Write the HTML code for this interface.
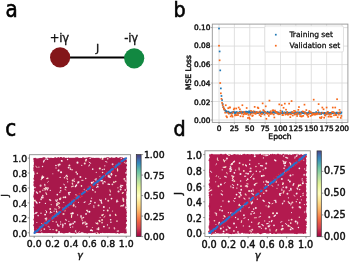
<!DOCTYPE html>
<html><head><meta charset="utf-8"><title>Figure</title>
<style>html,body{margin:0;padding:0;background:#fff;width:350px;height:262px;overflow:hidden}svg{display:block}</style>
</head><body>
<svg width="350" height="262" viewBox="0 0 350 262"><text transform="translate(5.6,17.2) scale(0.88,1)" style="font-family:DejaVu Sans,sans-serif;font-size:22.7px;stroke:#000;stroke-width:0.6px;paint-order:stroke" fill="#000">a</text>
<text transform="translate(173.6,16.7) scale(0.92,1)" style="font-family:DejaVu Sans,sans-serif;font-size:20.8px;stroke:#000;stroke-width:0.6px;paint-order:stroke" fill="#000">b</text>
<text transform="translate(5.2,135.6) scale(0.88,1)" style="font-family:DejaVu Sans,sans-serif;font-size:22.7px;stroke:#000;stroke-width:0.6px;paint-order:stroke" fill="#000">c</text>
<text transform="translate(173.6,135.5) scale(0.92,1)" style="font-family:DejaVu Sans,sans-serif;font-size:20.8px;stroke:#000;stroke-width:0.6px;paint-order:stroke" fill="#000">d</text>
<line x1="69" y1="57.4" x2="125" y2="57.4" stroke="#000" stroke-width="2"/>
<circle cx="60.1" cy="57.4" r="10.1" fill="#831619"/>
<circle cx="134.2" cy="58.3" r="10.1" fill="#128841"/>
<text x="49.8" y="41.6" style="font-family:'DejaVu Sans',sans-serif;stroke:#111;stroke-width:0.45px;paint-order:stroke;font-size:11.6px;stroke-width:0.3px" fill="#111">+<tspan style="font-family:Liberation Sans,sans-serif;font-size:12.4px">i</tspan>γ</text>
<text x="124.2" y="41.9" style="font-family:'DejaVu Sans',sans-serif;stroke:#111;stroke-width:0.45px;paint-order:stroke;font-size:11.6px;stroke-width:0.3px" fill="#111">-<tspan style="font-family:Liberation Sans,sans-serif;font-size:12.4px">i</tspan>γ</text>
<text x="96.0" y="51.7" style="font-family:'DejaVu Sans',sans-serif;stroke:#111;stroke-width:0.45px;paint-order:stroke;font-size:11px;stroke-width:0.3px" fill="#111">J</text>
<line x1="219.00" y1="24.1" x2="219.00" y2="122.4" stroke="#d8d8d8" stroke-width="0.8"/>
<line x1="234.38" y1="24.1" x2="234.38" y2="122.4" stroke="#d8d8d8" stroke-width="0.8"/>
<line x1="249.75" y1="24.1" x2="249.75" y2="122.4" stroke="#d8d8d8" stroke-width="0.8"/>
<line x1="265.12" y1="24.1" x2="265.12" y2="122.4" stroke="#d8d8d8" stroke-width="0.8"/>
<line x1="280.50" y1="24.1" x2="280.50" y2="122.4" stroke="#d8d8d8" stroke-width="0.8"/>
<line x1="295.88" y1="24.1" x2="295.88" y2="122.4" stroke="#d8d8d8" stroke-width="0.8"/>
<line x1="311.25" y1="24.1" x2="311.25" y2="122.4" stroke="#d8d8d8" stroke-width="0.8"/>
<line x1="326.62" y1="24.1" x2="326.62" y2="122.4" stroke="#d8d8d8" stroke-width="0.8"/>
<line x1="342.00" y1="24.1" x2="342.00" y2="122.4" stroke="#d8d8d8" stroke-width="0.8"/>
<line x1="212.3" y1="120.00" x2="347.9" y2="120.00" stroke="#d8d8d8" stroke-width="0.8"/>
<line x1="212.3" y1="101.52" x2="347.9" y2="101.52" stroke="#d8d8d8" stroke-width="0.8"/>
<line x1="212.3" y1="83.04" x2="347.9" y2="83.04" stroke="#d8d8d8" stroke-width="0.8"/>
<line x1="212.3" y1="64.56" x2="347.9" y2="64.56" stroke="#d8d8d8" stroke-width="0.8"/>
<line x1="212.3" y1="46.08" x2="347.9" y2="46.08" stroke="#d8d8d8" stroke-width="0.8"/>
<line x1="212.3" y1="27.60" x2="347.9" y2="27.60" stroke="#d8d8d8" stroke-width="0.8"/>
<rect x="218.15" y="27.67" width="1.7" height="1.7" fill="#1f77b4"/>
<rect x="218.77" y="50.59" width="1.7" height="1.7" fill="#1f77b4"/>
<rect x="219.38" y="69.53" width="1.7" height="1.7" fill="#1f77b4"/>
<rect x="220.00" y="87.55" width="1.7" height="1.7" fill="#1f77b4"/>
<rect x="220.61" y="95.13" width="1.7" height="1.7" fill="#1f77b4"/>
<rect x="221.22" y="99.19" width="1.7" height="1.7" fill="#1f77b4"/>
<rect x="221.84" y="103.16" width="1.7" height="1.7" fill="#1f77b4"/>
<rect x="222.46" y="106.21" width="1.7" height="1.7" fill="#1f77b4"/>
<rect x="223.07" y="107.69" width="1.7" height="1.7" fill="#1f77b4"/>
<rect x="223.69" y="108.80" width="1.7" height="1.7" fill="#1f77b4"/>
<rect x="224.30" y="109.54" width="1.7" height="1.7" fill="#1f77b4"/>
<rect x="224.91" y="110.09" width="1.7" height="1.7" fill="#1f77b4"/>
<rect x="225.53" y="110.56" width="1.7" height="1.7" fill="#1f77b4"/>
<rect x="226.15" y="111.58" width="1.7" height="1.7" fill="#1f77b4"/>
<rect x="226.76" y="111.15" width="1.7" height="1.7" fill="#1f77b4"/>
<rect x="227.38" y="110.81" width="1.7" height="1.7" fill="#1f77b4"/>
<rect x="227.99" y="111.99" width="1.7" height="1.7" fill="#1f77b4"/>
<rect x="228.61" y="111.53" width="1.7" height="1.7" fill="#1f77b4"/>
<rect x="229.22" y="112.36" width="1.7" height="1.7" fill="#1f77b4"/>
<rect x="229.84" y="112.05" width="1.7" height="1.7" fill="#1f77b4"/>
<rect x="230.45" y="112.38" width="1.7" height="1.7" fill="#1f77b4"/>
<rect x="231.06" y="111.50" width="1.7" height="1.7" fill="#1f77b4"/>
<rect x="231.68" y="112.09" width="1.7" height="1.7" fill="#1f77b4"/>
<rect x="232.30" y="111.25" width="1.7" height="1.7" fill="#1f77b4"/>
<rect x="232.91" y="111.32" width="1.7" height="1.7" fill="#1f77b4"/>
<rect x="233.53" y="111.52" width="1.7" height="1.7" fill="#1f77b4"/>
<rect x="234.14" y="112.82" width="1.7" height="1.7" fill="#1f77b4"/>
<rect x="234.75" y="111.74" width="1.7" height="1.7" fill="#1f77b4"/>
<rect x="235.37" y="111.47" width="1.7" height="1.7" fill="#1f77b4"/>
<rect x="235.99" y="111.39" width="1.7" height="1.7" fill="#1f77b4"/>
<rect x="236.60" y="112.31" width="1.7" height="1.7" fill="#1f77b4"/>
<rect x="237.22" y="111.73" width="1.7" height="1.7" fill="#1f77b4"/>
<rect x="237.83" y="112.01" width="1.7" height="1.7" fill="#1f77b4"/>
<rect x="238.44" y="111.93" width="1.7" height="1.7" fill="#1f77b4"/>
<rect x="239.06" y="110.89" width="1.7" height="1.7" fill="#1f77b4"/>
<rect x="239.68" y="111.94" width="1.7" height="1.7" fill="#1f77b4"/>
<rect x="240.29" y="111.51" width="1.7" height="1.7" fill="#1f77b4"/>
<rect x="240.91" y="111.01" width="1.7" height="1.7" fill="#1f77b4"/>
<rect x="241.52" y="111.83" width="1.7" height="1.7" fill="#1f77b4"/>
<rect x="242.14" y="111.57" width="1.7" height="1.7" fill="#1f77b4"/>
<rect x="242.75" y="111.46" width="1.7" height="1.7" fill="#1f77b4"/>
<rect x="243.37" y="111.49" width="1.7" height="1.7" fill="#1f77b4"/>
<rect x="243.98" y="112.21" width="1.7" height="1.7" fill="#1f77b4"/>
<rect x="244.59" y="111.49" width="1.7" height="1.7" fill="#1f77b4"/>
<rect x="245.21" y="110.79" width="1.7" height="1.7" fill="#1f77b4"/>
<rect x="245.83" y="112.40" width="1.7" height="1.7" fill="#1f77b4"/>
<rect x="246.44" y="111.07" width="1.7" height="1.7" fill="#1f77b4"/>
<rect x="247.06" y="111.49" width="1.7" height="1.7" fill="#1f77b4"/>
<rect x="247.67" y="111.92" width="1.7" height="1.7" fill="#1f77b4"/>
<rect x="248.28" y="110.46" width="1.7" height="1.7" fill="#1f77b4"/>
<rect x="248.90" y="111.15" width="1.7" height="1.7" fill="#1f77b4"/>
<rect x="249.52" y="112.24" width="1.7" height="1.7" fill="#1f77b4"/>
<rect x="250.13" y="111.54" width="1.7" height="1.7" fill="#1f77b4"/>
<rect x="250.75" y="111.27" width="1.7" height="1.7" fill="#1f77b4"/>
<rect x="251.36" y="111.70" width="1.7" height="1.7" fill="#1f77b4"/>
<rect x="251.97" y="111.22" width="1.7" height="1.7" fill="#1f77b4"/>
<rect x="252.59" y="111.64" width="1.7" height="1.7" fill="#1f77b4"/>
<rect x="253.21" y="111.24" width="1.7" height="1.7" fill="#1f77b4"/>
<rect x="253.82" y="110.82" width="1.7" height="1.7" fill="#1f77b4"/>
<rect x="254.44" y="112.00" width="1.7" height="1.7" fill="#1f77b4"/>
<rect x="255.05" y="111.52" width="1.7" height="1.7" fill="#1f77b4"/>
<rect x="255.66" y="111.89" width="1.7" height="1.7" fill="#1f77b4"/>
<rect x="256.28" y="111.57" width="1.7" height="1.7" fill="#1f77b4"/>
<rect x="256.89" y="112.30" width="1.7" height="1.7" fill="#1f77b4"/>
<rect x="257.51" y="111.97" width="1.7" height="1.7" fill="#1f77b4"/>
<rect x="258.12" y="111.77" width="1.7" height="1.7" fill="#1f77b4"/>
<rect x="258.74" y="111.16" width="1.7" height="1.7" fill="#1f77b4"/>
<rect x="259.35" y="111.03" width="1.7" height="1.7" fill="#1f77b4"/>
<rect x="259.97" y="112.41" width="1.7" height="1.7" fill="#1f77b4"/>
<rect x="260.58" y="112.12" width="1.7" height="1.7" fill="#1f77b4"/>
<rect x="261.20" y="111.33" width="1.7" height="1.7" fill="#1f77b4"/>
<rect x="261.81" y="112.79" width="1.7" height="1.7" fill="#1f77b4"/>
<rect x="262.43" y="111.95" width="1.7" height="1.7" fill="#1f77b4"/>
<rect x="263.04" y="111.75" width="1.7" height="1.7" fill="#1f77b4"/>
<rect x="263.66" y="111.01" width="1.7" height="1.7" fill="#1f77b4"/>
<rect x="264.27" y="111.33" width="1.7" height="1.7" fill="#1f77b4"/>
<rect x="264.89" y="111.90" width="1.7" height="1.7" fill="#1f77b4"/>
<rect x="265.50" y="111.93" width="1.7" height="1.7" fill="#1f77b4"/>
<rect x="266.12" y="111.87" width="1.7" height="1.7" fill="#1f77b4"/>
<rect x="266.73" y="110.89" width="1.7" height="1.7" fill="#1f77b4"/>
<rect x="267.35" y="111.98" width="1.7" height="1.7" fill="#1f77b4"/>
<rect x="267.96" y="111.91" width="1.7" height="1.7" fill="#1f77b4"/>
<rect x="268.58" y="111.56" width="1.7" height="1.7" fill="#1f77b4"/>
<rect x="269.19" y="111.82" width="1.7" height="1.7" fill="#1f77b4"/>
<rect x="269.81" y="111.87" width="1.7" height="1.7" fill="#1f77b4"/>
<rect x="270.42" y="112.38" width="1.7" height="1.7" fill="#1f77b4"/>
<rect x="271.04" y="111.78" width="1.7" height="1.7" fill="#1f77b4"/>
<rect x="271.65" y="112.02" width="1.7" height="1.7" fill="#1f77b4"/>
<rect x="272.27" y="111.14" width="1.7" height="1.7" fill="#1f77b4"/>
<rect x="272.88" y="111.43" width="1.7" height="1.7" fill="#1f77b4"/>
<rect x="273.50" y="111.81" width="1.7" height="1.7" fill="#1f77b4"/>
<rect x="274.11" y="111.43" width="1.7" height="1.7" fill="#1f77b4"/>
<rect x="274.73" y="111.99" width="1.7" height="1.7" fill="#1f77b4"/>
<rect x="275.34" y="111.23" width="1.7" height="1.7" fill="#1f77b4"/>
<rect x="275.96" y="111.82" width="1.7" height="1.7" fill="#1f77b4"/>
<rect x="276.57" y="111.50" width="1.7" height="1.7" fill="#1f77b4"/>
<rect x="277.19" y="112.54" width="1.7" height="1.7" fill="#1f77b4"/>
<rect x="277.80" y="111.64" width="1.7" height="1.7" fill="#1f77b4"/>
<rect x="278.42" y="112.78" width="1.7" height="1.7" fill="#1f77b4"/>
<rect x="279.03" y="112.97" width="1.7" height="1.7" fill="#1f77b4"/>
<rect x="279.65" y="112.02" width="1.7" height="1.7" fill="#1f77b4"/>
<rect x="280.26" y="112.35" width="1.7" height="1.7" fill="#1f77b4"/>
<rect x="280.88" y="111.77" width="1.7" height="1.7" fill="#1f77b4"/>
<rect x="281.50" y="110.62" width="1.7" height="1.7" fill="#1f77b4"/>
<rect x="282.11" y="112.33" width="1.7" height="1.7" fill="#1f77b4"/>
<rect x="282.72" y="112.22" width="1.7" height="1.7" fill="#1f77b4"/>
<rect x="283.34" y="111.77" width="1.7" height="1.7" fill="#1f77b4"/>
<rect x="283.95" y="111.62" width="1.7" height="1.7" fill="#1f77b4"/>
<rect x="284.57" y="111.99" width="1.7" height="1.7" fill="#1f77b4"/>
<rect x="285.18" y="112.01" width="1.7" height="1.7" fill="#1f77b4"/>
<rect x="285.80" y="111.52" width="1.7" height="1.7" fill="#1f77b4"/>
<rect x="286.41" y="111.62" width="1.7" height="1.7" fill="#1f77b4"/>
<rect x="287.03" y="112.49" width="1.7" height="1.7" fill="#1f77b4"/>
<rect x="287.64" y="111.97" width="1.7" height="1.7" fill="#1f77b4"/>
<rect x="288.26" y="111.91" width="1.7" height="1.7" fill="#1f77b4"/>
<rect x="288.88" y="112.52" width="1.7" height="1.7" fill="#1f77b4"/>
<rect x="289.49" y="111.80" width="1.7" height="1.7" fill="#1f77b4"/>
<rect x="290.10" y="112.42" width="1.7" height="1.7" fill="#1f77b4"/>
<rect x="290.72" y="111.41" width="1.7" height="1.7" fill="#1f77b4"/>
<rect x="291.33" y="111.85" width="1.7" height="1.7" fill="#1f77b4"/>
<rect x="291.95" y="111.91" width="1.7" height="1.7" fill="#1f77b4"/>
<rect x="292.56" y="112.29" width="1.7" height="1.7" fill="#1f77b4"/>
<rect x="293.18" y="112.04" width="1.7" height="1.7" fill="#1f77b4"/>
<rect x="293.79" y="113.09" width="1.7" height="1.7" fill="#1f77b4"/>
<rect x="294.41" y="112.61" width="1.7" height="1.7" fill="#1f77b4"/>
<rect x="295.02" y="111.79" width="1.7" height="1.7" fill="#1f77b4"/>
<rect x="295.64" y="113.17" width="1.7" height="1.7" fill="#1f77b4"/>
<rect x="296.25" y="111.53" width="1.7" height="1.7" fill="#1f77b4"/>
<rect x="296.87" y="112.97" width="1.7" height="1.7" fill="#1f77b4"/>
<rect x="297.48" y="111.59" width="1.7" height="1.7" fill="#1f77b4"/>
<rect x="298.10" y="112.49" width="1.7" height="1.7" fill="#1f77b4"/>
<rect x="298.71" y="111.59" width="1.7" height="1.7" fill="#1f77b4"/>
<rect x="299.33" y="111.96" width="1.7" height="1.7" fill="#1f77b4"/>
<rect x="299.94" y="112.89" width="1.7" height="1.7" fill="#1f77b4"/>
<rect x="300.56" y="111.35" width="1.7" height="1.7" fill="#1f77b4"/>
<rect x="301.17" y="111.25" width="1.7" height="1.7" fill="#1f77b4"/>
<rect x="301.79" y="112.09" width="1.7" height="1.7" fill="#1f77b4"/>
<rect x="302.40" y="112.21" width="1.7" height="1.7" fill="#1f77b4"/>
<rect x="303.02" y="112.15" width="1.7" height="1.7" fill="#1f77b4"/>
<rect x="303.63" y="112.61" width="1.7" height="1.7" fill="#1f77b4"/>
<rect x="304.25" y="111.46" width="1.7" height="1.7" fill="#1f77b4"/>
<rect x="304.87" y="112.38" width="1.7" height="1.7" fill="#1f77b4"/>
<rect x="305.48" y="112.11" width="1.7" height="1.7" fill="#1f77b4"/>
<rect x="306.09" y="112.53" width="1.7" height="1.7" fill="#1f77b4"/>
<rect x="306.71" y="112.44" width="1.7" height="1.7" fill="#1f77b4"/>
<rect x="307.32" y="112.81" width="1.7" height="1.7" fill="#1f77b4"/>
<rect x="307.94" y="111.41" width="1.7" height="1.7" fill="#1f77b4"/>
<rect x="308.55" y="112.20" width="1.7" height="1.7" fill="#1f77b4"/>
<rect x="309.17" y="111.58" width="1.7" height="1.7" fill="#1f77b4"/>
<rect x="309.78" y="112.11" width="1.7" height="1.7" fill="#1f77b4"/>
<rect x="310.40" y="112.51" width="1.7" height="1.7" fill="#1f77b4"/>
<rect x="311.01" y="112.31" width="1.7" height="1.7" fill="#1f77b4"/>
<rect x="311.63" y="112.45" width="1.7" height="1.7" fill="#1f77b4"/>
<rect x="312.25" y="112.14" width="1.7" height="1.7" fill="#1f77b4"/>
<rect x="312.86" y="112.36" width="1.7" height="1.7" fill="#1f77b4"/>
<rect x="313.47" y="112.32" width="1.7" height="1.7" fill="#1f77b4"/>
<rect x="314.09" y="112.93" width="1.7" height="1.7" fill="#1f77b4"/>
<rect x="314.70" y="112.61" width="1.7" height="1.7" fill="#1f77b4"/>
<rect x="315.32" y="111.25" width="1.7" height="1.7" fill="#1f77b4"/>
<rect x="315.93" y="112.55" width="1.7" height="1.7" fill="#1f77b4"/>
<rect x="316.55" y="112.77" width="1.7" height="1.7" fill="#1f77b4"/>
<rect x="317.16" y="112.00" width="1.7" height="1.7" fill="#1f77b4"/>
<rect x="317.78" y="111.41" width="1.7" height="1.7" fill="#1f77b4"/>
<rect x="318.39" y="113.01" width="1.7" height="1.7" fill="#1f77b4"/>
<rect x="319.01" y="112.32" width="1.7" height="1.7" fill="#1f77b4"/>
<rect x="319.62" y="112.56" width="1.7" height="1.7" fill="#1f77b4"/>
<rect x="320.24" y="113.19" width="1.7" height="1.7" fill="#1f77b4"/>
<rect x="320.85" y="111.81" width="1.7" height="1.7" fill="#1f77b4"/>
<rect x="321.47" y="112.24" width="1.7" height="1.7" fill="#1f77b4"/>
<rect x="322.08" y="112.19" width="1.7" height="1.7" fill="#1f77b4"/>
<rect x="322.70" y="112.66" width="1.7" height="1.7" fill="#1f77b4"/>
<rect x="323.31" y="111.99" width="1.7" height="1.7" fill="#1f77b4"/>
<rect x="323.93" y="112.55" width="1.7" height="1.7" fill="#1f77b4"/>
<rect x="324.54" y="112.33" width="1.7" height="1.7" fill="#1f77b4"/>
<rect x="325.16" y="112.88" width="1.7" height="1.7" fill="#1f77b4"/>
<rect x="325.77" y="112.94" width="1.7" height="1.7" fill="#1f77b4"/>
<rect x="326.39" y="111.53" width="1.7" height="1.7" fill="#1f77b4"/>
<rect x="327.00" y="112.56" width="1.7" height="1.7" fill="#1f77b4"/>
<rect x="327.62" y="112.12" width="1.7" height="1.7" fill="#1f77b4"/>
<rect x="328.23" y="112.31" width="1.7" height="1.7" fill="#1f77b4"/>
<rect x="328.85" y="112.54" width="1.7" height="1.7" fill="#1f77b4"/>
<rect x="329.46" y="112.58" width="1.7" height="1.7" fill="#1f77b4"/>
<rect x="330.08" y="111.96" width="1.7" height="1.7" fill="#1f77b4"/>
<rect x="330.69" y="112.48" width="1.7" height="1.7" fill="#1f77b4"/>
<rect x="331.31" y="112.40" width="1.7" height="1.7" fill="#1f77b4"/>
<rect x="331.92" y="112.31" width="1.7" height="1.7" fill="#1f77b4"/>
<rect x="332.54" y="111.67" width="1.7" height="1.7" fill="#1f77b4"/>
<rect x="333.15" y="111.96" width="1.7" height="1.7" fill="#1f77b4"/>
<rect x="333.77" y="112.13" width="1.7" height="1.7" fill="#1f77b4"/>
<rect x="334.38" y="112.66" width="1.7" height="1.7" fill="#1f77b4"/>
<rect x="335.00" y="113.12" width="1.7" height="1.7" fill="#1f77b4"/>
<rect x="335.62" y="111.83" width="1.7" height="1.7" fill="#1f77b4"/>
<rect x="336.23" y="111.82" width="1.7" height="1.7" fill="#1f77b4"/>
<rect x="336.84" y="112.44" width="1.7" height="1.7" fill="#1f77b4"/>
<rect x="337.46" y="112.07" width="1.7" height="1.7" fill="#1f77b4"/>
<rect x="338.07" y="111.94" width="1.7" height="1.7" fill="#1f77b4"/>
<rect x="338.69" y="111.92" width="1.7" height="1.7" fill="#1f77b4"/>
<rect x="339.30" y="111.88" width="1.7" height="1.7" fill="#1f77b4"/>
<rect x="339.92" y="112.65" width="1.7" height="1.7" fill="#1f77b4"/>
<rect x="340.53" y="111.56" width="1.7" height="1.7" fill="#1f77b4"/>
<rect x="218.15" y="44.86" width="1.7" height="1.7" fill="#f7681a"/>
<rect x="218.77" y="59.46" width="1.7" height="1.7" fill="#f7681a"/>
<rect x="219.38" y="82.19" width="1.7" height="1.7" fill="#f7681a"/>
<rect x="220.00" y="92.45" width="1.7" height="1.7" fill="#f7681a"/>
<rect x="220.61" y="97.99" width="1.7" height="1.7" fill="#f7681a"/>
<rect x="221.22" y="102.06" width="1.7" height="1.7" fill="#f7681a"/>
<rect x="221.84" y="104.37" width="1.7" height="1.7" fill="#f7681a"/>
<rect x="222.46" y="106.40" width="1.7" height="1.7" fill="#f7681a"/>
<rect x="223.07" y="107.88" width="1.7" height="1.7" fill="#f7681a"/>
<rect x="223.69" y="108.80" width="1.7" height="1.7" fill="#f7681a"/>
<rect x="224.30" y="111.80" width="1.7" height="1.7" fill="#f7681a"/>
<rect x="224.91" y="104.37" width="1.7" height="1.7" fill="#f7681a"/>
<rect x="225.53" y="115.40" width="1.7" height="1.7" fill="#f7681a"/>
<rect x="226.15" y="116.44" width="1.7" height="1.7" fill="#f7681a"/>
<rect x="226.76" y="111.70" width="1.7" height="1.7" fill="#f7681a"/>
<rect x="227.38" y="107.36" width="1.7" height="1.7" fill="#f7681a"/>
<rect x="227.99" y="112.84" width="1.7" height="1.7" fill="#f7681a"/>
<rect x="228.61" y="106.68" width="1.7" height="1.7" fill="#f7681a"/>
<rect x="229.22" y="106.58" width="1.7" height="1.7" fill="#f7681a"/>
<rect x="229.84" y="115.51" width="1.7" height="1.7" fill="#f7681a"/>
<rect x="230.45" y="112.80" width="1.7" height="1.7" fill="#f7681a"/>
<rect x="231.06" y="114.45" width="1.7" height="1.7" fill="#f7681a"/>
<rect x="231.68" y="115.83" width="1.7" height="1.7" fill="#f7681a"/>
<rect x="232.30" y="111.48" width="1.7" height="1.7" fill="#f7681a"/>
<rect x="232.91" y="108.58" width="1.7" height="1.7" fill="#f7681a"/>
<rect x="233.53" y="107.60" width="1.7" height="1.7" fill="#f7681a"/>
<rect x="234.14" y="114.55" width="1.7" height="1.7" fill="#f7681a"/>
<rect x="234.75" y="113.88" width="1.7" height="1.7" fill="#f7681a"/>
<rect x="235.37" y="107.66" width="1.7" height="1.7" fill="#f7681a"/>
<rect x="235.99" y="114.36" width="1.7" height="1.7" fill="#f7681a"/>
<rect x="236.60" y="112.17" width="1.7" height="1.7" fill="#f7681a"/>
<rect x="237.22" y="114.16" width="1.7" height="1.7" fill="#f7681a"/>
<rect x="237.83" y="106.68" width="1.7" height="1.7" fill="#f7681a"/>
<rect x="238.44" y="111.89" width="1.7" height="1.7" fill="#f7681a"/>
<rect x="239.06" y="108.47" width="1.7" height="1.7" fill="#f7681a"/>
<rect x="239.68" y="115.43" width="1.7" height="1.7" fill="#f7681a"/>
<rect x="240.29" y="110.80" width="1.7" height="1.7" fill="#f7681a"/>
<rect x="240.91" y="112.79" width="1.7" height="1.7" fill="#f7681a"/>
<rect x="241.52" y="104.37" width="1.7" height="1.7" fill="#f7681a"/>
<rect x="242.14" y="115.57" width="1.7" height="1.7" fill="#f7681a"/>
<rect x="242.75" y="113.56" width="1.7" height="1.7" fill="#f7681a"/>
<rect x="243.37" y="111.12" width="1.7" height="1.7" fill="#f7681a"/>
<rect x="243.98" y="112.81" width="1.7" height="1.7" fill="#f7681a"/>
<rect x="244.59" y="112.48" width="1.7" height="1.7" fill="#f7681a"/>
<rect x="245.21" y="113.24" width="1.7" height="1.7" fill="#f7681a"/>
<rect x="245.83" y="107.14" width="1.7" height="1.7" fill="#f7681a"/>
<rect x="246.44" y="112.70" width="1.7" height="1.7" fill="#f7681a"/>
<rect x="247.06" y="117.14" width="1.7" height="1.7" fill="#f7681a"/>
<rect x="247.67" y="114.08" width="1.7" height="1.7" fill="#f7681a"/>
<rect x="248.28" y="116.68" width="1.7" height="1.7" fill="#f7681a"/>
<rect x="248.90" y="117.95" width="1.7" height="1.7" fill="#f7681a"/>
<rect x="249.52" y="113.77" width="1.7" height="1.7" fill="#f7681a"/>
<rect x="250.13" y="109.98" width="1.7" height="1.7" fill="#f7681a"/>
<rect x="250.75" y="112.60" width="1.7" height="1.7" fill="#f7681a"/>
<rect x="251.36" y="115.09" width="1.7" height="1.7" fill="#f7681a"/>
<rect x="251.97" y="114.62" width="1.7" height="1.7" fill="#f7681a"/>
<rect x="252.59" y="110.42" width="1.7" height="1.7" fill="#f7681a"/>
<rect x="253.21" y="112.40" width="1.7" height="1.7" fill="#f7681a"/>
<rect x="253.82" y="106.03" width="1.7" height="1.7" fill="#f7681a"/>
<rect x="254.44" y="112.84" width="1.7" height="1.7" fill="#f7681a"/>
<rect x="255.05" y="112.66" width="1.7" height="1.7" fill="#f7681a"/>
<rect x="255.66" y="111.11" width="1.7" height="1.7" fill="#f7681a"/>
<rect x="256.28" y="111.63" width="1.7" height="1.7" fill="#f7681a"/>
<rect x="256.89" y="106.68" width="1.7" height="1.7" fill="#f7681a"/>
<rect x="257.51" y="107.32" width="1.7" height="1.7" fill="#f7681a"/>
<rect x="258.12" y="111.73" width="1.7" height="1.7" fill="#f7681a"/>
<rect x="258.74" y="114.16" width="1.7" height="1.7" fill="#f7681a"/>
<rect x="259.35" y="110.55" width="1.7" height="1.7" fill="#f7681a"/>
<rect x="259.97" y="115.37" width="1.7" height="1.7" fill="#f7681a"/>
<rect x="260.58" y="113.07" width="1.7" height="1.7" fill="#f7681a"/>
<rect x="261.20" y="112.81" width="1.7" height="1.7" fill="#f7681a"/>
<rect x="261.81" y="102.52" width="1.7" height="1.7" fill="#f7681a"/>
<rect x="262.43" y="109.30" width="1.7" height="1.7" fill="#f7681a"/>
<rect x="263.04" y="109.84" width="1.7" height="1.7" fill="#f7681a"/>
<rect x="263.66" y="113.76" width="1.7" height="1.7" fill="#f7681a"/>
<rect x="264.27" y="111.25" width="1.7" height="1.7" fill="#f7681a"/>
<rect x="264.89" y="105.47" width="1.7" height="1.7" fill="#f7681a"/>
<rect x="265.50" y="117.95" width="1.7" height="1.7" fill="#f7681a"/>
<rect x="266.12" y="112.33" width="1.7" height="1.7" fill="#f7681a"/>
<rect x="266.73" y="112.97" width="1.7" height="1.7" fill="#f7681a"/>
<rect x="267.35" y="112.68" width="1.7" height="1.7" fill="#f7681a"/>
<rect x="267.96" y="115.04" width="1.7" height="1.7" fill="#f7681a"/>
<rect x="268.58" y="99.75" width="1.7" height="1.7" fill="#f7681a"/>
<rect x="269.19" y="113.23" width="1.7" height="1.7" fill="#f7681a"/>
<rect x="269.81" y="110.46" width="1.7" height="1.7" fill="#f7681a"/>
<rect x="270.42" y="112.20" width="1.7" height="1.7" fill="#f7681a"/>
<rect x="271.04" y="112.89" width="1.7" height="1.7" fill="#f7681a"/>
<rect x="271.65" y="109.78" width="1.7" height="1.7" fill="#f7681a"/>
<rect x="272.27" y="109.39" width="1.7" height="1.7" fill="#f7681a"/>
<rect x="272.88" y="113.69" width="1.7" height="1.7" fill="#f7681a"/>
<rect x="273.50" y="116.60" width="1.7" height="1.7" fill="#f7681a"/>
<rect x="274.11" y="109.72" width="1.7" height="1.7" fill="#f7681a"/>
<rect x="274.73" y="110.95" width="1.7" height="1.7" fill="#f7681a"/>
<rect x="275.34" y="111.06" width="1.7" height="1.7" fill="#f7681a"/>
<rect x="275.96" y="111.57" width="1.7" height="1.7" fill="#f7681a"/>
<rect x="276.57" y="112.71" width="1.7" height="1.7" fill="#f7681a"/>
<rect x="277.19" y="112.50" width="1.7" height="1.7" fill="#f7681a"/>
<rect x="277.80" y="113.45" width="1.7" height="1.7" fill="#f7681a"/>
<rect x="278.42" y="103.53" width="1.7" height="1.7" fill="#f7681a"/>
<rect x="279.03" y="112.84" width="1.7" height="1.7" fill="#f7681a"/>
<rect x="279.65" y="109.89" width="1.7" height="1.7" fill="#f7681a"/>
<rect x="280.26" y="111.84" width="1.7" height="1.7" fill="#f7681a"/>
<rect x="280.88" y="104.37" width="1.7" height="1.7" fill="#f7681a"/>
<rect x="281.50" y="114.15" width="1.7" height="1.7" fill="#f7681a"/>
<rect x="282.11" y="114.27" width="1.7" height="1.7" fill="#f7681a"/>
<rect x="282.72" y="106.94" width="1.7" height="1.7" fill="#f7681a"/>
<rect x="283.34" y="111.96" width="1.7" height="1.7" fill="#f7681a"/>
<rect x="283.95" y="102.80" width="1.7" height="1.7" fill="#f7681a"/>
<rect x="284.57" y="113.71" width="1.7" height="1.7" fill="#f7681a"/>
<rect x="285.18" y="108.86" width="1.7" height="1.7" fill="#f7681a"/>
<rect x="285.80" y="113.15" width="1.7" height="1.7" fill="#f7681a"/>
<rect x="286.41" y="111.24" width="1.7" height="1.7" fill="#f7681a"/>
<rect x="287.03" y="113.82" width="1.7" height="1.7" fill="#f7681a"/>
<rect x="287.64" y="113.49" width="1.7" height="1.7" fill="#f7681a"/>
<rect x="288.26" y="102.80" width="1.7" height="1.7" fill="#f7681a"/>
<rect x="288.88" y="112.82" width="1.7" height="1.7" fill="#f7681a"/>
<rect x="289.49" y="116.29" width="1.7" height="1.7" fill="#f7681a"/>
<rect x="290.10" y="113.53" width="1.7" height="1.7" fill="#f7681a"/>
<rect x="290.72" y="100.21" width="1.7" height="1.7" fill="#f7681a"/>
<rect x="291.33" y="111.27" width="1.7" height="1.7" fill="#f7681a"/>
<rect x="291.95" y="114.64" width="1.7" height="1.7" fill="#f7681a"/>
<rect x="292.56" y="111.90" width="1.7" height="1.7" fill="#f7681a"/>
<rect x="293.18" y="109.98" width="1.7" height="1.7" fill="#f7681a"/>
<rect x="293.79" y="113.72" width="1.7" height="1.7" fill="#f7681a"/>
<rect x="294.41" y="110.41" width="1.7" height="1.7" fill="#f7681a"/>
<rect x="295.02" y="112.71" width="1.7" height="1.7" fill="#f7681a"/>
<rect x="295.64" y="113.11" width="1.7" height="1.7" fill="#f7681a"/>
<rect x="296.25" y="115.13" width="1.7" height="1.7" fill="#f7681a"/>
<rect x="296.87" y="112.18" width="1.7" height="1.7" fill="#f7681a"/>
<rect x="297.48" y="109.02" width="1.7" height="1.7" fill="#f7681a"/>
<rect x="298.10" y="106.21" width="1.7" height="1.7" fill="#f7681a"/>
<rect x="298.71" y="113.54" width="1.7" height="1.7" fill="#f7681a"/>
<rect x="299.33" y="115.26" width="1.7" height="1.7" fill="#f7681a"/>
<rect x="299.94" y="112.49" width="1.7" height="1.7" fill="#f7681a"/>
<rect x="300.56" y="115.68" width="1.7" height="1.7" fill="#f7681a"/>
<rect x="301.17" y="115.40" width="1.7" height="1.7" fill="#f7681a"/>
<rect x="301.79" y="110.56" width="1.7" height="1.7" fill="#f7681a"/>
<rect x="302.40" y="115.00" width="1.7" height="1.7" fill="#f7681a"/>
<rect x="303.02" y="110.97" width="1.7" height="1.7" fill="#f7681a"/>
<rect x="303.63" y="103.81" width="1.7" height="1.7" fill="#f7681a"/>
<rect x="304.25" y="112.65" width="1.7" height="1.7" fill="#f7681a"/>
<rect x="304.87" y="112.06" width="1.7" height="1.7" fill="#f7681a"/>
<rect x="305.48" y="109.22" width="1.7" height="1.7" fill="#f7681a"/>
<rect x="306.09" y="113.60" width="1.7" height="1.7" fill="#f7681a"/>
<rect x="306.71" y="114.41" width="1.7" height="1.7" fill="#f7681a"/>
<rect x="307.32" y="115.96" width="1.7" height="1.7" fill="#f7681a"/>
<rect x="307.94" y="113.13" width="1.7" height="1.7" fill="#f7681a"/>
<rect x="308.55" y="110.21" width="1.7" height="1.7" fill="#f7681a"/>
<rect x="309.17" y="111.27" width="1.7" height="1.7" fill="#f7681a"/>
<rect x="309.78" y="115.15" width="1.7" height="1.7" fill="#f7681a"/>
<rect x="310.40" y="111.54" width="1.7" height="1.7" fill="#f7681a"/>
<rect x="311.01" y="114.27" width="1.7" height="1.7" fill="#f7681a"/>
<rect x="311.63" y="112.65" width="1.7" height="1.7" fill="#f7681a"/>
<rect x="312.25" y="113.67" width="1.7" height="1.7" fill="#f7681a"/>
<rect x="312.86" y="98.82" width="1.7" height="1.7" fill="#f7681a"/>
<rect x="313.47" y="112.66" width="1.7" height="1.7" fill="#f7681a"/>
<rect x="314.09" y="113.88" width="1.7" height="1.7" fill="#f7681a"/>
<rect x="314.70" y="113.36" width="1.7" height="1.7" fill="#f7681a"/>
<rect x="315.32" y="112.86" width="1.7" height="1.7" fill="#f7681a"/>
<rect x="315.93" y="113.46" width="1.7" height="1.7" fill="#f7681a"/>
<rect x="316.55" y="112.27" width="1.7" height="1.7" fill="#f7681a"/>
<rect x="317.16" y="109.49" width="1.7" height="1.7" fill="#f7681a"/>
<rect x="317.78" y="103.26" width="1.7" height="1.7" fill="#f7681a"/>
<rect x="318.39" y="113.20" width="1.7" height="1.7" fill="#f7681a"/>
<rect x="319.01" y="116.74" width="1.7" height="1.7" fill="#f7681a"/>
<rect x="319.62" y="112.53" width="1.7" height="1.7" fill="#f7681a"/>
<rect x="320.24" y="117.28" width="1.7" height="1.7" fill="#f7681a"/>
<rect x="320.85" y="116.19" width="1.7" height="1.7" fill="#f7681a"/>
<rect x="321.47" y="106.68" width="1.7" height="1.7" fill="#f7681a"/>
<rect x="322.08" y="111.91" width="1.7" height="1.7" fill="#f7681a"/>
<rect x="322.70" y="108.43" width="1.7" height="1.7" fill="#f7681a"/>
<rect x="323.31" y="116.83" width="1.7" height="1.7" fill="#f7681a"/>
<rect x="323.93" y="114.11" width="1.7" height="1.7" fill="#f7681a"/>
<rect x="324.54" y="114.74" width="1.7" height="1.7" fill="#f7681a"/>
<rect x="325.16" y="112.07" width="1.7" height="1.7" fill="#f7681a"/>
<rect x="325.77" y="106.68" width="1.7" height="1.7" fill="#f7681a"/>
<rect x="326.39" y="112.94" width="1.7" height="1.7" fill="#f7681a"/>
<rect x="327.00" y="110.96" width="1.7" height="1.7" fill="#f7681a"/>
<rect x="327.62" y="115.77" width="1.7" height="1.7" fill="#f7681a"/>
<rect x="328.23" y="113.51" width="1.7" height="1.7" fill="#f7681a"/>
<rect x="328.85" y="113.76" width="1.7" height="1.7" fill="#f7681a"/>
<rect x="329.46" y="115.75" width="1.7" height="1.7" fill="#f7681a"/>
<rect x="330.08" y="113.18" width="1.7" height="1.7" fill="#f7681a"/>
<rect x="330.69" y="115.76" width="1.7" height="1.7" fill="#f7681a"/>
<rect x="331.31" y="111.16" width="1.7" height="1.7" fill="#f7681a"/>
<rect x="331.92" y="106.68" width="1.7" height="1.7" fill="#f7681a"/>
<rect x="332.54" y="111.23" width="1.7" height="1.7" fill="#f7681a"/>
<rect x="333.15" y="114.41" width="1.7" height="1.7" fill="#f7681a"/>
<rect x="333.77" y="112.40" width="1.7" height="1.7" fill="#f7681a"/>
<rect x="334.38" y="106.68" width="1.7" height="1.7" fill="#f7681a"/>
<rect x="335.00" y="114.25" width="1.7" height="1.7" fill="#f7681a"/>
<rect x="335.62" y="114.15" width="1.7" height="1.7" fill="#f7681a"/>
<rect x="336.23" y="98.36" width="1.7" height="1.7" fill="#f7681a"/>
<rect x="336.84" y="116.41" width="1.7" height="1.7" fill="#f7681a"/>
<rect x="337.46" y="111.87" width="1.7" height="1.7" fill="#f7681a"/>
<rect x="338.07" y="113.87" width="1.7" height="1.7" fill="#f7681a"/>
<rect x="338.69" y="109.04" width="1.7" height="1.7" fill="#f7681a"/>
<rect x="339.30" y="111.46" width="1.7" height="1.7" fill="#f7681a"/>
<rect x="339.92" y="117.03" width="1.7" height="1.7" fill="#f7681a"/>
<rect x="340.53" y="115.10" width="1.7" height="1.7" fill="#f7681a"/>
<rect x="212.3" y="24.1" width="135.60" height="98.30" fill="none" stroke="#959595" stroke-width="0.9"/>
<line x1="210.8" y1="120.00" x2="212.3" y2="120.00" stroke="#888" stroke-width="0.7"/>
<text x="210.5" y="123.30" text-anchor="end" style="font-family:'DejaVu Sans',sans-serif;stroke:#111;stroke-width:0.45px;paint-order:stroke;font-size:7.4px" fill="#111">0.00</text>
<line x1="210.8" y1="101.52" x2="212.3" y2="101.52" stroke="#888" stroke-width="0.7"/>
<text x="210.5" y="104.57" text-anchor="end" style="font-family:'DejaVu Sans',sans-serif;stroke:#111;stroke-width:0.45px;paint-order:stroke;font-size:7.4px" fill="#111">0.02</text>
<line x1="210.8" y1="83.04" x2="212.3" y2="83.04" stroke="#888" stroke-width="0.7"/>
<text x="210.5" y="85.84" text-anchor="end" style="font-family:'DejaVu Sans',sans-serif;stroke:#111;stroke-width:0.45px;paint-order:stroke;font-size:7.4px" fill="#111">0.04</text>
<line x1="210.8" y1="64.56" x2="212.3" y2="64.56" stroke="#888" stroke-width="0.7"/>
<text x="210.5" y="67.11" text-anchor="end" style="font-family:'DejaVu Sans',sans-serif;stroke:#111;stroke-width:0.45px;paint-order:stroke;font-size:7.4px" fill="#111">0.06</text>
<line x1="210.8" y1="46.08" x2="212.3" y2="46.08" stroke="#888" stroke-width="0.7"/>
<text x="210.5" y="48.38" text-anchor="end" style="font-family:'DejaVu Sans',sans-serif;stroke:#111;stroke-width:0.45px;paint-order:stroke;font-size:7.4px" fill="#111">0.08</text>
<line x1="210.8" y1="27.60" x2="212.3" y2="27.60" stroke="#888" stroke-width="0.7"/>
<text x="210.5" y="29.65" text-anchor="end" style="font-family:'DejaVu Sans',sans-serif;stroke:#111;stroke-width:0.45px;paint-order:stroke;font-size:7.4px" fill="#111">0.10</text>
<line x1="219.00" y1="122.4" x2="219.00" y2="123.9" stroke="#888" stroke-width="0.7"/>
<text x="219.00" y="130.9" text-anchor="middle" style="font-family:'DejaVu Sans',sans-serif;stroke:#111;stroke-width:0.45px;paint-order:stroke;font-size:7.4px" fill="#111">0</text>
<line x1="234.38" y1="122.4" x2="234.38" y2="123.9" stroke="#888" stroke-width="0.7"/>
<text x="234.38" y="130.9" text-anchor="middle" style="font-family:'DejaVu Sans',sans-serif;stroke:#111;stroke-width:0.45px;paint-order:stroke;font-size:7.4px" fill="#111">25</text>
<line x1="249.75" y1="122.4" x2="249.75" y2="123.9" stroke="#888" stroke-width="0.7"/>
<text x="249.75" y="130.9" text-anchor="middle" style="font-family:'DejaVu Sans',sans-serif;stroke:#111;stroke-width:0.45px;paint-order:stroke;font-size:7.4px" fill="#111">50</text>
<line x1="265.12" y1="122.4" x2="265.12" y2="123.9" stroke="#888" stroke-width="0.7"/>
<text x="265.12" y="130.9" text-anchor="middle" style="font-family:'DejaVu Sans',sans-serif;stroke:#111;stroke-width:0.45px;paint-order:stroke;font-size:7.4px" fill="#111">75</text>
<line x1="280.50" y1="122.4" x2="280.50" y2="123.9" stroke="#888" stroke-width="0.7"/>
<text x="280.50" y="130.9" text-anchor="middle" style="font-family:'DejaVu Sans',sans-serif;stroke:#111;stroke-width:0.45px;paint-order:stroke;font-size:7.4px" fill="#111">100</text>
<line x1="295.88" y1="122.4" x2="295.88" y2="123.9" stroke="#888" stroke-width="0.7"/>
<text x="295.88" y="130.9" text-anchor="middle" style="font-family:'DejaVu Sans',sans-serif;stroke:#111;stroke-width:0.45px;paint-order:stroke;font-size:7.4px" fill="#111">125</text>
<line x1="311.25" y1="122.4" x2="311.25" y2="123.9" stroke="#888" stroke-width="0.7"/>
<text x="311.25" y="130.9" text-anchor="middle" style="font-family:'DejaVu Sans',sans-serif;stroke:#111;stroke-width:0.45px;paint-order:stroke;font-size:7.4px" fill="#111">150</text>
<line x1="326.62" y1="122.4" x2="326.62" y2="123.9" stroke="#888" stroke-width="0.7"/>
<text x="326.62" y="130.9" text-anchor="middle" style="font-family:'DejaVu Sans',sans-serif;stroke:#111;stroke-width:0.45px;paint-order:stroke;font-size:7.4px" fill="#111">175</text>
<line x1="342.00" y1="122.4" x2="342.00" y2="123.9" stroke="#888" stroke-width="0.7"/>
<text x="342.00" y="130.9" text-anchor="middle" style="font-family:'DejaVu Sans',sans-serif;stroke:#111;stroke-width:0.45px;paint-order:stroke;font-size:7.4px" fill="#111">200</text>
<text x="280.0" y="139.4" text-anchor="middle" style="font-family:'DejaVu Sans',sans-serif;stroke:#111;stroke-width:0.45px;paint-order:stroke;font-size:7.6px;stroke-width:0.4px" fill="#111">Epoch</text>
<text transform="translate(190.8,72.5) rotate(-90)" text-anchor="middle" style="font-family:'DejaVu Sans',sans-serif;stroke:#111;stroke-width:0.45px;paint-order:stroke;font-size:7.5px;stroke-width:0.45px" fill="#111">MSE Loss</text>
<rect x="264.7" y="26" width="78.8" height="26" rx="1.5" fill="#fff" fill-opacity="0.9" stroke="#d6d6d6" stroke-width="0.7"/>
<rect x="274.95" y="33.85" width="1.7" height="1.7" fill="#1f77b4"/>
<rect x="274.95" y="44.85" width="1.7" height="1.7" fill="#f7681a"/>
<text x="289.4" y="37.2" style="font-family:'DejaVu Sans',sans-serif;stroke:#111;stroke-width:0.45px;paint-order:stroke;font-size:7.5px;stroke-width:0.3px" fill="#111">Training set</text>
<text x="289.4" y="48.2" style="font-family:'DejaVu Sans',sans-serif;stroke:#111;stroke-width:0.45px;paint-order:stroke;font-size:7.5px;stroke-width:0.3px" fill="#111">Validation set</text>
<rect x="33.90" y="157.80" width="92.60" height="75.30" fill="#a8184b"/>
<circle cx="127.06" cy="223.20" r="0.71" fill="#fff"/>
<circle cx="47.81" cy="157.54" r="0.73" fill="#fff"/>
<circle cx="127.04" cy="223.11" r="0.85" fill="#fff"/>
<circle cx="127.00" cy="194.60" r="0.81" fill="#fff"/>
<circle cx="46.89" cy="157.30" r="0.90" fill="#fff"/>
<circle cx="127.11" cy="171.79" r="1.09" fill="#fff"/>
<circle cx="53.01" cy="157.14" r="0.84" fill="#fff"/>
<circle cx="33.01" cy="188.61" r="1.02" fill="#fff"/>
<circle cx="127.18" cy="168.01" r="0.81" fill="#fff"/>
<circle cx="41.85" cy="233.39" r="0.87" fill="#fff"/>
<circle cx="127.42" cy="221.77" r="1.06" fill="#fff"/>
<circle cx="32.83" cy="216.58" r="0.78" fill="#fff"/>
<circle cx="33.62" cy="206.97" r="0.98" fill="#fff"/>
<circle cx="65.42" cy="156.72" r="0.76" fill="#fff"/>
<circle cx="125.87" cy="233.58" r="0.72" fill="#fff"/>
<circle cx="37.33" cy="157.46" r="0.94" fill="#fff"/>
<circle cx="127.52" cy="209.74" r="0.77" fill="#fff"/>
<circle cx="36.46" cy="157.46" r="0.89" fill="#fff"/>
<circle cx="32.98" cy="223.30" r="0.72" fill="#fff"/>
<circle cx="33.61" cy="188.10" r="0.71" fill="#fff"/>
<circle cx="32.88" cy="172.66" r="0.71" fill="#fff"/>
<circle cx="61.15" cy="233.55" r="0.90" fill="#fff"/>
<circle cx="127.32" cy="169.09" r="0.80" fill="#fff"/>
<circle cx="124.20" cy="233.35" r="0.84" fill="#fff"/>
<circle cx="126.93" cy="200.23" r="0.72" fill="#fff"/>
<circle cx="40.40" cy="157.06" r="0.80" fill="#fff"/>
<circle cx="111.96" cy="157.19" r="0.96" fill="#fff"/>
<circle cx="33.50" cy="181.09" r="1.07" fill="#fff"/>
<circle cx="32.93" cy="221.61" r="0.88" fill="#fff"/>
<circle cx="33.61" cy="174.06" r="1.00" fill="#fff"/>
<circle cx="37.46" cy="234.05" r="1.10" fill="#fff"/>
<circle cx="47.45" cy="156.92" r="0.84" fill="#fff"/>
<circle cx="33.37" cy="228.25" r="0.76" fill="#fff"/>
<circle cx="127.53" cy="195.58" r="0.94" fill="#fff"/>
<circle cx="55.51" cy="234.10" r="0.92" fill="#fff"/>
<circle cx="92.80" cy="233.91" r="0.96" fill="#fff"/>
<circle cx="66.59" cy="233.92" r="0.86" fill="#fff"/>
<circle cx="118.16" cy="234.10" r="0.73" fill="#fff"/>
<circle cx="33.62" cy="190.86" r="0.98" fill="#fff"/>
<circle cx="126.87" cy="227.81" r="0.97" fill="#fff"/>
<circle cx="127.56" cy="222.05" r="1.02" fill="#fff"/>
<circle cx="100.31" cy="157.42" r="1.00" fill="#fff"/>
<circle cx="58.79" cy="233.98" r="0.76" fill="#fff"/>
<circle cx="127.15" cy="203.64" r="0.81" fill="#fff"/>
<circle cx="33.02" cy="187.55" r="0.95" fill="#fff"/>
<circle cx="33.46" cy="206.11" r="0.82" fill="#fff"/>
<circle cx="33.30" cy="173.13" r="0.97" fill="#fff"/>
<circle cx="81.89" cy="156.93" r="1.09" fill="#fff"/>
<circle cx="33.29" cy="225.62" r="0.71" fill="#fff"/>
<circle cx="48.45" cy="157.42" r="1.01" fill="#fff"/>
<circle cx="33.48" cy="185.22" r="0.82" fill="#fff"/>
<circle cx="127.29" cy="184.63" r="1.00" fill="#fff"/>
<circle cx="69.60" cy="233.41" r="0.98" fill="#fff"/>
<circle cx="102.71" cy="233.70" r="1.01" fill="#fff"/>
<circle cx="127.54" cy="199.34" r="0.92" fill="#fff"/>
<circle cx="33.43" cy="171.95" r="1.02" fill="#fff"/>
<circle cx="79.84" cy="156.80" r="1.05" fill="#fff"/>
<circle cx="127.52" cy="205.07" r="0.95" fill="#fff"/>
<circle cx="76.05" cy="157.47" r="0.76" fill="#fff"/>
<circle cx="90.96" cy="157.07" r="0.91" fill="#fff"/>
<circle cx="80.15" cy="233.74" r="1.04" fill="#fff"/>
<circle cx="49.95" cy="234.19" r="0.73" fill="#fff"/>
<circle cx="76.50" cy="234.16" r="1.10" fill="#fff"/>
<circle cx="127.49" cy="192.76" r="0.87" fill="#fff"/>
<circle cx="127.11" cy="217.31" r="0.82" fill="#fff"/>
<circle cx="33.58" cy="213.72" r="1.01" fill="#fff"/>
<circle cx="33.46" cy="200.22" r="1.09" fill="#fff"/>
<circle cx="41.52" cy="156.84" r="0.84" fill="#fff"/>
<circle cx="127.55" cy="194.87" r="0.79" fill="#fff"/>
<circle cx="69.71" cy="233.53" r="0.94" fill="#fff"/>
<circle cx="33.21" cy="230.62" r="1.05" fill="#fff"/>
<circle cx="118.38" cy="233.87" r="1.05" fill="#fff"/>
<circle cx="119.68" cy="157.37" r="0.85" fill="#fff"/>
<circle cx="48.33" cy="157.22" r="0.73" fill="#fff"/>
<circle cx="95.23" cy="233.38" r="0.88" fill="#fff"/>
<circle cx="126.79" cy="224.03" r="1.05" fill="#fff"/>
<circle cx="123.22" cy="157.31" r="0.85" fill="#fff"/>
<circle cx="33.06" cy="219.12" r="0.99" fill="#fff"/>
<circle cx="64.10" cy="157.15" r="0.88" fill="#fff"/>
<circle cx="32.95" cy="160.52" r="0.89" fill="#fff"/>
<circle cx="48.89" cy="233.76" r="0.83" fill="#fff"/>
<circle cx="127.07" cy="220.23" r="0.86" fill="#fff"/>
<circle cx="127.25" cy="223.30" r="0.93" fill="#fff"/>
<circle cx="81.93" cy="233.39" r="1.06" fill="#fff"/>
<circle cx="127.17" cy="162.86" r="0.91" fill="#fff"/>
<circle cx="127.24" cy="203.12" r="0.72" fill="#fff"/>
<circle cx="127.57" cy="173.13" r="0.89" fill="#fff"/>
<circle cx="100.24" cy="233.81" r="0.85" fill="#fff"/>
<circle cx="94.78" cy="156.71" r="0.94" fill="#fff"/>
<circle cx="83.00" cy="233.42" r="0.87" fill="#fff"/>
<circle cx="106.52" cy="234.18" r="0.94" fill="#fff"/>
<circle cx="55.01" cy="234.14" r="0.75" fill="#fff"/>
<circle cx="68.68" cy="233.69" r="1.06" fill="#fff"/>
<circle cx="67.84" cy="156.87" r="0.93" fill="#fff"/>
<circle cx="34.40" cy="156.99" r="0.85" fill="#fff"/>
<circle cx="38.87" cy="157.20" r="0.95" fill="#fff"/>
<circle cx="127.28" cy="176.81" r="0.96" fill="#fff"/>
<circle cx="127.41" cy="199.78" r="1.06" fill="#fff"/>
<circle cx="102.82" cy="157.44" r="1.07" fill="#fff"/>
<circle cx="127.59" cy="223.23" r="0.78" fill="#fff"/>
<circle cx="127.21" cy="202.01" r="0.91" fill="#fff"/>
<circle cx="32.86" cy="175.95" r="0.97" fill="#fff"/>
<circle cx="38.68" cy="157.35" r="0.97" fill="#fff"/>
<circle cx="71.49" cy="233.93" r="1.03" fill="#fff"/>
<circle cx="33.02" cy="212.28" r="0.71" fill="#fff"/>
<circle cx="108.78" cy="234.09" r="1.09" fill="#fff"/>
<circle cx="33.33" cy="216.89" r="0.82" fill="#fff"/>
<circle cx="69.10" cy="156.79" r="0.86" fill="#fff"/>
<circle cx="36.52" cy="233.38" r="0.81" fill="#fff"/>
<circle cx="59.12" cy="233.59" r="1.05" fill="#fff"/>
<circle cx="61.42" cy="158.24" r="1.0" fill="#a8184b"/>
<circle cx="107.08" cy="158.29" r="1.0" fill="#a8184b"/>
<circle cx="34.32" cy="219.43" r="1.0" fill="#a8184b"/>
<circle cx="99.23" cy="232.75" r="1.0" fill="#a8184b"/>
<circle cx="125.77" cy="174.55" r="1.0" fill="#a8184b"/>
<circle cx="116.12" cy="158.25" r="1.0" fill="#a8184b"/>
<circle cx="87.23" cy="232.49" r="1.0" fill="#a8184b"/>
<circle cx="34.41" cy="207.16" r="1.0" fill="#a8184b"/>
<circle cx="34.23" cy="196.74" r="1.0" fill="#a8184b"/>
<circle cx="34.51" cy="169.51" r="1.0" fill="#a8184b"/>
<circle cx="68.47" cy="158.40" r="1.0" fill="#a8184b"/>
<circle cx="125.75" cy="173.02" r="1.0" fill="#a8184b"/>
<circle cx="75.70" cy="232.70" r="1.0" fill="#a8184b"/>
<circle cx="34.62" cy="167.24" r="1.0" fill="#a8184b"/>
<circle cx="90.98" cy="158.52" r="1.0" fill="#a8184b"/>
<circle cx="34.42" cy="170.53" r="1.0" fill="#a8184b"/>
<circle cx="125.96" cy="160.96" r="1.0" fill="#a8184b"/>
<circle cx="63.96" cy="232.62" r="1.0" fill="#a8184b"/>
<circle cx="90.14" cy="158.44" r="1.0" fill="#a8184b"/>
<circle cx="34.51" cy="195.16" r="1.0" fill="#a8184b"/>
<circle cx="116.15" cy="232.54" r="1.0" fill="#a8184b"/>
<circle cx="57.99" cy="158.47" r="1.0" fill="#a8184b"/>
<circle cx="121.96" cy="158.17" r="1.0" fill="#a8184b"/>
<circle cx="88.92" cy="158.11" r="1.0" fill="#a8184b"/>
<circle cx="126.09" cy="220.54" r="1.0" fill="#a8184b"/>
<circle cx="126.05" cy="190.37" r="1.0" fill="#a8184b"/>
<circle cx="34.38" cy="178.83" r="1.0" fill="#a8184b"/>
<circle cx="55.23" cy="158.59" r="1.0" fill="#a8184b"/>
<circle cx="96.44" cy="232.75" r="1.0" fill="#a8184b"/>
<circle cx="58.49" cy="158.19" r="1.0" fill="#a8184b"/>
<circle cx="34.22" cy="159.12" r="1.0" fill="#a8184b"/>
<circle cx="125.78" cy="220.92" r="1.0" fill="#a8184b"/>
<circle cx="55.20" cy="158.54" r="1.0" fill="#a8184b"/>
<circle cx="48.06" cy="158.59" r="1.0" fill="#a8184b"/>
<circle cx="120.06" cy="158.29" r="1.0" fill="#a8184b"/>
<circle cx="76.02" cy="158.23" r="1.0" fill="#a8184b"/>
<circle cx="108.36" cy="158.33" r="1.0" fill="#a8184b"/>
<circle cx="43.17" cy="158.46" r="1.0" fill="#a8184b"/>
<circle cx="125.86" cy="216.16" r="1.0" fill="#a8184b"/>
<circle cx="87.10" cy="158.43" r="1.0" fill="#a8184b"/>
<circle cx="64.27" cy="158.59" r="1.0" fill="#a8184b"/>
<circle cx="125.73" cy="232.41" r="1.0" fill="#a8184b"/>
<circle cx="34.34" cy="168.14" r="1.0" fill="#a8184b"/>
<circle cx="34.59" cy="161.26" r="1.0" fill="#a8184b"/>
<circle cx="118.84" cy="232.56" r="1.0" fill="#a8184b"/>
<circle cx="96.86" cy="232.70" r="1.0" fill="#a8184b"/>
<circle cx="57.03" cy="232.32" r="1.0" fill="#a8184b"/>
<circle cx="60.68" cy="158.11" r="1.0" fill="#a8184b"/>
<circle cx="126.09" cy="165.19" r="1.0" fill="#a8184b"/>
<circle cx="34.53" cy="165.40" r="1.0" fill="#a8184b"/>
<circle cx="124.41" cy="232.38" r="1.0" fill="#a8184b"/>
<circle cx="82.97" cy="158.30" r="1.0" fill="#a8184b"/>
<circle cx="125.72" cy="181.05" r="1.0" fill="#a8184b"/>
<circle cx="34.24" cy="185.06" r="1.0" fill="#a8184b"/>
<circle cx="34.44" cy="182.74" r="1.0" fill="#a8184b"/>
<circle cx="125.77" cy="172.28" r="1.0" fill="#a8184b"/>
<circle cx="116.59" cy="158.16" r="1.0" fill="#a8184b"/>
<circle cx="63.72" cy="158.29" r="1.0" fill="#a8184b"/>
<circle cx="126.01" cy="169.56" r="1.0" fill="#a8184b"/>
<circle cx="34.66" cy="160.29" r="1.0" fill="#a8184b"/>
<circle cx="34.22" cy="225.18" r="1.0" fill="#a8184b"/>
<circle cx="34.55" cy="181.52" r="1.0" fill="#a8184b"/>
<circle cx="44.11" cy="158.36" r="1.0" fill="#a8184b"/>
<circle cx="77.28" cy="158.29" r="1.0" fill="#a8184b"/>
<circle cx="125.84" cy="212.42" r="1.0" fill="#a8184b"/>
<circle cx="125.87" cy="224.80" r="1.0" fill="#a8184b"/>
<circle cx="120.29" cy="158.46" r="1.0" fill="#a8184b"/>
<circle cx="119.44" cy="232.47" r="1.0" fill="#a8184b"/>
<circle cx="111.76" cy="158.16" r="1.0" fill="#a8184b"/>
<circle cx="56.03" cy="232.39" r="1.0" fill="#a8184b"/>
<circle cx="102.49" cy="158.89" r="0.93" fill="#fff4d6" opacity="0.98"/>
<line x1="85.06" y1="222.00" x2="85.05" y2="223.04" stroke="#fbe8d6" stroke-width="1.36" stroke-linecap="round" opacity="0.88"/>
<circle cx="35.92" cy="213.06" r="0.92" fill="#ffffff" opacity="0.99"/>
<line x1="120.78" y1="185.27" x2="122.66" y2="185.63" stroke="#fbe6ea" stroke-width="1.28" stroke-linecap="round" opacity="0.92"/>
<circle cx="52.82" cy="173.80" r="0.55" fill="#f6d5dc" opacity="0.91"/>
<circle cx="41.00" cy="213.30" r="0.70" fill="#ffffff" opacity="0.87"/>
<line x1="49.59" y1="199.69" x2="50.63" y2="200.40" stroke="#ffffff" stroke-width="1.43" stroke-linecap="round" opacity="0.82"/>
<circle cx="49.17" cy="227.12" r="0.65" fill="#fbe6ea" opacity="0.84"/>
<line x1="93.79" y1="205.62" x2="93.91" y2="207.66" stroke="#ffffff" stroke-width="0.84" stroke-linecap="round" opacity="0.85"/>
<circle cx="100.11" cy="217.62" r="0.57" fill="#ffffff" opacity="0.81"/>
<circle cx="67.65" cy="181.82" r="0.68" fill="#ffffff" opacity="0.94"/>
<circle cx="81.74" cy="165.45" r="0.61" fill="#ffffff" opacity="0.84"/>
<circle cx="86.21" cy="159.59" r="0.84" fill="#ffffff" opacity="0.95"/>
<line x1="46.43" y1="187.81" x2="48.45" y2="187.86" stroke="#fbe8d6" stroke-width="0.98" stroke-linecap="round" opacity="0.87"/>
<circle cx="100.17" cy="176.61" r="0.76" fill="#fff4d6" opacity="0.84"/>
<circle cx="111.41" cy="174.62" r="1.02" fill="#ffffff" opacity="0.85"/>
<line x1="45.86" y1="192.74" x2="46.70" y2="194.39" stroke="#fbe8d6" stroke-width="1.15" stroke-linecap="round" opacity="0.91"/>
<circle cx="78.46" cy="202.35" r="0.61" fill="#ffffff" opacity="0.86"/>
<line x1="123.62" y1="204.92" x2="122.83" y2="206.04" stroke="#ffffff" stroke-width="1.38" stroke-linecap="round" opacity="0.84"/>
<line x1="122.09" y1="205.53" x2="120.81" y2="206.10" stroke="#fff4d6" stroke-width="1.28" stroke-linecap="round" opacity="0.94"/>
<circle cx="44.33" cy="229.05" r="0.87" fill="#fff4d6" opacity="0.85"/>
<line x1="58.81" y1="169.49" x2="59.04" y2="170.89" stroke="#ffffff" stroke-width="0.79" stroke-linecap="round" opacity="0.85"/>
<circle cx="70.52" cy="169.19" r="0.85" fill="#fbe6ea" opacity="0.88"/>
<circle cx="80.36" cy="177.07" r="1.01" fill="#fbe6ea" opacity="0.92"/>
<circle cx="58.45" cy="164.67" r="0.95" fill="#fbe8d6" opacity="0.84"/>
<line x1="115.49" y1="214.42" x2="115.91" y2="215.43" stroke="#fff4d6" stroke-width="1.34" stroke-linecap="round" opacity="0.91"/>
<line x1="96.12" y1="178.50" x2="95.89" y2="180.45" stroke="#ffffff" stroke-width="0.98" stroke-linecap="round" opacity="0.95"/>
<circle cx="86.64" cy="223.67" r="1.00" fill="#ffffff" opacity="0.95"/>
<line x1="64.82" y1="189.30" x2="65.94" y2="189.96" stroke="#fff4d6" stroke-width="0.85" stroke-linecap="round" opacity="0.82"/>
<line x1="92.65" y1="189.46" x2="93.02" y2="190.49" stroke="#ffffff" stroke-width="1.18" stroke-linecap="round" opacity="0.96"/>
<circle cx="72.73" cy="226.91" r="0.60" fill="#fbe6ea" opacity="0.88"/>
<circle cx="60.14" cy="177.39" r="0.67" fill="#ffffff" opacity="0.86"/>
<circle cx="41.10" cy="199.27" r="0.96" fill="#f6d5dc" opacity="0.81"/>
<circle cx="38.90" cy="167.07" r="0.69" fill="#fbe6ea" opacity="0.91"/>
<circle cx="117.93" cy="187.87" r="0.67" fill="#fbe8d6" opacity="0.93"/>
<circle cx="81.45" cy="185.92" r="0.83" fill="#fbe8d6" opacity="0.87"/>
<circle cx="41.87" cy="197.02" r="0.66" fill="#fff4d6" opacity="0.91"/>
<line x1="45.70" y1="210.62" x2="46.86" y2="211.63" stroke="#ffffff" stroke-width="0.81" stroke-linecap="round" opacity="0.92"/>
<line x1="75.76" y1="230.34" x2="75.34" y2="231.70" stroke="#fbe6ea" stroke-width="0.93" stroke-linecap="round" opacity="0.92"/>
<circle cx="63.51" cy="197.36" r="0.84" fill="#fbe8d6" opacity="0.92"/>
<circle cx="58.91" cy="225.96" r="0.71" fill="#ffffff" opacity="0.92"/>
<circle cx="62.84" cy="225.45" r="0.85" fill="#ffffff" opacity="0.82"/>
<line x1="97.53" y1="186.25" x2="96.72" y2="187.54" stroke="#ffffff" stroke-width="1.02" stroke-linecap="round" opacity="0.99"/>
<line x1="90.64" y1="203.39" x2="88.86" y2="204.20" stroke="#ffffff" stroke-width="0.86" stroke-linecap="round" opacity="0.91"/>
<line x1="68.59" y1="192.66" x2="69.15" y2="194.52" stroke="#ffffff" stroke-width="1.46" stroke-linecap="round" opacity="0.81"/>
<circle cx="101.36" cy="201.17" r="0.56" fill="#fbe6ea" opacity="0.93"/>
<circle cx="44.95" cy="185.66" r="0.70" fill="#fbe8d6" opacity="0.85"/>
<line x1="56.99" y1="203.42" x2="56.85" y2="205.52" stroke="#ffffff" stroke-width="1.43" stroke-linecap="round" opacity="0.90"/>
<circle cx="113.89" cy="182.21" r="0.93" fill="#fff4d6" opacity="0.94"/>
<line x1="47.94" y1="178.12" x2="46.78" y2="178.59" stroke="#fbe8d6" stroke-width="1.21" stroke-linecap="round" opacity="0.99"/>
<circle cx="121.26" cy="158.41" r="0.71" fill="#f6d5dc" opacity="1.00"/>
<circle cx="95.90" cy="222.75" r="0.55" fill="#ffffff" opacity="0.85"/>
<circle cx="108.25" cy="200.79" r="1.00" fill="#fbe8d6" opacity="0.86"/>
<circle cx="59.00" cy="208.25" r="0.57" fill="#fff4d6" opacity="0.83"/>
<line x1="36.40" y1="192.03" x2="37.53" y2="193.30" stroke="#ffffff" stroke-width="1.29" stroke-linecap="round" opacity="0.83"/>
<circle cx="108.58" cy="176.54" r="0.92" fill="#ffffff" opacity="0.94"/>
<line x1="65.72" y1="219.36" x2="66.20" y2="220.38" stroke="#ffffff" stroke-width="1.06" stroke-linecap="round" opacity="0.93"/>
<line x1="66.82" y1="178.03" x2="67.34" y2="179.42" stroke="#fff4d6" stroke-width="1.01" stroke-linecap="round" opacity="0.94"/>
<line x1="81.03" y1="215.74" x2="81.09" y2="217.15" stroke="#fbe6ea" stroke-width="1.39" stroke-linecap="round" opacity="0.96"/>
<circle cx="86.90" cy="226.58" r="0.91" fill="#f6d5dc" opacity="0.88"/>
<line x1="35.95" y1="201.59" x2="37.02" y2="203.14" stroke="#ffffff" stroke-width="1.35" stroke-linecap="round" opacity="0.95"/>
<circle cx="72.81" cy="213.15" r="1.02" fill="#ffffff" opacity="0.97"/>
<circle cx="84.76" cy="163.39" r="1.00" fill="#fbe8d6" opacity="0.98"/>
<circle cx="84.27" cy="189.30" r="0.65" fill="#ffffff" opacity="0.91"/>
<line x1="78.87" y1="182.06" x2="77.87" y2="182.95" stroke="#ffffff" stroke-width="1.33" stroke-linecap="round" opacity="0.94"/>
<line x1="41.69" y1="223.74" x2="43.23" y2="224.89" stroke="#ffffff" stroke-width="1.00" stroke-linecap="round" opacity="0.90"/>
<circle cx="68.59" cy="167.52" r="0.89" fill="#ffffff" opacity="0.87"/>
<circle cx="93.67" cy="182.11" r="0.60" fill="#ffffff" opacity="0.95"/>
<circle cx="102.30" cy="169.66" r="0.56" fill="#ffffff" opacity="0.95"/>
<line x1="117.04" y1="200.26" x2="116.62" y2="201.84" stroke="#ffffff" stroke-width="1.35" stroke-linecap="round" opacity="0.80"/>
<circle cx="110.09" cy="215.36" r="1.04" fill="#fbe6ea" opacity="0.86"/>
<circle cx="90.09" cy="158.47" r="0.64" fill="#ffffff" opacity="0.94"/>
<circle cx="71.07" cy="213.62" r="0.84" fill="#fff4d6" opacity="0.88"/>
<circle cx="92.71" cy="169.18" r="0.83" fill="#ffffff" opacity="0.88"/>
<circle cx="50.07" cy="229.40" r="0.68" fill="#ffffff" opacity="0.83"/>
<circle cx="112.50" cy="211.10" r="0.62" fill="#fbe8d6" opacity="0.84"/>
<circle cx="73.65" cy="205.85" r="1.02" fill="#fbe8d6" opacity="0.90"/>
<line x1="58.54" y1="206.62" x2="59.63" y2="207.35" stroke="#fff4d6" stroke-width="1.17" stroke-linecap="round" opacity="0.85"/>
<circle cx="111.42" cy="173.43" r="0.72" fill="#fbe8d6" opacity="0.94"/>
<circle cx="85.74" cy="178.52" r="0.67" fill="#ffffff" opacity="0.96"/>
<line x1="71.64" y1="215.18" x2="71.51" y2="217.30" stroke="#fff4d6" stroke-width="1.21" stroke-linecap="round" opacity="0.93"/>
<circle cx="36.86" cy="222.54" r="0.58" fill="#ffffff" opacity="0.89"/>
<line x1="114.26" y1="227.84" x2="114.58" y2="228.78" stroke="#f6d5dc" stroke-width="1.43" stroke-linecap="round" opacity="0.80"/>
<circle cx="60.62" cy="187.76" r="0.86" fill="#ffffff" opacity="0.92"/>
<circle cx="90.73" cy="230.22" r="0.84" fill="#ffffff" opacity="0.84"/>
<circle cx="56.07" cy="167.96" r="0.69" fill="#f6d5dc" opacity="0.83"/>
<circle cx="104.22" cy="169.14" r="0.76" fill="#ffffff" opacity="0.90"/>
<line x1="89.03" y1="162.19" x2="90.80" y2="163.39" stroke="#f6d5dc" stroke-width="0.96" stroke-linecap="round" opacity="0.95"/>
<circle cx="57.30" cy="194.62" r="0.88" fill="#ffffff" opacity="0.90"/>
<line x1="124.21" y1="162.49" x2="125.93" y2="163.34" stroke="#fbe8d6" stroke-width="0.90" stroke-linecap="round" opacity="0.83"/>
<circle cx="110.91" cy="222.29" r="0.71" fill="#ffffff" opacity="0.94"/>
<line x1="76.58" y1="185.06" x2="75.38" y2="186.58" stroke="#ffffff" stroke-width="1.41" stroke-linecap="round" opacity="0.98"/>
<circle cx="117.67" cy="201.57" r="0.79" fill="#f6d5dc" opacity="0.87"/>
<line x1="108.05" y1="184.11" x2="109.50" y2="184.37" stroke="#ffffff" stroke-width="1.25" stroke-linecap="round" opacity="0.93"/>
<circle cx="112.37" cy="184.34" r="0.86" fill="#f6d5dc" opacity="0.96"/>
<circle cx="99.82" cy="168.43" r="1.04" fill="#fff4d6" opacity="0.95"/>
<line x1="41.43" y1="230.08" x2="41.00" y2="231.03" stroke="#ffffff" stroke-width="0.94" stroke-linecap="round" opacity="0.86"/>
<circle cx="107.72" cy="210.51" r="0.92" fill="#fbe8d6" opacity="0.98"/>
<line x1="73.26" y1="186.12" x2="71.63" y2="186.77" stroke="#fbe8d6" stroke-width="1.27" stroke-linecap="round" opacity="0.85"/>
<circle cx="40.04" cy="191.64" r="0.84" fill="#fff4d6" opacity="0.86"/>
<circle cx="56.26" cy="222.06" r="0.72" fill="#f6d5dc" opacity="0.98"/>
<circle cx="45.42" cy="203.39" r="0.60" fill="#ffffff" opacity="0.94"/>
<circle cx="42.80" cy="195.46" r="0.69" fill="#ffffff" opacity="0.95"/>
<circle cx="59.86" cy="192.27" r="0.71" fill="#ffffff" opacity="0.81"/>
<line x1="48.49" y1="181.43" x2="47.50" y2="182.34" stroke="#f6d5dc" stroke-width="0.87" stroke-linecap="round" opacity="0.92"/>
<circle cx="97.64" cy="184.40" r="0.84" fill="#f6d5dc" opacity="0.84"/>
<line x1="66.84" y1="175.24" x2="65.71" y2="176.28" stroke="#ffffff" stroke-width="1.08" stroke-linecap="round" opacity="0.94"/>
<line x1="102.33" y1="180.69" x2="100.71" y2="180.72" stroke="#ffffff" stroke-width="1.43" stroke-linecap="round" opacity="0.88"/>
<circle cx="72.70" cy="180.46" r="1.03" fill="#fff4d6" opacity="0.95"/>
<circle cx="61.05" cy="172.34" r="1.01" fill="#ffffff" opacity="0.96"/>
<circle cx="42.68" cy="177.43" r="0.79" fill="#ffffff" opacity="0.82"/>
<circle cx="56.51" cy="230.36" r="1.02" fill="#fff4d6" opacity="0.97"/>
<circle cx="103.06" cy="182.64" r="0.61" fill="#fbe8d6" opacity="0.86"/>
<line x1="87.75" y1="210.28" x2="86.52" y2="210.55" stroke="#ffffff" stroke-width="0.86" stroke-linecap="round" opacity="0.87"/>
<line x1="70.45" y1="192.32" x2="68.83" y2="192.59" stroke="#fbe6ea" stroke-width="1.12" stroke-linecap="round" opacity="0.91"/>
<circle cx="47.64" cy="159.41" r="0.63" fill="#ffffff" opacity="0.95"/>
<circle cx="57.89" cy="204.44" r="0.74" fill="#fff4d6" opacity="0.85"/>
<circle cx="74.29" cy="181.43" r="0.65" fill="#ffffff" opacity="0.81"/>
<circle cx="40.58" cy="185.63" r="1.04" fill="#fbe6ea" opacity="0.84"/>
<circle cx="46.19" cy="219.99" r="0.88" fill="#fbe6ea" opacity="0.83"/>
<line x1="96.30" y1="223.43" x2="97.99" y2="223.86" stroke="#fff4d6" stroke-width="1.07" stroke-linecap="round" opacity="0.99"/>
<line x1="57.86" y1="202.72" x2="59.36" y2="203.44" stroke="#fff4d6" stroke-width="1.41" stroke-linecap="round" opacity="0.87"/>
<circle cx="77.58" cy="214.90" r="0.66" fill="#ffffff" opacity="0.84"/>
<line x1="71.71" y1="224.08" x2="69.58" y2="224.22" stroke="#ffffff" stroke-width="1.22" stroke-linecap="round" opacity="0.89"/>
<circle cx="58.36" cy="170.58" r="0.89" fill="#ffffff" opacity="0.93"/>
<circle cx="74.73" cy="221.85" r="0.95" fill="#ffffff" opacity="0.89"/>
<line x1="104.05" y1="181.60" x2="105.28" y2="182.05" stroke="#ffffff" stroke-width="1.04" stroke-linecap="round" opacity="0.93"/>
<circle cx="59.96" cy="199.47" r="0.66" fill="#fbe8d6" opacity="0.99"/>
<circle cx="69.38" cy="165.42" r="0.94" fill="#fbe8d6" opacity="0.98"/>
<circle cx="62.32" cy="160.99" r="0.56" fill="#fff4d6" opacity="0.98"/>
<circle cx="65.27" cy="197.35" r="0.98" fill="#ffffff" opacity="0.96"/>
<line x1="55.61" y1="199.94" x2="55.99" y2="201.06" stroke="#ffffff" stroke-width="0.82" stroke-linecap="round" opacity="0.95"/>
<circle cx="112.59" cy="164.19" r="0.99" fill="#fbe6ea" opacity="0.84"/>
<line x1="57.26" y1="199.52" x2="56.73" y2="201.40" stroke="#ffffff" stroke-width="1.20" stroke-linecap="round" opacity="0.87"/>
<line x1="125.82" y1="208.72" x2="127.14" y2="210.04" stroke="#fbe6ea" stroke-width="0.82" stroke-linecap="round" opacity="0.84"/>
<circle cx="44.75" cy="184.52" r="0.70" fill="#ffffff" opacity="0.85"/>
<circle cx="45.02" cy="190.62" r="0.55" fill="#f6d5dc" opacity="0.82"/>
<circle cx="63.51" cy="213.98" r="1.04" fill="#fbe8d6" opacity="0.86"/>
<circle cx="90.95" cy="230.54" r="0.59" fill="#ffffff" opacity="0.91"/>
<circle cx="36.90" cy="212.41" r="0.63" fill="#ffffff" opacity="0.99"/>
<circle cx="120.61" cy="189.49" r="0.90" fill="#ffffff" opacity="0.86"/>
<line x1="60.81" y1="198.12" x2="59.42" y2="198.82" stroke="#fff4d6" stroke-width="1.35" stroke-linecap="round" opacity="0.84"/>
<circle cx="50.19" cy="209.06" r="1.00" fill="#fbe8d6" opacity="0.89"/>
<circle cx="77.47" cy="162.63" r="1.01" fill="#ffffff" opacity="0.91"/>
<circle cx="60.62" cy="224.17" r="0.58" fill="#ffffff" opacity="0.89"/>
<circle cx="104.82" cy="165.82" r="0.65" fill="#fbe6ea" opacity="0.97"/>
<circle cx="91.50" cy="198.29" r="0.70" fill="#f6d5dc" opacity="0.80"/>
<circle cx="95.07" cy="179.28" r="0.61" fill="#fff4d6" opacity="0.84"/>
<circle cx="102.94" cy="183.41" r="0.88" fill="#f6d5dc" opacity="0.83"/>
<circle cx="64.51" cy="177.81" r="0.81" fill="#fbe6ea" opacity="0.94"/>
<line x1="117.48" y1="168.84" x2="117.62" y2="170.85" stroke="#fff4d6" stroke-width="1.24" stroke-linecap="round" opacity="0.87"/>
<circle cx="107.47" cy="224.90" r="0.65" fill="#ffffff" opacity="0.94"/>
<circle cx="98.20" cy="186.79" r="0.65" fill="#ffffff" opacity="0.90"/>
<circle cx="37.22" cy="173.20" r="0.77" fill="#fff4d6" opacity="0.88"/>
<circle cx="65.71" cy="187.36" r="0.97" fill="#ffffff" opacity="0.96"/>
<circle cx="109.96" cy="194.72" r="0.84" fill="#ffffff" opacity="0.83"/>
<circle cx="60.71" cy="190.83" r="0.75" fill="#ffffff" opacity="0.92"/>
<circle cx="86.06" cy="213.97" r="0.88" fill="#ffffff" opacity="0.93"/>
<circle cx="68.89" cy="221.44" r="0.58" fill="#f6d5dc" opacity="0.98"/>
<circle cx="60.23" cy="199.13" r="0.60" fill="#fbe6ea" opacity="0.98"/>
<line x1="109.94" y1="189.94" x2="110.43" y2="191.99" stroke="#fff4d6" stroke-width="1.00" stroke-linecap="round" opacity="0.89"/>
<circle cx="95.23" cy="192.04" r="0.82" fill="#fbe8d6" opacity="0.93"/>
<line x1="75.83" y1="194.64" x2="77.10" y2="196.14" stroke="#f6d5dc" stroke-width="1.08" stroke-linecap="round" opacity="0.93"/>
<line x1="46.70" y1="218.20" x2="45.26" y2="218.61" stroke="#ffffff" stroke-width="1.34" stroke-linecap="round" opacity="0.82"/>
<line x1="109.41" y1="175.69" x2="110.04" y2="177.71" stroke="#fbe6ea" stroke-width="0.92" stroke-linecap="round" opacity="0.98"/>
<line x1="44.29" y1="160.22" x2="43.50" y2="162.04" stroke="#ffffff" stroke-width="1.22" stroke-linecap="round" opacity="0.93"/>
<circle cx="70.45" cy="227.34" r="0.59" fill="#ffffff" opacity="0.88"/>
<circle cx="39.60" cy="202.49" r="0.75" fill="#ffffff" opacity="0.88"/>
<circle cx="83.44" cy="217.56" r="0.81" fill="#ffffff" opacity="0.87"/>
<line x1="99.14" y1="220.62" x2="99.93" y2="221.36" stroke="#fff4d6" stroke-width="1.45" stroke-linecap="round" opacity="0.92"/>
<line x1="56.64" y1="211.21" x2="57.24" y2="212.61" stroke="#ffffff" stroke-width="1.46" stroke-linecap="round" opacity="0.92"/>
<circle cx="41.85" cy="197.81" r="0.80" fill="#ffffff" opacity="0.98"/>
<circle cx="50.30" cy="190.43" r="0.63" fill="#ffffff" opacity="0.80"/>
<circle cx="42.53" cy="166.57" r="0.73" fill="#ffffff" opacity="0.82"/>
<circle cx="94.94" cy="202.58" r="0.90" fill="#fbe6ea" opacity="0.88"/>
<circle cx="102.08" cy="219.94" r="0.91" fill="#fff4d6" opacity="0.98"/>
<circle cx="107.74" cy="158.85" r="0.78" fill="#fbe8d6" opacity="0.91"/>
<circle cx="92.38" cy="227.50" r="0.58" fill="#fff4d6" opacity="0.85"/>
<line x1="54.59" y1="208.97" x2="56.46" y2="209.25" stroke="#ffffff" stroke-width="0.86" stroke-linecap="round" opacity="0.86"/>
<circle cx="63.70" cy="202.35" r="0.72" fill="#fff4d6" opacity="0.81"/>
<line x1="46.57" y1="211.47" x2="46.31" y2="212.83" stroke="#ffffff" stroke-width="1.01" stroke-linecap="round" opacity="0.90"/>
<circle cx="76.19" cy="232.14" r="0.56" fill="#f6d5dc" opacity="0.90"/>
<circle cx="126.07" cy="172.80" r="0.87" fill="#ffffff" opacity="0.93"/>
<line x1="125.45" y1="207.13" x2="127.43" y2="207.74" stroke="#fbe6ea" stroke-width="1.08" stroke-linecap="round" opacity="0.96"/>
<line x1="35.67" y1="166.02" x2="37.10" y2="167.66" stroke="#fbe8d6" stroke-width="0.89" stroke-linecap="round" opacity="0.95"/>
<circle cx="115.80" cy="175.70" r="0.77" fill="#fbe8d6" opacity="1.00"/>
<circle cx="124.36" cy="178.91" r="0.95" fill="#fbe8d6" opacity="0.97"/>
<line x1="91.43" y1="229.99" x2="92.41" y2="230.75" stroke="#ffffff" stroke-width="1.38" stroke-linecap="round" opacity="0.88"/>
<line x1="109.24" y1="227.37" x2="109.18" y2="228.58" stroke="#fbe8d6" stroke-width="0.78" stroke-linecap="round" opacity="0.94"/>
<circle cx="116.97" cy="221.15" r="0.78" fill="#fbe8d6" opacity="0.92"/>
<circle cx="54.09" cy="211.14" r="0.61" fill="#ffffff" opacity="0.80"/>
<circle cx="115.73" cy="181.62" r="0.79" fill="#fbe8d6" opacity="0.99"/>
<line x1="35.39" y1="200.29" x2="33.93" y2="201.01" stroke="#fff4d6" stroke-width="1.15" stroke-linecap="round" opacity="0.98"/>
<line x1="101.56" y1="201.89" x2="101.81" y2="203.59" stroke="#fbe6ea" stroke-width="0.98" stroke-linecap="round" opacity="0.87"/>
<circle cx="110.65" cy="219.77" r="0.82" fill="#ffffff" opacity="0.96"/>
<circle cx="91.53" cy="182.43" r="0.77" fill="#ffffff" opacity="0.96"/>
<line x1="86.29" y1="224.06" x2="85.10" y2="224.82" stroke="#fbe8d6" stroke-width="0.96" stroke-linecap="round" opacity="0.84"/>
<circle cx="73.73" cy="204.21" r="0.64" fill="#ffffff" opacity="0.91"/>
<line x1="120.37" y1="186.60" x2="121.26" y2="187.31" stroke="#ffffff" stroke-width="1.37" stroke-linecap="round" opacity="0.90"/>
<circle cx="102.06" cy="222.51" r="0.87" fill="#fbe8d6" opacity="0.86"/>
<circle cx="103.82" cy="210.51" r="0.69" fill="#ffffff" opacity="0.99"/>
<circle cx="60.62" cy="221.91" r="0.58" fill="#ffffff" opacity="0.87"/>
<circle cx="76.23" cy="172.13" r="0.84" fill="#fbe8d6" opacity="0.87"/>
<line x1="42.36" y1="176.06" x2="41.87" y2="177.96" stroke="#fbe8d6" stroke-width="1.39" stroke-linecap="round" opacity="0.96"/>
<circle cx="72.07" cy="169.75" r="0.81" fill="#fbe8d6" opacity="0.91"/>
<circle cx="72.11" cy="213.51" r="0.91" fill="#ffffff" opacity="0.82"/>
<circle cx="77.26" cy="173.95" r="0.83" fill="#ffffff" opacity="0.94"/>
<line x1="122.84" y1="198.20" x2="123.73" y2="199.08" stroke="#ffffff" stroke-width="1.17" stroke-linecap="round" opacity="0.80"/>
<line x1="81.96" y1="217.91" x2="81.97" y2="218.97" stroke="#fff4d6" stroke-width="1.35" stroke-linecap="round" opacity="0.81"/>
<circle cx="47.38" cy="189.85" r="0.75" fill="#fbe6ea" opacity="0.98"/>
<circle cx="103.85" cy="206.96" r="0.98" fill="#ffffff" opacity="0.92"/>
<line x1="57.42" y1="224.24" x2="58.04" y2="225.96" stroke="#ffffff" stroke-width="1.24" stroke-linecap="round" opacity="0.83"/>
<circle cx="67.35" cy="176.55" r="0.69" fill="#fff4d6" opacity="0.91"/>
<circle cx="47.99" cy="188.61" r="0.63" fill="#ffffff" opacity="0.99"/>
<circle cx="53.10" cy="229.62" r="0.71" fill="#fbe6ea" opacity="0.91"/>
<line x1="99.67" y1="199.85" x2="100.81" y2="200.79" stroke="#ffffff" stroke-width="1.21" stroke-linecap="round" opacity="0.91"/>
<circle cx="97.65" cy="222.75" r="0.56" fill="#ffffff" opacity="0.84"/>
<circle cx="108.54" cy="175.49" r="0.89" fill="#f6d5dc" opacity="0.85"/>
<line x1="89.49" y1="164.81" x2="88.94" y2="166.00" stroke="#ffffff" stroke-width="0.94" stroke-linecap="round" opacity="0.99"/>
<circle cx="42.86" cy="190.26" r="0.66" fill="#fbe8d6" opacity="0.96"/>
<circle cx="59.02" cy="231.92" r="0.87" fill="#ffffff" opacity="0.96"/>
<line x1="118.37" y1="231.04" x2="117.26" y2="231.08" stroke="#f6d5dc" stroke-width="1.41" stroke-linecap="round" opacity="0.95"/>
<line x1="103.30" y1="214.54" x2="101.81" y2="215.05" stroke="#fff4d6" stroke-width="1.36" stroke-linecap="round" opacity="0.82"/>
<circle cx="48.28" cy="226.31" r="0.61" fill="#f6d5dc" opacity="0.82"/>
<circle cx="105.65" cy="198.97" r="0.73" fill="#ffffff" opacity="0.90"/>
<line x1="93.20" y1="181.96" x2="91.74" y2="183.24" stroke="#ffffff" stroke-width="1.29" stroke-linecap="round" opacity="0.91"/>
<circle cx="101.31" cy="200.11" r="0.60" fill="#ffffff" opacity="0.95"/>
<line x1="98.61" y1="227.78" x2="98.53" y2="229.46" stroke="#fbe8d6" stroke-width="1.45" stroke-linecap="round" opacity="0.81"/>
<line x1="50.57" y1="211.33" x2="50.17" y2="213.13" stroke="#ffffff" stroke-width="0.99" stroke-linecap="round" opacity="0.89"/>
<circle cx="102.36" cy="215.42" r="0.73" fill="#fbe8d6" opacity="0.93"/>
<line x1="105.02" y1="216.42" x2="103.99" y2="217.22" stroke="#fbe8d6" stroke-width="1.00" stroke-linecap="round" opacity="0.91"/>
<line x1="45.60" y1="187.80" x2="46.31" y2="188.55" stroke="#ffffff" stroke-width="1.30" stroke-linecap="round" opacity="0.84"/>
<line x1="97.02" y1="229.00" x2="98.62" y2="229.19" stroke="#ffffff" stroke-width="1.21" stroke-linecap="round" opacity="0.91"/>
<line x1="79.33" y1="231.64" x2="78.55" y2="232.61" stroke="#fbe6ea" stroke-width="0.78" stroke-linecap="round" opacity="0.95"/>
<circle cx="58.64" cy="165.70" r="0.75" fill="#f6d5dc" opacity="0.90"/>
<line x1="63.71" y1="184.30" x2="64.60" y2="184.89" stroke="#ffffff" stroke-width="0.93" stroke-linecap="round" opacity="0.94"/>
<line x1="43.59" y1="176.91" x2="41.97" y2="178.35" stroke="#ffffff" stroke-width="1.32" stroke-linecap="round" opacity="0.99"/>
<circle cx="62.66" cy="227.03" r="0.78" fill="#ffffff" opacity="0.91"/>
<line x1="86.71" y1="210.26" x2="87.93" y2="211.92" stroke="#fbe8d6" stroke-width="1.01" stroke-linecap="round" opacity="0.89"/>
<circle cx="73.16" cy="223.44" r="0.88" fill="#ffffff" opacity="0.87"/>
<line x1="70.33" y1="224.23" x2="69.97" y2="225.69" stroke="#ffffff" stroke-width="1.17" stroke-linecap="round" opacity="1.00"/>
<line x1="74.20" y1="178.82" x2="73.88" y2="180.32" stroke="#f6d5dc" stroke-width="0.94" stroke-linecap="round" opacity="0.88"/>
<circle cx="38.12" cy="215.59" r="0.82" fill="#ffffff" opacity="0.82"/>
<circle cx="109.43" cy="207.94" r="0.58" fill="#ffffff" opacity="0.83"/>
<circle cx="83.16" cy="222.63" r="0.97" fill="#f6d5dc" opacity="0.94"/>
<line x1="47.12" y1="158.81" x2="45.39" y2="159.13" stroke="#ffffff" stroke-width="0.95" stroke-linecap="round" opacity="0.87"/>
<line x1="85.10" y1="201.86" x2="84.18" y2="202.43" stroke="#ffffff" stroke-width="1.10" stroke-linecap="round" opacity="0.89"/>
<circle cx="82.35" cy="220.60" r="0.66" fill="#f6d5dc" opacity="0.83"/>
<circle cx="67.57" cy="159.42" r="0.71" fill="#ffffff" opacity="0.94"/>
<circle cx="82.65" cy="223.67" r="0.64" fill="#ffffff" opacity="0.94"/>
<circle cx="125.27" cy="189.98" r="0.89" fill="#f6d5dc" opacity="0.91"/>
<circle cx="52.95" cy="221.36" r="0.70" fill="#fff4d6" opacity="0.88"/>
<circle cx="110.09" cy="177.20" r="0.74" fill="#ffffff" opacity="1.00"/>
<circle cx="51.24" cy="204.58" r="0.70" fill="#fbe8d6" opacity="0.84"/>
<circle cx="70.14" cy="167.88" r="0.58" fill="#fbe6ea" opacity="0.89"/>
<circle cx="42.81" cy="197.39" r="1.02" fill="#fbe6ea" opacity="0.80"/>
<circle cx="89.37" cy="211.86" r="1.01" fill="#ffffff" opacity="0.99"/>
<line x1="72.33" y1="183.15" x2="72.62" y2="184.14" stroke="#fbe8d6" stroke-width="1.39" stroke-linecap="round" opacity="0.87"/>
<circle cx="111.49" cy="198.62" r="0.87" fill="#ffffff" opacity="0.96"/>
<circle cx="64.89" cy="210.79" r="0.72" fill="#ffffff" opacity="0.91"/>
<circle cx="34.93" cy="187.59" r="0.83" fill="#ffffff" opacity="0.88"/>
<circle cx="81.54" cy="185.96" r="0.59" fill="#fff4d6" opacity="0.96"/>
<circle cx="59.69" cy="164.41" r="0.94" fill="#ffffff" opacity="0.86"/>
<circle cx="51.67" cy="212.36" r="0.71" fill="#ffffff" opacity="0.83"/>
<circle cx="75.66" cy="206.87" r="0.66" fill="#ffffff" opacity="0.89"/>
<circle cx="90.87" cy="201.24" r="0.92" fill="#fbe6ea" opacity="0.97"/>
<circle cx="85.74" cy="160.70" r="0.88" fill="#fff4d6" opacity="0.83"/>
<line x1="83.07" y1="180.32" x2="81.74" y2="180.32" stroke="#fbe8d6" stroke-width="0.96" stroke-linecap="round" opacity="1.00"/>
<circle cx="78.15" cy="181.89" r="0.75" fill="#fbe6ea" opacity="0.93"/>
<circle cx="118.55" cy="191.58" r="1.03" fill="#ffffff" opacity="0.86"/>
<circle cx="103.89" cy="226.59" r="0.96" fill="#ffffff" opacity="0.91"/>
<circle cx="98.55" cy="205.39" r="0.95" fill="#fff4d6" opacity="0.90"/>
<line x1="125.11" y1="180.78" x2="126.63" y2="181.15" stroke="#fbe6ea" stroke-width="1.34" stroke-linecap="round" opacity="0.84"/>
<line x1="123.05" y1="199.48" x2="123.63" y2="201.41" stroke="#fff4d6" stroke-width="1.42" stroke-linecap="round" opacity="0.86"/>
<line x1="123.20" y1="192.58" x2="122.41" y2="193.34" stroke="#fff4d6" stroke-width="1.32" stroke-linecap="round" opacity="0.89"/>
<line x1="105.66" y1="161.53" x2="106.91" y2="162.05" stroke="#ffffff" stroke-width="0.84" stroke-linecap="round" opacity="0.96"/>
<circle cx="126.14" cy="228.84" r="0.77" fill="#f6d5dc" opacity="0.84"/>
<circle cx="55.95" cy="165.46" r="0.82" fill="#ffffff" opacity="0.94"/>
<circle cx="96.27" cy="172.36" r="0.62" fill="#ffffff" opacity="0.82"/>
<line x1="44.10" y1="188.66" x2="45.63" y2="189.25" stroke="#fbe8d6" stroke-width="1.43" stroke-linecap="round" opacity="0.90"/>
<circle cx="102.58" cy="172.57" r="0.78" fill="#fff4d6" opacity="0.98"/>
<line x1="97.04" y1="232.61" x2="98.03" y2="233.98" stroke="#fff4d6" stroke-width="1.11" stroke-linecap="round" opacity="0.82"/>
<circle cx="41.24" cy="179.60" r="0.66" fill="#fbe8d6" opacity="0.99"/>
<circle cx="65.10" cy="223.62" r="0.79" fill="#ffffff" opacity="0.95"/>
<circle cx="62.69" cy="224.37" r="0.95" fill="#f6d5dc" opacity="0.83"/>
<circle cx="101.30" cy="202.68" r="0.64" fill="#ffffff" opacity="0.89"/>
<circle cx="45.14" cy="214.60" r="0.91" fill="#ffffff" opacity="0.99"/>
<circle cx="61.58" cy="160.80" r="0.84" fill="#ffffff" opacity="0.99"/>
<circle cx="48.47" cy="223.00" r="0.75" fill="#d42a45"/>
<circle cx="73.10" cy="199.25" r="0.75" fill="#d42a45"/>
<circle cx="57.96" cy="211.44" r="0.75" fill="#d42a45"/>
<circle cx="88.60" cy="186.48" r="0.75" fill="#d42a45"/>
<circle cx="55.60" cy="213.73" r="0.75" fill="#d42a45"/>
<circle cx="47.93" cy="219.58" r="0.75" fill="#d42a45"/>
<circle cx="54.49" cy="214.69" r="0.75" fill="#d42a45"/>
<circle cx="76.76" cy="195.89" r="0.75" fill="#d42a45"/>
<circle cx="88.70" cy="186.40" r="0.75" fill="#d42a45"/>
<circle cx="54.63" cy="214.12" r="0.75" fill="#d42a45"/>
<circle cx="88.01" cy="187.06" r="0.75" fill="#d42a45"/>
<circle cx="65.18" cy="209.70" r="0.75" fill="#d42a45"/>
<circle cx="113.49" cy="166.51" r="0.75" fill="#d42a45"/>
<circle cx="80.18" cy="197.59" r="0.75" fill="#d42a45"/>
<circle cx="109.08" cy="174.12" r="0.75" fill="#d42a45"/>
<circle cx="46.01" cy="221.00" r="0.75" fill="#d42a45"/>
<circle cx="121.00" cy="164.02" r="0.75" fill="#d42a45"/>
<circle cx="87.83" cy="191.54" r="0.75" fill="#d42a45"/>
<circle cx="53.83" cy="218.54" r="0.75" fill="#d42a45"/>
<circle cx="99.86" cy="181.41" r="0.75" fill="#d42a45"/>
<circle cx="50.12" cy="218.28" r="0.75" fill="#d42a45"/>
<circle cx="51.28" cy="216.92" r="0.75" fill="#d42a45"/>
<circle cx="43.87" cy="223.06" r="0.75" fill="#d42a45"/>
<circle cx="71.82" cy="200.26" r="0.75" fill="#d42a45"/>
<circle cx="111.40" cy="171.89" r="0.75" fill="#d42a45"/>
<circle cx="82.61" cy="191.69" r="0.75" fill="#d42a45"/>
<circle cx="93.75" cy="186.62" r="0.75" fill="#d42a45"/>
<circle cx="68.37" cy="207.20" r="0.75" fill="#d42a45"/>
<circle cx="113.01" cy="170.48" r="0.75" fill="#d42a45"/>
<circle cx="109.22" cy="174.05" r="0.75" fill="#d42a45"/>
<circle cx="42.60" cy="224.09" r="0.75" fill="#d42a45"/>
<circle cx="116.83" cy="167.26" r="0.75" fill="#d42a45"/>
<circle cx="62.50" cy="207.63" r="0.75" fill="#d42a45"/>
<circle cx="113.22" cy="170.72" r="0.75" fill="#d42a45"/>
<circle cx="41.68" cy="228.31" r="0.75" fill="#d42a45"/>
<circle cx="91.03" cy="184.57" r="0.75" fill="#d42a45"/>
<circle cx="88.75" cy="186.66" r="0.75" fill="#d42a45"/>
<circle cx="84.58" cy="190.17" r="0.75" fill="#d42a45"/>
<circle cx="99.81" cy="181.40" r="0.75" fill="#d42a45"/>
<circle cx="52.06" cy="220.03" r="0.75" fill="#d42a45"/>
<circle cx="40.77" cy="229.36" r="0.75" fill="#d42a45"/>
<circle cx="102.76" cy="179.25" r="0.75" fill="#d42a45"/>
<circle cx="39.05" cy="230.43" r="0.75" fill="#d42a45"/>
<circle cx="118.97" cy="165.94" r="0.75" fill="#d42a45"/>
<circle cx="39.86" cy="226.42" r="0.75" fill="#d42a45"/>
<circle cx="76.36" cy="196.31" r="0.75" fill="#d42a45"/>
<circle cx="70.91" cy="205.42" r="0.75" fill="#d42a45"/>
<circle cx="58.70" cy="215.01" r="0.75" fill="#d42a45"/>
<circle cx="115.34" cy="168.51" r="0.75" fill="#d42a45"/>
<circle cx="97.37" cy="183.29" r="0.75" fill="#d42a45"/>
<circle cx="57.81" cy="212.06" r="0.75" fill="#d42a45"/>
<circle cx="57.43" cy="216.18" r="0.75" fill="#d42a45"/>
<circle cx="64.19" cy="210.66" r="0.75" fill="#d42a45"/>
<circle cx="98.59" cy="182.72" r="0.75" fill="#d42a45"/>
<circle cx="92.55" cy="187.49" r="0.75" fill="#d42a45"/>
<circle cx="79.28" cy="193.80" r="0.75" fill="#d42a45"/>
<circle cx="66.48" cy="208.46" r="0.75" fill="#d42a45"/>
<circle cx="90.17" cy="189.04" r="0.75" fill="#d42a45"/>
<circle cx="52.63" cy="215.64" r="0.75" fill="#d42a45"/>
<circle cx="46.63" cy="224.50" r="0.75" fill="#d42a45"/>
<circle cx="43.66" cy="223.31" r="0.75" fill="#d42a45"/>
<circle cx="86.96" cy="191.57" r="0.75" fill="#d42a45"/>
<circle cx="36.52" cy="228.81" r="0.75" fill="#d42a45"/>
<circle cx="80.40" cy="197.14" r="0.75" fill="#d42a45"/>
<circle cx="81.85" cy="196.18" r="0.75" fill="#d42a45"/>
<circle cx="112.61" cy="171.52" r="0.75" fill="#d42a45"/>
<circle cx="79.73" cy="193.41" r="0.75" fill="#d42a45"/>
<circle cx="39.21" cy="226.96" r="0.75" fill="#d42a45"/>
<circle cx="90.36" cy="185.24" r="0.75" fill="#d42a45"/>
<circle cx="93.43" cy="182.99" r="0.75" fill="#d42a45"/>
<circle cx="74.33" cy="202.19" r="0.75" fill="#d42a45"/>
<circle cx="105.36" cy="177.07" r="0.75" fill="#d42a45"/>
<circle cx="81.71" cy="196.53" r="0.75" fill="#d42a45"/>
<circle cx="65.64" cy="205.66" r="0.75" fill="#d42a45"/>
<circle cx="75.75" cy="201.37" r="0.75" fill="#d42a45"/>
<circle cx="96.26" cy="184.29" r="0.75" fill="#d42a45"/>
<circle cx="44.75" cy="221.88" r="0.75" fill="#d42a45"/>
<circle cx="115.43" cy="165.06" r="0.75" fill="#d42a45"/>
<circle cx="75.20" cy="197.58" r="0.75" fill="#d42a45"/>
<circle cx="40.32" cy="229.45" r="0.75" fill="#d42a45"/>
<circle cx="54.80" cy="213.97" r="0.75" fill="#d42a45"/>
<circle cx="106.48" cy="171.98" r="0.75" fill="#d42a45"/>
<circle cx="56.13" cy="213.33" r="0.75" fill="#d42a45"/>
<circle cx="36.70" cy="232.46" r="0.75" fill="#d42a45"/>
<circle cx="98.91" cy="181.83" r="0.75" fill="#d42a45"/>
<circle cx="104.48" cy="173.55" r="0.75" fill="#d42a45"/>
<circle cx="120.91" cy="160.01" r="0.75" fill="#d42a45"/>
<circle cx="95.01" cy="181.16" r="0.75" fill="#d42a45"/>
<circle cx="45.96" cy="225.35" r="0.75" fill="#d42a45"/>
<circle cx="62.99" cy="207.83" r="0.75" fill="#d42a45"/>
<circle cx="46.88" cy="224.36" r="0.75" fill="#d42a45"/>
<circle cx="111.93" cy="171.98" r="0.75" fill="#d42a45"/>
<circle cx="124.84" cy="161.60" r="0.75" fill="#d42a45"/>
<circle cx="96.07" cy="184.86" r="0.75" fill="#d42a45"/>
<circle cx="46.03" cy="224.96" r="0.75" fill="#d42a45"/>
<circle cx="70.48" cy="205.23" r="0.75" fill="#d42a45"/>
<circle cx="87.52" cy="191.52" r="0.75" fill="#d42a45"/>
<circle cx="115.58" cy="165.08" r="0.75" fill="#d42a45"/>
<circle cx="100.66" cy="176.47" r="0.75" fill="#d42a45"/>
<circle cx="69.34" cy="202.22" r="0.75" fill="#d42a45"/>
<circle cx="78.25" cy="198.95" r="0.75" fill="#d42a45"/>
<circle cx="98.83" cy="182.66" r="0.75" fill="#d42a45"/>
<circle cx="78.18" cy="198.77" r="0.75" fill="#d42a45"/>
<circle cx="73.29" cy="203.34" r="0.75" fill="#d42a45"/>
<circle cx="89.42" cy="189.78" r="0.75" fill="#d42a45"/>
<circle cx="82.46" cy="191.43" r="0.75" fill="#d42a45"/>
<circle cx="34.39" cy="233.04" r="0.95" fill="#2b70cc"/>
<circle cx="34.95" cy="232.77" r="0.95" fill="#2b70cc"/>
<circle cx="34.91" cy="231.77" r="0.95" fill="#2b70cc"/>
<circle cx="35.58" cy="231.64" r="0.95" fill="#2b70cc"/>
<circle cx="36.07" cy="231.30" r="0.95" fill="#2b70cc"/>
<circle cx="36.83" cy="231.28" r="0.95" fill="#2b70cc"/>
<circle cx="37.40" cy="231.03" r="0.95" fill="#2b70cc"/>
<circle cx="37.47" cy="230.16" r="0.95" fill="#2b70cc"/>
<circle cx="38.00" cy="229.86" r="0.95" fill="#2b70cc"/>
<circle cx="38.54" cy="229.58" r="0.95" fill="#2b70cc"/>
<circle cx="39.05" cy="229.26" r="0.95" fill="#2b70cc"/>
<circle cx="39.29" cy="228.60" r="0.95" fill="#2b70cc"/>
<circle cx="39.94" cy="228.45" r="0.95" fill="#2b70cc"/>
<circle cx="40.16" cy="227.77" r="0.95" fill="#2b70cc"/>
<circle cx="40.31" cy="227.00" r="0.95" fill="#2b70cc"/>
<circle cx="40.98" cy="226.88" r="0.95" fill="#2b70cc"/>
<circle cx="41.70" cy="226.81" r="0.95" fill="#2b70cc"/>
<circle cx="42.26" cy="226.54" r="0.95" fill="#2b70cc"/>
<circle cx="42.24" cy="225.57" r="0.95" fill="#2b70cc"/>
<circle cx="42.78" cy="225.28" r="0.95" fill="#2b70cc"/>
<circle cx="43.53" cy="225.25" r="0.95" fill="#2b70cc"/>
<circle cx="44.46" cy="224.47" r="0.50" fill="#d42a45"/>
<circle cx="44.92" cy="223.17" r="0.95" fill="#2b70cc"/>
<circle cx="45.98" cy="223.52" r="0.95" fill="#2b70cc"/>
<circle cx="46.30" cy="222.95" r="0.95" fill="#2b70cc"/>
<circle cx="47.02" cy="222.89" r="0.95" fill="#2b70cc"/>
<circle cx="47.30" cy="222.29" r="0.95" fill="#2b70cc"/>
<circle cx="47.69" cy="221.81" r="0.95" fill="#2b70cc"/>
<circle cx="48.21" cy="221.50" r="0.95" fill="#2b70cc"/>
<circle cx="48.81" cy="221.28" r="0.95" fill="#2b70cc"/>
<circle cx="49.15" cy="220.76" r="0.95" fill="#2b70cc"/>
<circle cx="49.60" cy="220.35" r="0.95" fill="#2b70cc"/>
<circle cx="50.80" cy="219.32" r="0.50" fill="#d42a45"/>
<circle cx="52.18" cy="218.84" r="0.95" fill="#2b70cc"/>
<circle cx="52.35" cy="218.10" r="0.95" fill="#2b70cc"/>
<circle cx="52.81" cy="217.71" r="0.95" fill="#2b70cc"/>
<circle cx="53.19" cy="217.22" r="0.95" fill="#2b70cc"/>
<circle cx="53.87" cy="217.11" r="0.95" fill="#2b70cc"/>
<circle cx="54.19" cy="216.55" r="0.95" fill="#2b70cc"/>
<circle cx="54.58" cy="216.07" r="0.95" fill="#2b70cc"/>
<circle cx="55.41" cy="216.14" r="0.95" fill="#2b70cc"/>
<circle cx="55.90" cy="215.80" r="0.95" fill="#2b70cc"/>
<circle cx="56.01" cy="214.99" r="0.95" fill="#2b70cc"/>
<circle cx="56.39" cy="214.50" r="0.95" fill="#2b70cc"/>
<circle cx="57.19" cy="214.54" r="0.95" fill="#2b70cc"/>
<circle cx="57.35" cy="213.78" r="0.95" fill="#2b70cc"/>
<circle cx="58.39" cy="214.11" r="0.95" fill="#2b70cc"/>
<circle cx="58.39" cy="213.16" r="0.95" fill="#2b70cc"/>
<circle cx="59.03" cy="213.00" r="0.95" fill="#2b70cc"/>
<circle cx="59.14" cy="212.18" r="0.95" fill="#2b70cc"/>
<circle cx="59.81" cy="212.05" r="0.95" fill="#2b70cc"/>
<circle cx="60.45" cy="211.89" r="0.95" fill="#2b70cc"/>
<circle cx="61.72" cy="210.45" r="0.50" fill="#d42a45"/>
<circle cx="62.92" cy="209.77" r="0.95" fill="#2b70cc"/>
<circle cx="63.24" cy="209.20" r="0.95" fill="#2b70cc"/>
<circle cx="63.64" cy="208.75" r="0.95" fill="#2b70cc"/>
<circle cx="64.16" cy="208.43" r="0.95" fill="#2b70cc"/>
<circle cx="64.88" cy="208.37" r="0.95" fill="#2b70cc"/>
<circle cx="65.01" cy="207.58" r="0.95" fill="#2b70cc"/>
<circle cx="65.61" cy="207.36" r="0.95" fill="#2b70cc"/>
<circle cx="65.94" cy="206.81" r="0.95" fill="#2b70cc"/>
<circle cx="66.73" cy="206.84" r="0.95" fill="#2b70cc"/>
<circle cx="66.97" cy="206.19" r="0.95" fill="#2b70cc"/>
<circle cx="67.60" cy="206.01" r="0.95" fill="#2b70cc"/>
<circle cx="68.02" cy="205.57" r="0.95" fill="#2b70cc"/>
<circle cx="68.30" cy="204.97" r="0.95" fill="#2b70cc"/>
<circle cx="68.97" cy="204.84" r="0.95" fill="#2b70cc"/>
<circle cx="69.48" cy="204.51" r="0.95" fill="#2b70cc"/>
<circle cx="69.61" cy="203.73" r="0.95" fill="#2b70cc"/>
<circle cx="70.37" cy="203.71" r="0.95" fill="#2b70cc"/>
<circle cx="71.29" cy="203.89" r="0.95" fill="#2b70cc"/>
<circle cx="71.14" cy="202.76" r="0.95" fill="#2b70cc"/>
<circle cx="71.76" cy="202.56" r="0.95" fill="#2b70cc"/>
<circle cx="71.91" cy="201.80" r="0.95" fill="#2b70cc"/>
<circle cx="72.66" cy="201.77" r="0.95" fill="#2b70cc"/>
<circle cx="72.96" cy="201.19" r="0.95" fill="#2b70cc"/>
<circle cx="73.64" cy="201.07" r="0.95" fill="#2b70cc"/>
<circle cx="73.98" cy="200.54" r="0.95" fill="#2b70cc"/>
<circle cx="74.27" cy="199.94" r="0.95" fill="#2b70cc"/>
<circle cx="75.40" cy="199.35" r="0.50" fill="#d42a45"/>
<circle cx="76.38" cy="198.63" r="0.95" fill="#2b70cc"/>
<circle cx="76.68" cy="198.05" r="0.95" fill="#2b70cc"/>
<circle cx="77.36" cy="197.93" r="0.95" fill="#2b70cc"/>
<circle cx="77.75" cy="197.47" r="0.95" fill="#2b70cc"/>
<circle cx="78.17" cy="197.03" r="0.95" fill="#2b70cc"/>
<circle cx="78.80" cy="196.85" r="0.95" fill="#2b70cc"/>
<circle cx="78.96" cy="196.09" r="0.95" fill="#2b70cc"/>
<circle cx="80.62" cy="195.11" r="0.50" fill="#d42a45"/>
<circle cx="81.74" cy="194.31" r="0.95" fill="#2b70cc"/>
<circle cx="82.13" cy="193.85" r="0.95" fill="#2b70cc"/>
<circle cx="82.52" cy="193.37" r="0.95" fill="#2b70cc"/>
<circle cx="83.19" cy="193.25" r="0.95" fill="#2b70cc"/>
<circle cx="83.55" cy="192.73" r="0.95" fill="#2b70cc"/>
<circle cx="84.01" cy="192.35" r="0.95" fill="#2b70cc"/>
<circle cx="84.67" cy="192.21" r="0.95" fill="#2b70cc"/>
<circle cx="84.90" cy="191.54" r="0.95" fill="#2b70cc"/>
<circle cx="86.26" cy="190.53" r="0.60" fill="#f2b2bd"/>
<circle cx="87.43" cy="189.58" r="0.95" fill="#2b70cc"/>
<circle cx="87.94" cy="189.26" r="0.95" fill="#2b70cc"/>
<circle cx="88.39" cy="188.86" r="0.95" fill="#2b70cc"/>
<circle cx="88.97" cy="188.62" r="0.95" fill="#2b70cc"/>
<circle cx="89.55" cy="188.39" r="0.95" fill="#2b70cc"/>
<circle cx="89.63" cy="187.54" r="0.95" fill="#2b70cc"/>
<circle cx="90.23" cy="187.32" r="0.95" fill="#2b70cc"/>
<circle cx="91.88" cy="185.97" r="0.92" fill="#d42a45"/>
<circle cx="93.31" cy="184.85" r="0.95" fill="#2b70cc"/>
<circle cx="93.82" cy="184.51" r="0.95" fill="#2b70cc"/>
<circle cx="94.43" cy="184.32" r="0.95" fill="#2b70cc"/>
<circle cx="94.52" cy="183.47" r="0.95" fill="#2b70cc"/>
<circle cx="95.06" cy="183.19" r="0.95" fill="#2b70cc"/>
<circle cx="95.57" cy="182.87" r="0.95" fill="#2b70cc"/>
<circle cx="96.11" cy="182.58" r="0.95" fill="#2b70cc"/>
<circle cx="96.61" cy="182.25" r="0.95" fill="#2b70cc"/>
<circle cx="96.96" cy="181.72" r="0.95" fill="#2b70cc"/>
<circle cx="97.79" cy="181.79" r="0.95" fill="#2b70cc"/>
<circle cx="97.86" cy="180.93" r="0.95" fill="#2b70cc"/>
<circle cx="98.41" cy="180.65" r="0.95" fill="#2b70cc"/>
<circle cx="99.08" cy="180.52" r="0.95" fill="#2b70cc"/>
<circle cx="99.49" cy="180.09" r="0.95" fill="#2b70cc"/>
<circle cx="99.83" cy="179.55" r="0.95" fill="#2b70cc"/>
<circle cx="100.36" cy="179.25" r="0.95" fill="#2b70cc"/>
<circle cx="100.90" cy="178.96" r="0.95" fill="#2b70cc"/>
<circle cx="101.23" cy="178.42" r="0.95" fill="#2b70cc"/>
<circle cx="101.80" cy="178.17" r="0.95" fill="#2b70cc"/>
<circle cx="102.02" cy="177.48" r="0.95" fill="#2b70cc"/>
<circle cx="102.64" cy="177.30" r="0.95" fill="#2b70cc"/>
<circle cx="102.83" cy="176.58" r="0.95" fill="#2b70cc"/>
<circle cx="103.42" cy="176.35" r="0.95" fill="#2b70cc"/>
<circle cx="103.85" cy="175.93" r="0.95" fill="#2b70cc"/>
<circle cx="105.42" cy="174.97" r="0.50" fill="#f2b2bd"/>
<circle cx="106.34" cy="173.97" r="0.95" fill="#2b70cc"/>
<circle cx="106.92" cy="173.73" r="0.95" fill="#2b70cc"/>
<circle cx="107.38" cy="173.34" r="0.95" fill="#2b70cc"/>
<circle cx="107.75" cy="172.84" r="0.95" fill="#2b70cc"/>
<circle cx="108.49" cy="172.80" r="0.95" fill="#2b70cc"/>
<circle cx="108.55" cy="171.93" r="0.95" fill="#2b70cc"/>
<circle cx="109.38" cy="172.00" r="0.95" fill="#2b70cc"/>
<circle cx="110.18" cy="172.02" r="0.95" fill="#2b70cc"/>
<circle cx="110.08" cy="170.96" r="0.95" fill="#2b70cc"/>
<circle cx="110.69" cy="170.75" r="0.95" fill="#2b70cc"/>
<circle cx="110.90" cy="170.06" r="0.95" fill="#2b70cc"/>
<circle cx="111.61" cy="169.98" r="0.95" fill="#2b70cc"/>
<circle cx="111.80" cy="169.26" r="0.95" fill="#2b70cc"/>
<circle cx="112.64" cy="169.35" r="0.95" fill="#2b70cc"/>
<circle cx="112.93" cy="168.75" r="0.95" fill="#2b70cc"/>
<circle cx="114.07" cy="167.95" r="0.50" fill="#d42a45"/>
<circle cx="115.05" cy="167.09" r="0.95" fill="#2b70cc"/>
<circle cx="115.70" cy="166.94" r="0.95" fill="#2b70cc"/>
<circle cx="115.96" cy="166.31" r="0.95" fill="#2b70cc"/>
<circle cx="116.30" cy="165.78" r="0.95" fill="#2b70cc"/>
<circle cx="116.82" cy="165.47" r="0.95" fill="#2b70cc"/>
<circle cx="117.44" cy="165.28" r="0.95" fill="#2b70cc"/>
<circle cx="117.49" cy="164.40" r="0.95" fill="#2b70cc"/>
<circle cx="118.44" cy="164.61" r="0.95" fill="#2b70cc"/>
<circle cx="118.88" cy="164.20" r="0.95" fill="#2b70cc"/>
<circle cx="118.89" cy="163.26" r="0.95" fill="#2b70cc"/>
<circle cx="119.94" cy="163.60" r="0.95" fill="#2b70cc"/>
<circle cx="120.69" cy="162.58" r="0.50" fill="#d42a45"/>
<circle cx="121.34" cy="161.52" r="0.95" fill="#2b70cc"/>
<circle cx="121.77" cy="161.10" r="0.95" fill="#2b70cc"/>
<circle cx="122.36" cy="160.87" r="0.95" fill="#2b70cc"/>
<circle cx="122.83" cy="160.50" r="0.95" fill="#2b70cc"/>
<circle cx="123.45" cy="160.31" r="0.95" fill="#2b70cc"/>
<circle cx="123.85" cy="159.85" r="0.95" fill="#2b70cc"/>
<circle cx="124.32" cy="159.48" r="0.95" fill="#2b70cc"/>
<circle cx="124.79" cy="159.10" r="0.95" fill="#2b70cc"/>
<circle cx="125.30" cy="158.78" r="0.95" fill="#2b70cc"/>
<circle cx="126.20" cy="158.10" r="0.95" fill="#2b70cc"/>
<rect x="29.4" y="154.7" width="101.20" height="81.50" fill="none" stroke="#8a8a8a" stroke-width="0.9"/>
<line x1="27.7" y1="232.80" x2="29.4" y2="232.80" stroke="#666" stroke-width="0.7"/>
<text x="27.2" y="236.85" text-anchor="end" style="font-family:'DejaVu Sans',sans-serif;stroke:#111;stroke-width:0.45px;paint-order:stroke;font-size:9.3px" fill="#111">0.0</text>
<line x1="34.20" y1="236.2" x2="34.20" y2="237.89999999999998" stroke="#666" stroke-width="0.7"/>
<text x="34.20" y="246.73" text-anchor="middle" style="font-family:'DejaVu Sans',sans-serif;stroke:#111;stroke-width:0.45px;paint-order:stroke;font-size:9.3px" fill="#111">0.0</text>
<line x1="27.7" y1="217.86" x2="29.4" y2="217.86" stroke="#666" stroke-width="0.7"/>
<text x="27.2" y="221.91" text-anchor="end" style="font-family:'DejaVu Sans',sans-serif;stroke:#111;stroke-width:0.45px;paint-order:stroke;font-size:9.3px" fill="#111">0.2</text>
<line x1="52.60" y1="236.2" x2="52.60" y2="237.89999999999998" stroke="#666" stroke-width="0.7"/>
<text x="52.60" y="246.73" text-anchor="middle" style="font-family:'DejaVu Sans',sans-serif;stroke:#111;stroke-width:0.45px;paint-order:stroke;font-size:9.3px" fill="#111">0.2</text>
<line x1="27.7" y1="202.92" x2="29.4" y2="202.92" stroke="#666" stroke-width="0.7"/>
<text x="27.2" y="206.97" text-anchor="end" style="font-family:'DejaVu Sans',sans-serif;stroke:#111;stroke-width:0.45px;paint-order:stroke;font-size:9.3px" fill="#111">0.4</text>
<line x1="71.00" y1="236.2" x2="71.00" y2="237.89999999999998" stroke="#666" stroke-width="0.7"/>
<text x="71.00" y="246.73" text-anchor="middle" style="font-family:'DejaVu Sans',sans-serif;stroke:#111;stroke-width:0.45px;paint-order:stroke;font-size:9.3px" fill="#111">0.4</text>
<line x1="27.7" y1="187.98" x2="29.4" y2="187.98" stroke="#666" stroke-width="0.7"/>
<text x="27.2" y="192.03" text-anchor="end" style="font-family:'DejaVu Sans',sans-serif;stroke:#111;stroke-width:0.45px;paint-order:stroke;font-size:9.3px" fill="#111">0.6</text>
<line x1="89.40" y1="236.2" x2="89.40" y2="237.89999999999998" stroke="#666" stroke-width="0.7"/>
<text x="89.40" y="246.73" text-anchor="middle" style="font-family:'DejaVu Sans',sans-serif;stroke:#111;stroke-width:0.45px;paint-order:stroke;font-size:9.3px" fill="#111">0.6</text>
<line x1="27.7" y1="173.04" x2="29.4" y2="173.04" stroke="#666" stroke-width="0.7"/>
<text x="27.2" y="177.09" text-anchor="end" style="font-family:'DejaVu Sans',sans-serif;stroke:#111;stroke-width:0.45px;paint-order:stroke;font-size:9.3px" fill="#111">0.8</text>
<line x1="107.80" y1="236.2" x2="107.80" y2="237.89999999999998" stroke="#666" stroke-width="0.7"/>
<text x="107.80" y="246.73" text-anchor="middle" style="font-family:'DejaVu Sans',sans-serif;stroke:#111;stroke-width:0.45px;paint-order:stroke;font-size:9.3px" fill="#111">0.8</text>
<line x1="27.7" y1="158.10" x2="29.4" y2="158.10" stroke="#666" stroke-width="0.7"/>
<text x="27.2" y="162.15" text-anchor="end" style="font-family:'DejaVu Sans',sans-serif;stroke:#111;stroke-width:0.45px;paint-order:stroke;font-size:9.3px" fill="#111">1.0</text>
<line x1="126.20" y1="236.2" x2="126.20" y2="237.89999999999998" stroke="#666" stroke-width="0.7"/>
<text x="126.20" y="246.73" text-anchor="middle" style="font-family:'DejaVu Sans',sans-serif;stroke:#111;stroke-width:0.45px;paint-order:stroke;font-size:9.3px" fill="#111">1.0</text>
<text x="80.00" y="257.65" text-anchor="middle" style="font-family:'DejaVu Sans',sans-serif;stroke:#111;stroke-width:0.45px;paint-order:stroke;font-size:9.3px;font-style:italic" fill="#111">γ</text>
<text transform="translate(7.90,195.45) rotate(-90)" text-anchor="middle" style="font-family:'DejaVu Sans',sans-serif;stroke:#111;stroke-width:0.45px;paint-order:stroke;font-size:9.3px" fill="#111">J</text>
<defs><linearGradient id="gc" x1="0" y1="0" x2="0" y2="1"><stop offset="0.000" stop-color="#493d7e"/><stop offset="0.025" stop-color="#474e8e"/><stop offset="0.050" stop-color="#4261a0"/><stop offset="0.075" stop-color="#3c77b3"/><stop offset="0.100" stop-color="#3387bc"/><stop offset="0.125" stop-color="#3d95b8"/><stop offset="0.150" stop-color="#4ba4b1"/><stop offset="0.175" stop-color="#58b2ac"/><stop offset="0.200" stop-color="#66c2a5"/><stop offset="0.225" stop-color="#76c8a5"/><stop offset="0.250" stop-color="#86cfa5"/><stop offset="0.275" stop-color="#99d6a4"/><stop offset="0.300" stop-color="#aadca4"/><stop offset="0.325" stop-color="#bae3a1"/><stop offset="0.350" stop-color="#c8e99e"/><stop offset="0.375" stop-color="#d6ee9b"/><stop offset="0.400" stop-color="#e6f598"/><stop offset="0.425" stop-color="#ecf7a1"/><stop offset="0.450" stop-color="#f3faac"/><stop offset="0.475" stop-color="#f9fcb5"/><stop offset="0.500" stop-color="#ffffbe"/><stop offset="0.525" stop-color="#fff7b2"/><stop offset="0.550" stop-color="#fff0a6"/><stop offset="0.575" stop-color="#fee797"/><stop offset="0.600" stop-color="#fee08b"/><stop offset="0.625" stop-color="#fed481"/><stop offset="0.650" stop-color="#fdc776"/><stop offset="0.675" stop-color="#fdbb6c"/><stop offset="0.700" stop-color="#fdad60"/><stop offset="0.725" stop-color="#fb9d59"/><stop offset="0.750" stop-color="#f98e52"/><stop offset="0.775" stop-color="#f67c4a"/><stop offset="0.800" stop-color="#f46d43"/><stop offset="0.825" stop-color="#eb6046"/><stop offset="0.850" stop-color="#e45549"/><stop offset="0.875" stop-color="#dd4a4c"/><stop offset="0.900" stop-color="#d43d4f"/><stop offset="0.925" stop-color="#c72e4c"/><stop offset="0.950" stop-color="#b81e48"/><stop offset="0.975" stop-color="#ab0f45"/><stop offset="1.000" stop-color="#9e0142"/></linearGradient></defs>
<rect x="136.3" y="154.6" width="4.80" height="82.00" fill="url(#gc)" stroke="#333" stroke-width="0.7"/>
<line x1="141.1" y1="236.60" x2="143.1" y2="236.60" stroke="#666" stroke-width="0.7"/>
<text x="143.90" y="240.25" style="font-family:'DejaVu Sans',sans-serif;stroke:#111;stroke-width:0.45px;paint-order:stroke;font-size:9.3px" fill="#111">0.00</text>
<line x1="141.1" y1="216.10" x2="143.1" y2="216.10" stroke="#666" stroke-width="0.7"/>
<text x="143.90" y="219.75" style="font-family:'DejaVu Sans',sans-serif;stroke:#111;stroke-width:0.45px;paint-order:stroke;font-size:9.3px" fill="#111">0.25</text>
<line x1="141.1" y1="195.60" x2="143.1" y2="195.60" stroke="#666" stroke-width="0.7"/>
<text x="143.90" y="199.25" style="font-family:'DejaVu Sans',sans-serif;stroke:#111;stroke-width:0.45px;paint-order:stroke;font-size:9.3px" fill="#111">0.50</text>
<line x1="141.1" y1="175.10" x2="143.1" y2="175.10" stroke="#666" stroke-width="0.7"/>
<text x="143.90" y="178.75" style="font-family:'DejaVu Sans',sans-serif;stroke:#111;stroke-width:0.45px;paint-order:stroke;font-size:9.3px" fill="#111">0.75</text>
<line x1="141.1" y1="154.60" x2="143.1" y2="154.60" stroke="#666" stroke-width="0.7"/>
<text x="143.90" y="158.25" style="font-family:'DejaVu Sans',sans-serif;stroke:#111;stroke-width:0.45px;paint-order:stroke;font-size:9.3px" fill="#111">1.00</text>
<rect x="209.20" y="154.30" width="97.10" height="79.30" fill="#b31a4f"/>
<circle cx="276.46" cy="153.32" r="0.75" fill="#fff"/>
<circle cx="208.87" cy="181.88" r="0.78" fill="#fff"/>
<circle cx="230.54" cy="234.28" r="0.87" fill="#fff"/>
<circle cx="208.16" cy="205.82" r="0.88" fill="#fff"/>
<circle cx="238.59" cy="234.21" r="0.97" fill="#fff"/>
<circle cx="269.79" cy="153.87" r="0.71" fill="#fff"/>
<circle cx="272.64" cy="153.97" r="1.08" fill="#fff"/>
<circle cx="208.85" cy="232.29" r="0.80" fill="#fff"/>
<circle cx="269.78" cy="153.96" r="1.08" fill="#fff"/>
<circle cx="306.63" cy="183.35" r="0.90" fill="#fff"/>
<circle cx="208.55" cy="214.93" r="1.00" fill="#fff"/>
<circle cx="252.86" cy="234.09" r="0.75" fill="#fff"/>
<circle cx="306.66" cy="156.83" r="0.99" fill="#fff"/>
<circle cx="284.84" cy="153.54" r="0.74" fill="#fff"/>
<circle cx="208.46" cy="197.47" r="1.10" fill="#fff"/>
<circle cx="239.32" cy="153.90" r="0.77" fill="#fff"/>
<circle cx="208.32" cy="186.58" r="0.86" fill="#fff"/>
<circle cx="299.66" cy="153.72" r="0.91" fill="#fff"/>
<circle cx="307.30" cy="170.06" r="0.75" fill="#fff"/>
<circle cx="208.52" cy="176.76" r="0.78" fill="#fff"/>
<circle cx="302.80" cy="153.90" r="0.83" fill="#fff"/>
<circle cx="281.50" cy="153.67" r="0.71" fill="#fff"/>
<circle cx="307.01" cy="177.20" r="0.99" fill="#fff"/>
<circle cx="305.55" cy="153.60" r="0.97" fill="#fff"/>
<circle cx="307.26" cy="195.08" r="1.10" fill="#fff"/>
<circle cx="208.70" cy="221.97" r="0.73" fill="#fff"/>
<circle cx="217.93" cy="234.03" r="0.74" fill="#fff"/>
<circle cx="307.34" cy="211.18" r="1.07" fill="#fff"/>
<circle cx="291.20" cy="153.83" r="0.97" fill="#fff"/>
<circle cx="307.35" cy="230.72" r="0.82" fill="#fff"/>
<circle cx="265.18" cy="153.60" r="0.80" fill="#fff"/>
<circle cx="306.54" cy="183.37" r="0.89" fill="#fff"/>
<circle cx="263.74" cy="234.02" r="0.76" fill="#fff"/>
<circle cx="274.11" cy="153.40" r="0.97" fill="#fff"/>
<circle cx="257.94" cy="234.19" r="1.06" fill="#fff"/>
<circle cx="307.39" cy="197.82" r="1.09" fill="#fff"/>
<circle cx="283.68" cy="153.95" r="0.75" fill="#fff"/>
<circle cx="307.32" cy="164.48" r="0.82" fill="#fff"/>
<circle cx="208.27" cy="220.70" r="0.78" fill="#fff"/>
<circle cx="265.40" cy="153.35" r="0.89" fill="#fff"/>
<circle cx="306.60" cy="178.69" r="1.00" fill="#fff"/>
<circle cx="282.05" cy="234.05" r="1.08" fill="#fff"/>
<circle cx="223.41" cy="234.03" r="0.71" fill="#fff"/>
<circle cx="270.30" cy="234.14" r="1.07" fill="#fff"/>
<circle cx="306.72" cy="225.60" r="0.84" fill="#fff"/>
<circle cx="237.62" cy="153.36" r="0.71" fill="#fff"/>
<circle cx="208.52" cy="191.67" r="0.99" fill="#fff"/>
<circle cx="249.91" cy="234.15" r="1.08" fill="#fff"/>
<circle cx="226.83" cy="234.10" r="0.90" fill="#fff"/>
<circle cx="208.25" cy="206.45" r="0.85" fill="#fff"/>
<circle cx="262.94" cy="234.45" r="1.04" fill="#fff"/>
<circle cx="307.07" cy="171.48" r="0.93" fill="#fff"/>
<circle cx="212.08" cy="234.26" r="0.76" fill="#fff"/>
<circle cx="306.62" cy="170.86" r="0.99" fill="#fff"/>
<circle cx="304.36" cy="234.20" r="0.88" fill="#fff"/>
<circle cx="271.10" cy="153.45" r="0.97" fill="#fff"/>
<circle cx="254.63" cy="153.83" r="0.81" fill="#fff"/>
<circle cx="241.42" cy="154.10" r="0.86" fill="#fff"/>
<circle cx="242.13" cy="233.86" r="1.07" fill="#fff"/>
<circle cx="306.68" cy="225.57" r="0.78" fill="#fff"/>
<circle cx="208.77" cy="182.24" r="0.72" fill="#fff"/>
<circle cx="307.25" cy="186.53" r="1.03" fill="#fff"/>
<circle cx="231.37" cy="153.52" r="0.92" fill="#fff"/>
<circle cx="296.65" cy="234.54" r="1.04" fill="#fff"/>
<circle cx="306.83" cy="200.17" r="0.79" fill="#fff"/>
<circle cx="306.73" cy="193.30" r="1.03" fill="#fff"/>
<circle cx="254.58" cy="153.86" r="0.74" fill="#fff"/>
<circle cx="277.61" cy="153.56" r="0.98" fill="#fff"/>
<circle cx="307.14" cy="226.42" r="0.82" fill="#fff"/>
<circle cx="302.86" cy="153.97" r="0.73" fill="#fff"/>
<circle cx="265.20" cy="233.97" r="0.72" fill="#fff"/>
<circle cx="306.70" cy="175.05" r="1.06" fill="#fff"/>
<circle cx="265.62" cy="234.53" r="0.94" fill="#fff"/>
<circle cx="236.53" cy="153.46" r="0.91" fill="#fff"/>
<circle cx="216.59" cy="234.47" r="0.88" fill="#fff"/>
<circle cx="227.63" cy="153.87" r="1.05" fill="#fff"/>
<circle cx="208.90" cy="178.82" r="0.94" fill="#fff"/>
<circle cx="307.27" cy="174.16" r="0.92" fill="#fff"/>
<circle cx="208.97" cy="157.22" r="0.83" fill="#fff"/>
<circle cx="208.16" cy="221.68" r="0.71" fill="#fff"/>
<circle cx="266.66" cy="153.35" r="1.08" fill="#fff"/>
<circle cx="208.31" cy="211.22" r="0.98" fill="#fff"/>
<circle cx="306.80" cy="231.24" r="0.92" fill="#fff"/>
<circle cx="231.95" cy="153.93" r="0.92" fill="#fff"/>
<circle cx="264.78" cy="233.82" r="0.72" fill="#fff"/>
<circle cx="233.96" cy="153.84" r="0.82" fill="#fff"/>
<circle cx="282.30" cy="153.57" r="1.04" fill="#fff"/>
<circle cx="208.71" cy="178.67" r="0.92" fill="#fff"/>
<circle cx="264.41" cy="233.95" r="0.80" fill="#fff"/>
<circle cx="306.85" cy="163.17" r="0.89" fill="#fff"/>
<circle cx="306.96" cy="191.01" r="1.08" fill="#fff"/>
<circle cx="208.20" cy="173.98" r="0.81" fill="#fff"/>
<circle cx="306.90" cy="204.42" r="0.95" fill="#fff"/>
<circle cx="306.66" cy="158.15" r="0.79" fill="#fff"/>
<circle cx="306.95" cy="213.10" r="0.71" fill="#fff"/>
<circle cx="208.95" cy="190.79" r="0.97" fill="#fff"/>
<circle cx="222.73" cy="234.54" r="1.09" fill="#fff"/>
<circle cx="208.90" cy="190.55" r="1.01" fill="#fff"/>
<circle cx="208.55" cy="157.19" r="0.72" fill="#fff"/>
<circle cx="208.32" cy="180.36" r="0.81" fill="#fff"/>
<circle cx="307.29" cy="186.95" r="0.91" fill="#fff"/>
<circle cx="208.13" cy="232.71" r="0.93" fill="#fff"/>
<circle cx="208.66" cy="178.02" r="1.03" fill="#fff"/>
<circle cx="261.58" cy="154.00" r="0.89" fill="#fff"/>
<circle cx="288.60" cy="153.77" r="0.90" fill="#fff"/>
<circle cx="208.67" cy="171.11" r="1.05" fill="#fff"/>
<circle cx="291.36" cy="153.53" r="1.08" fill="#fff"/>
<circle cx="208.35" cy="184.41" r="1.03" fill="#fff"/>
<circle cx="208.90" cy="215.33" r="0.80" fill="#fff"/>
<circle cx="244.11" cy="234.27" r="0.74" fill="#fff"/>
<circle cx="305.52" cy="193.78" r="1.0" fill="#b31a4f"/>
<circle cx="244.21" cy="154.76" r="1.0" fill="#b31a4f"/>
<circle cx="209.52" cy="160.37" r="1.0" fill="#b31a4f"/>
<circle cx="209.80" cy="184.98" r="1.0" fill="#b31a4f"/>
<circle cx="209.59" cy="184.16" r="1.0" fill="#b31a4f"/>
<circle cx="209.60" cy="195.55" r="1.0" fill="#b31a4f"/>
<circle cx="230.45" cy="233.02" r="1.0" fill="#b31a4f"/>
<circle cx="234.34" cy="154.95" r="1.0" fill="#b31a4f"/>
<circle cx="209.76" cy="205.86" r="1.0" fill="#b31a4f"/>
<circle cx="305.54" cy="215.22" r="1.0" fill="#b31a4f"/>
<circle cx="305.84" cy="165.50" r="1.0" fill="#b31a4f"/>
<circle cx="209.99" cy="226.87" r="1.0" fill="#b31a4f"/>
<circle cx="209.90" cy="207.86" r="1.0" fill="#b31a4f"/>
<circle cx="303.74" cy="233.02" r="1.0" fill="#b31a4f"/>
<circle cx="281.91" cy="233.05" r="1.0" fill="#b31a4f"/>
<circle cx="305.80" cy="172.11" r="1.0" fill="#b31a4f"/>
<circle cx="209.90" cy="197.52" r="1.0" fill="#b31a4f"/>
<circle cx="305.79" cy="213.95" r="1.0" fill="#b31a4f"/>
<circle cx="233.95" cy="233.08" r="1.0" fill="#b31a4f"/>
<circle cx="276.03" cy="232.99" r="1.0" fill="#b31a4f"/>
<circle cx="305.64" cy="202.25" r="1.0" fill="#b31a4f"/>
<circle cx="209.91" cy="207.31" r="1.0" fill="#b31a4f"/>
<circle cx="305.88" cy="177.21" r="1.0" fill="#b31a4f"/>
<circle cx="260.31" cy="154.69" r="1.0" fill="#b31a4f"/>
<circle cx="272.53" cy="154.79" r="1.0" fill="#b31a4f"/>
<circle cx="274.16" cy="155.01" r="1.0" fill="#b31a4f"/>
<circle cx="305.87" cy="197.30" r="1.0" fill="#b31a4f"/>
<circle cx="260.49" cy="233.22" r="1.0" fill="#b31a4f"/>
<circle cx="209.97" cy="204.05" r="1.0" fill="#b31a4f"/>
<circle cx="305.66" cy="226.90" r="1.0" fill="#b31a4f"/>
<circle cx="209.86" cy="215.27" r="1.0" fill="#b31a4f"/>
<circle cx="278.05" cy="154.69" r="1.0" fill="#b31a4f"/>
<circle cx="209.94" cy="170.20" r="1.0" fill="#b31a4f"/>
<circle cx="305.94" cy="216.16" r="1.0" fill="#b31a4f"/>
<circle cx="297.03" cy="154.64" r="1.0" fill="#b31a4f"/>
<circle cx="305.64" cy="192.85" r="1.0" fill="#b31a4f"/>
<circle cx="212.41" cy="232.83" r="1.0" fill="#b31a4f"/>
<circle cx="209.94" cy="188.40" r="1.0" fill="#b31a4f"/>
<circle cx="209.76" cy="219.02" r="1.0" fill="#b31a4f"/>
<circle cx="230.23" cy="233.00" r="1.0" fill="#b31a4f"/>
<circle cx="296.85" cy="233.23" r="1.0" fill="#b31a4f"/>
<circle cx="247.62" cy="155.01" r="1.0" fill="#b31a4f"/>
<circle cx="305.80" cy="206.19" r="1.0" fill="#b31a4f"/>
<circle cx="305.61" cy="205.49" r="1.0" fill="#b31a4f"/>
<circle cx="305.91" cy="182.20" r="1.0" fill="#b31a4f"/>
<circle cx="225.44" cy="154.64" r="1.0" fill="#b31a4f"/>
<circle cx="283.24" cy="154.83" r="1.0" fill="#b31a4f"/>
<circle cx="305.60" cy="179.29" r="1.0" fill="#b31a4f"/>
<circle cx="260.48" cy="232.99" r="1.0" fill="#b31a4f"/>
<circle cx="209.54" cy="190.27" r="1.0" fill="#b31a4f"/>
<circle cx="249.51" cy="233.02" r="1.0" fill="#b31a4f"/>
<circle cx="294.96" cy="155.03" r="1.0" fill="#b31a4f"/>
<circle cx="251.71" cy="154.95" r="1.0" fill="#b31a4f"/>
<circle cx="209.55" cy="192.99" r="1.0" fill="#b31a4f"/>
<circle cx="209.97" cy="208.65" r="1.0" fill="#b31a4f"/>
<circle cx="270.69" cy="155.05" r="1.0" fill="#b31a4f"/>
<circle cx="305.78" cy="224.20" r="1.0" fill="#b31a4f"/>
<circle cx="209.89" cy="171.92" r="1.0" fill="#b31a4f"/>
<circle cx="211.86" cy="154.68" r="1.0" fill="#b31a4f"/>
<circle cx="305.59" cy="202.76" r="1.0" fill="#b31a4f"/>
<circle cx="272.18" cy="233.06" r="1.0" fill="#b31a4f"/>
<circle cx="209.94" cy="227.31" r="1.0" fill="#b31a4f"/>
<circle cx="209.57" cy="206.23" r="1.0" fill="#b31a4f"/>
<circle cx="220.99" cy="154.71" r="1.0" fill="#b31a4f"/>
<circle cx="305.94" cy="222.14" r="1.0" fill="#b31a4f"/>
<circle cx="209.57" cy="226.27" r="1.0" fill="#b31a4f"/>
<circle cx="277.83" cy="154.85" r="1.0" fill="#b31a4f"/>
<circle cx="209.57" cy="227.66" r="1.0" fill="#b31a4f"/>
<circle cx="295.01" cy="233.07" r="1.0" fill="#b31a4f"/>
<circle cx="231.56" cy="233.21" r="1.0" fill="#b31a4f"/>
<line x1="233.74" y1="200.65" x2="234.33" y2="201.61" stroke="#ffffff" stroke-width="0.99" stroke-linecap="round" opacity="0.81"/>
<line x1="291.32" y1="203.25" x2="290.79" y2="205.03" stroke="#f6d5dc" stroke-width="0.99" stroke-linecap="round" opacity="0.93"/>
<circle cx="265.82" cy="228.47" r="1.03" fill="#fbe6ea" opacity="0.89"/>
<line x1="272.96" y1="203.35" x2="271.94" y2="203.79" stroke="#fbe8d6" stroke-width="0.99" stroke-linecap="round" opacity="0.86"/>
<line x1="239.04" y1="167.94" x2="239.19" y2="169.70" stroke="#fbe8d6" stroke-width="1.38" stroke-linecap="round" opacity="0.80"/>
<circle cx="239.38" cy="196.72" r="1.04" fill="#fff4d6" opacity="0.88"/>
<circle cx="263.41" cy="157.90" r="0.60" fill="#ffffff" opacity="0.94"/>
<line x1="293.95" y1="195.18" x2="294.75" y2="196.28" stroke="#f6d5dc" stroke-width="0.90" stroke-linecap="round" opacity="0.99"/>
<circle cx="251.44" cy="190.93" r="1.01" fill="#ffffff" opacity="0.89"/>
<circle cx="234.26" cy="181.11" r="0.98" fill="#fff4d6" opacity="0.90"/>
<circle cx="237.60" cy="184.63" r="0.77" fill="#ffffff" opacity="0.87"/>
<line x1="238.81" y1="192.35" x2="240.18" y2="193.72" stroke="#ffffff" stroke-width="1.01" stroke-linecap="round" opacity="0.84"/>
<circle cx="251.06" cy="213.98" r="0.86" fill="#f6d5dc" opacity="0.91"/>
<circle cx="266.18" cy="181.00" r="0.81" fill="#fff4d6" opacity="0.82"/>
<circle cx="286.11" cy="161.85" r="0.64" fill="#fbe8d6" opacity="0.91"/>
<circle cx="295.67" cy="221.54" r="1.00" fill="#ffffff" opacity="1.00"/>
<circle cx="233.22" cy="187.59" r="0.90" fill="#ffffff" opacity="0.82"/>
<line x1="227.85" y1="226.15" x2="228.91" y2="227.86" stroke="#ffffff" stroke-width="0.84" stroke-linecap="round" opacity="0.82"/>
<line x1="245.76" y1="176.22" x2="244.45" y2="176.25" stroke="#ffffff" stroke-width="0.98" stroke-linecap="round" opacity="0.94"/>
<circle cx="283.67" cy="156.01" r="0.70" fill="#ffffff" opacity="0.87"/>
<line x1="274.72" y1="159.91" x2="275.79" y2="160.82" stroke="#ffffff" stroke-width="1.32" stroke-linecap="round" opacity="0.99"/>
<circle cx="298.40" cy="227.55" r="0.73" fill="#ffffff" opacity="0.94"/>
<line x1="263.12" y1="154.87" x2="264.41" y2="155.25" stroke="#fbe8d6" stroke-width="0.90" stroke-linecap="round" opacity="0.86"/>
<circle cx="274.01" cy="225.34" r="0.87" fill="#ffffff" opacity="0.91"/>
<line x1="290.85" y1="188.55" x2="290.94" y2="189.98" stroke="#ffffff" stroke-width="1.37" stroke-linecap="round" opacity="0.96"/>
<line x1="267.82" y1="155.36" x2="265.72" y2="155.62" stroke="#ffffff" stroke-width="1.17" stroke-linecap="round" opacity="0.80"/>
<circle cx="254.78" cy="156.30" r="0.99" fill="#ffffff" opacity="0.99"/>
<circle cx="250.73" cy="171.31" r="0.88" fill="#ffffff" opacity="0.90"/>
<line x1="298.58" y1="185.28" x2="298.38" y2="186.67" stroke="#fff4d6" stroke-width="1.29" stroke-linecap="round" opacity="0.93"/>
<circle cx="223.26" cy="227.05" r="0.59" fill="#ffffff" opacity="0.81"/>
<line x1="285.52" y1="223.62" x2="286.96" y2="224.66" stroke="#ffffff" stroke-width="0.89" stroke-linecap="round" opacity="0.97"/>
<line x1="271.36" y1="185.45" x2="272.85" y2="186.19" stroke="#ffffff" stroke-width="0.77" stroke-linecap="round" opacity="0.86"/>
<circle cx="276.95" cy="213.24" r="1.02" fill="#ffffff" opacity="0.95"/>
<line x1="268.76" y1="202.42" x2="269.75" y2="203.30" stroke="#ffffff" stroke-width="1.15" stroke-linecap="round" opacity="0.99"/>
<circle cx="211.47" cy="190.09" r="0.82" fill="#f6d5dc" opacity="0.80"/>
<line x1="245.14" y1="217.81" x2="243.86" y2="218.33" stroke="#ffffff" stroke-width="0.96" stroke-linecap="round" opacity="0.81"/>
<line x1="301.84" y1="180.30" x2="303.37" y2="181.69" stroke="#f6d5dc" stroke-width="0.88" stroke-linecap="round" opacity="0.95"/>
<circle cx="288.44" cy="197.81" r="0.64" fill="#ffffff" opacity="0.88"/>
<circle cx="243.36" cy="225.91" r="0.65" fill="#fbe6ea" opacity="0.87"/>
<circle cx="241.21" cy="189.72" r="0.91" fill="#ffffff" opacity="0.90"/>
<circle cx="240.46" cy="174.00" r="1.02" fill="#ffffff" opacity="0.91"/>
<line x1="225.25" y1="182.66" x2="224.26" y2="183.34" stroke="#ffffff" stroke-width="0.93" stroke-linecap="round" opacity="0.84"/>
<line x1="234.48" y1="161.23" x2="233.68" y2="162.00" stroke="#ffffff" stroke-width="1.31" stroke-linecap="round" opacity="0.93"/>
<line x1="216.67" y1="175.33" x2="216.09" y2="176.63" stroke="#fbe8d6" stroke-width="0.81" stroke-linecap="round" opacity="0.81"/>
<circle cx="290.60" cy="229.38" r="0.90" fill="#ffffff" opacity="0.95"/>
<circle cx="284.94" cy="165.65" r="0.81" fill="#ffffff" opacity="0.94"/>
<circle cx="220.09" cy="178.29" r="0.65" fill="#fbe8d6" opacity="0.93"/>
<line x1="257.01" y1="183.20" x2="255.34" y2="183.53" stroke="#fff4d6" stroke-width="0.86" stroke-linecap="round" opacity="0.99"/>
<line x1="246.84" y1="183.82" x2="248.04" y2="184.06" stroke="#fbe8d6" stroke-width="1.05" stroke-linecap="round" opacity="0.96"/>
<circle cx="254.58" cy="213.13" r="0.56" fill="#fbe6ea" opacity="0.91"/>
<line x1="268.15" y1="223.44" x2="266.66" y2="223.78" stroke="#ffffff" stroke-width="1.13" stroke-linecap="round" opacity="0.94"/>
<line x1="304.92" y1="211.23" x2="304.67" y2="212.71" stroke="#f6d5dc" stroke-width="0.84" stroke-linecap="round" opacity="0.92"/>
<line x1="269.84" y1="229.10" x2="270.06" y2="230.97" stroke="#ffffff" stroke-width="0.78" stroke-linecap="round" opacity="0.95"/>
<circle cx="222.98" cy="200.90" r="0.65" fill="#fbe6ea" opacity="0.93"/>
<line x1="231.92" y1="175.82" x2="233.70" y2="176.53" stroke="#f6d5dc" stroke-width="1.40" stroke-linecap="round" opacity="0.99"/>
<line x1="297.08" y1="154.76" x2="296.66" y2="156.32" stroke="#ffffff" stroke-width="1.24" stroke-linecap="round" opacity="0.88"/>
<circle cx="284.21" cy="163.44" r="0.89" fill="#ffffff" opacity="0.97"/>
<line x1="224.07" y1="215.77" x2="224.91" y2="216.69" stroke="#fff4d6" stroke-width="1.47" stroke-linecap="round" opacity="0.91"/>
<line x1="228.47" y1="155.20" x2="229.55" y2="155.34" stroke="#fff4d6" stroke-width="1.02" stroke-linecap="round" opacity="0.95"/>
<circle cx="219.27" cy="222.54" r="0.75" fill="#ffffff" opacity="0.93"/>
<circle cx="302.24" cy="178.85" r="0.64" fill="#ffffff" opacity="0.98"/>
<circle cx="286.31" cy="187.40" r="1.05" fill="#ffffff" opacity="0.86"/>
<circle cx="268.56" cy="206.85" r="1.01" fill="#fff4d6" opacity="0.85"/>
<line x1="288.20" y1="201.63" x2="288.95" y2="202.61" stroke="#fbe8d6" stroke-width="1.11" stroke-linecap="round" opacity="0.94"/>
<circle cx="239.58" cy="163.12" r="0.96" fill="#ffffff" opacity="0.85"/>
<line x1="262.97" y1="200.16" x2="264.13" y2="201.28" stroke="#ffffff" stroke-width="1.26" stroke-linecap="round" opacity="0.98"/>
<circle cx="264.63" cy="220.88" r="0.67" fill="#f6d5dc" opacity="0.83"/>
<line x1="281.85" y1="188.99" x2="281.94" y2="190.58" stroke="#ffffff" stroke-width="0.96" stroke-linecap="round" opacity="0.86"/>
<circle cx="268.09" cy="182.28" r="1.05" fill="#ffffff" opacity="0.95"/>
<circle cx="260.12" cy="171.32" r="0.64" fill="#ffffff" opacity="1.00"/>
<circle cx="226.95" cy="158.40" r="0.99" fill="#ffffff" opacity="0.86"/>
<line x1="281.98" y1="221.55" x2="280.58" y2="222.22" stroke="#ffffff" stroke-width="0.89" stroke-linecap="round" opacity="0.85"/>
<circle cx="299.32" cy="217.28" r="0.69" fill="#fbe8d6" opacity="0.95"/>
<line x1="275.66" y1="201.05" x2="275.98" y2="202.42" stroke="#ffffff" stroke-width="1.40" stroke-linecap="round" opacity="0.85"/>
<circle cx="247.68" cy="179.20" r="0.87" fill="#ffffff" opacity="0.85"/>
<circle cx="217.45" cy="158.16" r="0.66" fill="#ffffff" opacity="0.88"/>
<line x1="281.30" y1="193.36" x2="279.31" y2="193.85" stroke="#ffffff" stroke-width="0.98" stroke-linecap="round" opacity="0.87"/>
<circle cx="215.92" cy="224.53" r="0.59" fill="#f6d5dc" opacity="0.85"/>
<line x1="233.11" y1="177.11" x2="232.44" y2="178.47" stroke="#fff4d6" stroke-width="1.23" stroke-linecap="round" opacity="0.81"/>
<circle cx="230.83" cy="186.07" r="0.63" fill="#ffffff" opacity="0.80"/>
<circle cx="220.91" cy="184.39" r="1.00" fill="#ffffff" opacity="0.97"/>
<circle cx="246.53" cy="180.36" r="0.70" fill="#fff4d6" opacity="0.86"/>
<line x1="226.62" y1="172.44" x2="227.20" y2="173.83" stroke="#fff4d6" stroke-width="0.84" stroke-linecap="round" opacity="0.88"/>
<circle cx="258.90" cy="163.64" r="0.72" fill="#f6d5dc" opacity="0.98"/>
<line x1="221.05" y1="193.89" x2="222.54" y2="195.00" stroke="#ffffff" stroke-width="1.07" stroke-linecap="round" opacity="0.96"/>
<circle cx="246.13" cy="173.34" r="0.91" fill="#f6d5dc" opacity="0.83"/>
<circle cx="303.80" cy="160.07" r="0.62" fill="#ffffff" opacity="0.81"/>
<line x1="300.42" y1="184.49" x2="299.49" y2="185.57" stroke="#fff4d6" stroke-width="0.79" stroke-linecap="round" opacity="0.87"/>
<circle cx="251.61" cy="222.25" r="0.76" fill="#fbe6ea" opacity="0.91"/>
<circle cx="216.47" cy="214.98" r="0.70" fill="#fff4d6" opacity="0.92"/>
<circle cx="249.96" cy="171.50" r="0.78" fill="#ffffff" opacity="0.93"/>
<line x1="245.31" y1="194.05" x2="246.02" y2="194.96" stroke="#fff4d6" stroke-width="1.30" stroke-linecap="round" opacity="0.83"/>
<circle cx="237.98" cy="232.00" r="0.99" fill="#f6d5dc" opacity="0.80"/>
<circle cx="283.26" cy="187.24" r="0.82" fill="#ffffff" opacity="0.80"/>
<circle cx="249.88" cy="160.21" r="0.71" fill="#ffffff" opacity="0.89"/>
<circle cx="235.55" cy="217.51" r="0.67" fill="#ffffff" opacity="0.93"/>
<circle cx="249.09" cy="190.90" r="0.99" fill="#fbe8d6" opacity="0.99"/>
<line x1="272.05" y1="220.38" x2="271.32" y2="221.71" stroke="#ffffff" stroke-width="1.14" stroke-linecap="round" opacity="0.99"/>
<circle cx="234.02" cy="223.61" r="1.01" fill="#ffffff" opacity="0.87"/>
<line x1="282.16" y1="228.38" x2="283.23" y2="228.81" stroke="#ffffff" stroke-width="1.22" stroke-linecap="round" opacity="0.94"/>
<circle cx="215.16" cy="212.84" r="0.71" fill="#fbe8d6" opacity="0.88"/>
<circle cx="282.87" cy="160.82" r="0.58" fill="#ffffff" opacity="0.85"/>
<circle cx="266.09" cy="205.74" r="0.60" fill="#fff4d6" opacity="0.94"/>
<circle cx="240.97" cy="186.10" r="0.94" fill="#fff4d6" opacity="0.92"/>
<circle cx="256.32" cy="171.16" r="0.72" fill="#ffffff" opacity="0.92"/>
<line x1="231.95" y1="163.64" x2="231.13" y2="164.70" stroke="#ffffff" stroke-width="1.36" stroke-linecap="round" opacity="0.92"/>
<circle cx="278.17" cy="184.98" r="0.62" fill="#ffffff" opacity="0.96"/>
<circle cx="259.89" cy="171.83" r="0.62" fill="#ffffff" opacity="0.93"/>
<circle cx="290.73" cy="223.09" r="0.86" fill="#fbe8d6" opacity="0.96"/>
<line x1="254.29" y1="212.60" x2="253.50" y2="213.71" stroke="#f6d5dc" stroke-width="0.86" stroke-linecap="round" opacity="0.98"/>
<circle cx="289.58" cy="203.23" r="0.84" fill="#ffffff" opacity="0.83"/>
<circle cx="218.57" cy="176.80" r="0.60" fill="#fbe6ea" opacity="0.83"/>
<circle cx="292.36" cy="202.40" r="0.96" fill="#fbe8d6" opacity="0.86"/>
<circle cx="289.28" cy="190.72" r="0.60" fill="#fbe6ea" opacity="0.94"/>
<circle cx="234.37" cy="172.79" r="0.87" fill="#ffffff" opacity="0.99"/>
<line x1="245.72" y1="165.10" x2="246.36" y2="165.88" stroke="#ffffff" stroke-width="1.37" stroke-linecap="round" opacity="1.00"/>
<line x1="297.20" y1="188.12" x2="297.59" y2="189.10" stroke="#ffffff" stroke-width="1.40" stroke-linecap="round" opacity="0.83"/>
<circle cx="223.28" cy="218.42" r="0.55" fill="#f6d5dc" opacity="0.87"/>
<circle cx="284.26" cy="201.08" r="0.91" fill="#fbe6ea" opacity="0.81"/>
<circle cx="266.29" cy="163.53" r="0.92" fill="#fbe6ea" opacity="0.95"/>
<circle cx="230.44" cy="171.16" r="0.95" fill="#ffffff" opacity="0.88"/>
<circle cx="292.91" cy="174.78" r="0.69" fill="#f6d5dc" opacity="0.84"/>
<circle cx="247.19" cy="186.57" r="1.04" fill="#fbe8d6" opacity="0.89"/>
<line x1="232.22" y1="184.44" x2="233.85" y2="185.59" stroke="#ffffff" stroke-width="0.80" stroke-linecap="round" opacity="0.97"/>
<line x1="253.53" y1="173.99" x2="252.00" y2="175.30" stroke="#ffffff" stroke-width="0.93" stroke-linecap="round" opacity="0.83"/>
<circle cx="226.54" cy="229.69" r="0.94" fill="#fbe6ea" opacity="0.86"/>
<circle cx="277.00" cy="188.25" r="0.60" fill="#fff4d6" opacity="0.88"/>
<circle cx="265.58" cy="168.31" r="0.96" fill="#ffffff" opacity="0.88"/>
<circle cx="289.91" cy="181.59" r="0.97" fill="#ffffff" opacity="0.94"/>
<circle cx="228.78" cy="201.61" r="1.01" fill="#ffffff" opacity="0.99"/>
<line x1="233.24" y1="179.64" x2="232.35" y2="180.57" stroke="#ffffff" stroke-width="1.30" stroke-linecap="round" opacity="0.86"/>
<line x1="250.37" y1="230.10" x2="249.67" y2="230.97" stroke="#fff4d6" stroke-width="1.00" stroke-linecap="round" opacity="1.00"/>
<circle cx="268.76" cy="206.15" r="0.85" fill="#fbe6ea" opacity="0.87"/>
<line x1="297.56" y1="222.18" x2="297.45" y2="223.79" stroke="#f6d5dc" stroke-width="1.40" stroke-linecap="round" opacity="0.89"/>
<circle cx="214.45" cy="220.78" r="0.82" fill="#fbe8d6" opacity="0.88"/>
<line x1="304.17" y1="174.32" x2="304.10" y2="175.33" stroke="#ffffff" stroke-width="1.15" stroke-linecap="round" opacity="0.83"/>
<circle cx="265.38" cy="184.63" r="0.70" fill="#ffffff" opacity="0.90"/>
<circle cx="276.06" cy="181.63" r="1.03" fill="#ffffff" opacity="0.80"/>
<circle cx="219.86" cy="209.94" r="0.85" fill="#fff4d6" opacity="0.81"/>
<circle cx="248.06" cy="173.75" r="0.92" fill="#ffffff" opacity="0.95"/>
<circle cx="269.84" cy="225.16" r="0.65" fill="#f6d5dc" opacity="0.91"/>
<line x1="253.00" y1="211.49" x2="251.64" y2="211.75" stroke="#ffffff" stroke-width="1.12" stroke-linecap="round" opacity="0.84"/>
<circle cx="231.29" cy="212.93" r="1.03" fill="#ffffff" opacity="0.89"/>
<circle cx="263.58" cy="182.00" r="0.65" fill="#fff4d6" opacity="0.88"/>
<circle cx="250.77" cy="202.30" r="0.84" fill="#fbe8d6" opacity="0.92"/>
<line x1="230.38" y1="166.42" x2="230.92" y2="167.64" stroke="#fbe6ea" stroke-width="1.26" stroke-linecap="round" opacity="0.88"/>
<circle cx="296.81" cy="193.39" r="0.84" fill="#ffffff" opacity="0.88"/>
<line x1="221.44" y1="190.57" x2="222.73" y2="191.41" stroke="#fbe8d6" stroke-width="0.81" stroke-linecap="round" opacity="0.81"/>
<circle cx="268.46" cy="226.35" r="1.04" fill="#f6d5dc" opacity="0.82"/>
<circle cx="251.14" cy="231.65" r="0.80" fill="#fbe8d6" opacity="0.89"/>
<circle cx="254.66" cy="184.71" r="0.96" fill="#ffffff" opacity="0.96"/>
<circle cx="301.44" cy="199.87" r="0.62" fill="#f6d5dc" opacity="0.89"/>
<line x1="285.80" y1="157.44" x2="287.59" y2="158.11" stroke="#ffffff" stroke-width="1.43" stroke-linecap="round" opacity="0.86"/>
<circle cx="260.38" cy="196.02" r="0.74" fill="#fbe6ea" opacity="0.96"/>
<circle cx="255.95" cy="166.53" r="0.76" fill="#fff4d6" opacity="0.91"/>
<line x1="256.46" y1="217.70" x2="254.33" y2="217.84" stroke="#fbe8d6" stroke-width="0.97" stroke-linecap="round" opacity="0.81"/>
<line x1="249.64" y1="207.18" x2="248.60" y2="207.66" stroke="#fbe6ea" stroke-width="0.79" stroke-linecap="round" opacity="0.83"/>
<circle cx="249.14" cy="198.26" r="0.80" fill="#ffffff" opacity="0.84"/>
<line x1="283.30" y1="183.23" x2="282.63" y2="184.34" stroke="#fff4d6" stroke-width="1.36" stroke-linecap="round" opacity="0.94"/>
<line x1="283.95" y1="191.04" x2="283.26" y2="192.94" stroke="#fff4d6" stroke-width="1.42" stroke-linecap="round" opacity="0.81"/>
<circle cx="243.05" cy="164.65" r="0.80" fill="#fff4d6" opacity="0.97"/>
<line x1="232.90" y1="162.19" x2="231.99" y2="163.83" stroke="#fff4d6" stroke-width="0.90" stroke-linecap="round" opacity="0.80"/>
<circle cx="236.40" cy="227.32" r="0.72" fill="#ffffff" opacity="0.90"/>
<circle cx="240.41" cy="192.42" r="0.75" fill="#ffffff" opacity="0.89"/>
<line x1="291.44" y1="227.66" x2="293.05" y2="228.97" stroke="#ffffff" stroke-width="1.13" stroke-linecap="round" opacity="0.92"/>
<line x1="261.87" y1="224.46" x2="263.43" y2="225.78" stroke="#ffffff" stroke-width="1.06" stroke-linecap="round" opacity="0.91"/>
<circle cx="253.64" cy="209.12" r="0.83" fill="#fbe6ea" opacity="0.94"/>
<circle cx="299.46" cy="206.97" r="0.87" fill="#ffffff" opacity="0.83"/>
<circle cx="263.77" cy="193.28" r="0.76" fill="#ffffff" opacity="0.94"/>
<circle cx="233.92" cy="230.92" r="0.97" fill="#f6d5dc" opacity="0.89"/>
<circle cx="243.82" cy="170.91" r="0.85" fill="#fff4d6" opacity="0.99"/>
<circle cx="260.61" cy="213.08" r="0.62" fill="#ffffff" opacity="0.89"/>
<line x1="216.70" y1="163.82" x2="215.95" y2="164.54" stroke="#ffffff" stroke-width="0.99" stroke-linecap="round" opacity="0.93"/>
<line x1="283.60" y1="161.31" x2="284.13" y2="163.40" stroke="#f6d5dc" stroke-width="1.25" stroke-linecap="round" opacity="0.95"/>
<line x1="260.50" y1="216.34" x2="259.00" y2="217.10" stroke="#ffffff" stroke-width="1.01" stroke-linecap="round" opacity="0.81"/>
<line x1="252.96" y1="189.19" x2="253.35" y2="191.08" stroke="#fbe6ea" stroke-width="0.95" stroke-linecap="round" opacity="0.87"/>
<circle cx="239.98" cy="205.87" r="0.94" fill="#fbe8d6" opacity="0.94"/>
<circle cx="257.33" cy="199.17" r="0.70" fill="#ffffff" opacity="0.83"/>
<circle cx="297.27" cy="199.36" r="0.60" fill="#fbe8d6" opacity="0.89"/>
<circle cx="299.61" cy="189.57" r="0.76" fill="#ffffff" opacity="0.83"/>
<circle cx="299.38" cy="168.31" r="0.86" fill="#ffffff" opacity="0.94"/>
<circle cx="236.89" cy="188.03" r="0.61" fill="#ffffff" opacity="0.99"/>
<line x1="239.30" y1="204.44" x2="239.15" y2="205.58" stroke="#fbe8d6" stroke-width="1.43" stroke-linecap="round" opacity="1.00"/>
<circle cx="218.46" cy="186.33" r="1.02" fill="#fff4d6" opacity="0.88"/>
<circle cx="230.03" cy="168.77" r="0.89" fill="#fbe6ea" opacity="0.96"/>
<line x1="263.11" y1="175.45" x2="264.29" y2="175.66" stroke="#fbe8d6" stroke-width="1.23" stroke-linecap="round" opacity="0.83"/>
<circle cx="282.40" cy="225.85" r="0.90" fill="#ffffff" opacity="0.88"/>
<circle cx="288.38" cy="225.76" r="1.00" fill="#fbe8d6" opacity="0.98"/>
<circle cx="240.60" cy="181.00" r="0.77" fill="#ffffff" opacity="0.88"/>
<circle cx="243.92" cy="215.20" r="0.93" fill="#ffffff" opacity="0.87"/>
<circle cx="299.81" cy="202.69" r="0.85" fill="#ffffff" opacity="0.99"/>
<circle cx="215.65" cy="181.84" r="0.66" fill="#f6d5dc" opacity="0.81"/>
<circle cx="300.31" cy="207.51" r="0.90" fill="#fbe6ea" opacity="1.00"/>
<circle cx="269.28" cy="221.74" r="0.69" fill="#fbe6ea" opacity="0.85"/>
<circle cx="210.30" cy="190.54" r="0.78" fill="#fff4d6" opacity="0.95"/>
<line x1="300.81" y1="185.18" x2="298.71" y2="185.25" stroke="#fff4d6" stroke-width="1.38" stroke-linecap="round" opacity="0.94"/>
<line x1="246.82" y1="185.66" x2="245.39" y2="186.12" stroke="#fbe6ea" stroke-width="1.29" stroke-linecap="round" opacity="0.92"/>
<circle cx="291.60" cy="219.58" r="0.92" fill="#fbe8d6" opacity="0.97"/>
<circle cx="296.32" cy="201.67" r="0.66" fill="#ffffff" opacity="0.90"/>
<line x1="243.87" y1="198.08" x2="245.01" y2="199.14" stroke="#f6d5dc" stroke-width="1.06" stroke-linecap="round" opacity="1.00"/>
<line x1="252.41" y1="202.04" x2="251.47" y2="203.75" stroke="#fbe6ea" stroke-width="1.43" stroke-linecap="round" opacity="0.99"/>
<circle cx="305.93" cy="219.68" r="0.95" fill="#fbe6ea" opacity="0.90"/>
<line x1="223.14" y1="167.23" x2="224.97" y2="167.23" stroke="#ffffff" stroke-width="0.97" stroke-linecap="round" opacity="1.00"/>
<circle cx="235.53" cy="170.10" r="0.72" fill="#fbe6ea" opacity="0.85"/>
<circle cx="282.85" cy="182.94" r="0.61" fill="#ffffff" opacity="0.81"/>
<line x1="282.93" y1="202.99" x2="282.30" y2="203.87" stroke="#ffffff" stroke-width="1.11" stroke-linecap="round" opacity="0.91"/>
<circle cx="288.45" cy="180.11" r="0.87" fill="#fbe6ea" opacity="0.89"/>
<circle cx="263.16" cy="175.97" r="0.61" fill="#fbe6ea" opacity="0.97"/>
<circle cx="249.64" cy="164.32" r="0.76" fill="#ffffff" opacity="0.99"/>
<circle cx="255.83" cy="208.07" r="0.99" fill="#ffffff" opacity="0.86"/>
<circle cx="268.99" cy="226.27" r="0.88" fill="#ffffff" opacity="0.84"/>
<line x1="295.15" y1="156.68" x2="294.87" y2="158.19" stroke="#ffffff" stroke-width="0.87" stroke-linecap="round" opacity="0.93"/>
<line x1="217.30" y1="159.37" x2="218.14" y2="160.50" stroke="#fff4d6" stroke-width="1.07" stroke-linecap="round" opacity="0.82"/>
<line x1="275.36" y1="215.29" x2="274.14" y2="216.36" stroke="#ffffff" stroke-width="1.36" stroke-linecap="round" opacity="0.92"/>
<circle cx="273.06" cy="213.26" r="1.02" fill="#fff4d6" opacity="0.96"/>
<line x1="293.76" y1="183.69" x2="293.13" y2="185.28" stroke="#fbe6ea" stroke-width="1.38" stroke-linecap="round" opacity="0.97"/>
<line x1="219.39" y1="222.40" x2="218.61" y2="223.96" stroke="#fbe6ea" stroke-width="1.12" stroke-linecap="round" opacity="0.83"/>
<line x1="209.82" y1="188.13" x2="208.52" y2="188.95" stroke="#ffffff" stroke-width="0.90" stroke-linecap="round" opacity="0.97"/>
<circle cx="216.27" cy="213.57" r="0.91" fill="#f6d5dc" opacity="0.96"/>
<line x1="225.84" y1="166.79" x2="224.74" y2="167.26" stroke="#fff4d6" stroke-width="1.34" stroke-linecap="round" opacity="0.85"/>
<circle cx="222.19" cy="169.85" r="0.58" fill="#ffffff" opacity="0.98"/>
<line x1="258.74" y1="226.64" x2="260.32" y2="226.98" stroke="#ffffff" stroke-width="1.12" stroke-linecap="round" opacity="0.99"/>
<circle cx="236.53" cy="194.61" r="0.89" fill="#ffffff" opacity="0.96"/>
<circle cx="250.64" cy="168.40" r="0.96" fill="#f6d5dc" opacity="0.89"/>
<circle cx="269.29" cy="217.13" r="1.02" fill="#f6d5dc" opacity="0.93"/>
<line x1="235.63" y1="198.18" x2="234.33" y2="198.64" stroke="#ffffff" stroke-width="0.92" stroke-linecap="round" opacity="0.90"/>
<circle cx="238.03" cy="219.01" r="0.87" fill="#fbe8d6" opacity="0.90"/>
<circle cx="228.40" cy="212.70" r="0.66" fill="#fbe6ea" opacity="0.98"/>
<circle cx="248.36" cy="219.64" r="0.57" fill="#ffffff" opacity="1.00"/>
<line x1="224.66" y1="176.43" x2="226.34" y2="177.10" stroke="#ffffff" stroke-width="1.26" stroke-linecap="round" opacity="0.80"/>
<circle cx="222.17" cy="210.71" r="0.88" fill="#ffffff" opacity="0.85"/>
<circle cx="291.50" cy="212.61" r="0.58" fill="#ffffff" opacity="0.86"/>
<circle cx="304.40" cy="204.59" r="0.67" fill="#ffffff" opacity="0.84"/>
<circle cx="261.43" cy="228.42" r="0.56" fill="#f6d5dc" opacity="0.90"/>
<line x1="223.51" y1="159.71" x2="224.49" y2="161.66" stroke="#fff4d6" stroke-width="1.13" stroke-linecap="round" opacity="0.94"/>
<line x1="251.98" y1="193.48" x2="253.50" y2="194.58" stroke="#f6d5dc" stroke-width="1.36" stroke-linecap="round" opacity="0.85"/>
<line x1="240.67" y1="194.48" x2="241.09" y2="195.41" stroke="#f6d5dc" stroke-width="1.43" stroke-linecap="round" opacity="0.99"/>
<circle cx="223.64" cy="231.42" r="0.91" fill="#ffffff" opacity="1.00"/>
<circle cx="300.69" cy="196.51" r="0.62" fill="#ffffff" opacity="0.98"/>
<circle cx="261.78" cy="176.01" r="0.99" fill="#ffffff" opacity="0.98"/>
<circle cx="283.96" cy="161.55" r="0.66" fill="#fff4d6" opacity="0.83"/>
<line x1="251.70" y1="176.47" x2="250.34" y2="177.60" stroke="#ffffff" stroke-width="0.97" stroke-linecap="round" opacity="0.90"/>
<circle cx="266.29" cy="190.73" r="1.03" fill="#fbe6ea" opacity="0.83"/>
<circle cx="281.69" cy="229.53" r="1.03" fill="#fff4d6" opacity="0.96"/>
<circle cx="263.21" cy="169.78" r="0.59" fill="#fff4d6" opacity="0.87"/>
<line x1="303.61" y1="193.21" x2="302.64" y2="193.52" stroke="#f6d5dc" stroke-width="0.94" stroke-linecap="round" opacity="0.89"/>
<circle cx="215.42" cy="232.60" r="0.59" fill="#fbe6ea" opacity="0.96"/>
<line x1="276.56" y1="229.60" x2="275.97" y2="230.98" stroke="#fff4d6" stroke-width="1.30" stroke-linecap="round" opacity="0.86"/>
<circle cx="249.47" cy="226.44" r="0.83" fill="#fbe6ea" opacity="0.90"/>
<line x1="279.72" y1="194.08" x2="280.18" y2="195.44" stroke="#ffffff" stroke-width="1.31" stroke-linecap="round" opacity="0.98"/>
<circle cx="296.27" cy="193.86" r="0.69" fill="#ffffff" opacity="0.94"/>
<circle cx="220.81" cy="228.43" r="0.97" fill="#ffffff" opacity="0.96"/>
<circle cx="292.59" cy="207.46" r="0.92" fill="#fbe6ea" opacity="0.90"/>
<circle cx="230.92" cy="186.97" r="0.55" fill="#f6d5dc" opacity="0.83"/>
<line x1="230.23" y1="168.11" x2="231.54" y2="169.79" stroke="#ffffff" stroke-width="1.38" stroke-linecap="round" opacity="0.81"/>
<circle cx="233.66" cy="162.18" r="0.56" fill="#fbe6ea" opacity="0.80"/>
<line x1="210.25" y1="171.07" x2="211.86" y2="172.45" stroke="#ffffff" stroke-width="0.93" stroke-linecap="round" opacity="0.90"/>
<circle cx="303.05" cy="195.32" r="0.70" fill="#fbe8d6" opacity="0.91"/>
<circle cx="221.13" cy="206.46" r="0.77" fill="#fbe6ea" opacity="0.88"/>
<circle cx="253.69" cy="178.81" r="1.04" fill="#ffffff" opacity="0.80"/>
<line x1="275.83" y1="200.32" x2="274.19" y2="200.43" stroke="#ffffff" stroke-width="0.78" stroke-linecap="round" opacity="0.96"/>
<circle cx="240.47" cy="210.95" r="0.80" fill="#fbe6ea" opacity="0.94"/>
<line x1="260.51" y1="165.70" x2="262.61" y2="165.90" stroke="#ffffff" stroke-width="1.17" stroke-linecap="round" opacity="0.90"/>
<circle cx="281.89" cy="178.97" r="1.00" fill="#fbe6ea" opacity="0.86"/>
<circle cx="229.70" cy="227.93" r="0.97" fill="#ffffff" opacity="0.86"/>
<line x1="289.36" y1="226.28" x2="290.53" y2="226.88" stroke="#fff4d6" stroke-width="0.79" stroke-linecap="round" opacity="0.99"/>
<line x1="226.08" y1="160.07" x2="224.40" y2="160.72" stroke="#f6d5dc" stroke-width="0.78" stroke-linecap="round" opacity="0.98"/>
<circle cx="232.22" cy="163.96" r="0.91" fill="#fbe8d6" opacity="0.99"/>
<line x1="285.35" y1="162.12" x2="285.39" y2="163.33" stroke="#ffffff" stroke-width="1.25" stroke-linecap="round" opacity="0.97"/>
<line x1="259.17" y1="222.64" x2="258.22" y2="224.12" stroke="#fbe8d6" stroke-width="1.27" stroke-linecap="round" opacity="0.91"/>
<line x1="289.75" y1="162.60" x2="290.67" y2="163.97" stroke="#ffffff" stroke-width="1.12" stroke-linecap="round" opacity="0.91"/>
<circle cx="290.42" cy="175.51" r="1.01" fill="#ffffff" opacity="0.93"/>
<line x1="290.70" y1="163.59" x2="290.75" y2="165.35" stroke="#fbe8d6" stroke-width="0.93" stroke-linecap="round" opacity="0.92"/>
<circle cx="266.64" cy="181.69" r="1.05" fill="#f6d5dc" opacity="0.94"/>
<circle cx="302.80" cy="183.36" r="1.00" fill="#ffffff" opacity="0.98"/>
<circle cx="252.25" cy="229.82" r="1.01" fill="#f6d5dc" opacity="0.94"/>
<line x1="241.74" y1="220.69" x2="241.24" y2="222.47" stroke="#fbe8d6" stroke-width="1.16" stroke-linecap="round" opacity="0.85"/>
<circle cx="288.83" cy="220.18" r="0.72" fill="#f6d5dc" opacity="0.88"/>
<circle cx="287.43" cy="193.75" r="1.00" fill="#ffffff" opacity="0.83"/>
<circle cx="304.69" cy="168.93" r="0.59" fill="#ffffff" opacity="0.90"/>
<circle cx="211.65" cy="194.78" r="0.64" fill="#fbe6ea" opacity="0.80"/>
<circle cx="284.05" cy="168.23" r="0.81" fill="#ffffff" opacity="0.88"/>
<circle cx="299.37" cy="157.63" r="0.75" fill="#d42a45"/>
<circle cx="228.06" cy="216.17" r="0.75" fill="#d42a45"/>
<circle cx="296.19" cy="164.31" r="0.75" fill="#d42a45"/>
<circle cx="271.06" cy="181.15" r="0.75" fill="#d42a45"/>
<circle cx="300.86" cy="160.97" r="0.75" fill="#d42a45"/>
<circle cx="276.23" cy="176.55" r="0.75" fill="#d42a45"/>
<circle cx="252.90" cy="199.91" r="0.75" fill="#d42a45"/>
<circle cx="215.68" cy="230.44" r="0.75" fill="#d42a45"/>
<circle cx="246.07" cy="205.07" r="0.75" fill="#d42a45"/>
<circle cx="306.06" cy="156.96" r="0.75" fill="#d42a45"/>
<circle cx="245.18" cy="205.78" r="0.75" fill="#d42a45"/>
<circle cx="271.54" cy="184.46" r="0.75" fill="#d42a45"/>
<circle cx="259.10" cy="190.51" r="0.75" fill="#d42a45"/>
<circle cx="297.65" cy="163.70" r="0.75" fill="#d42a45"/>
<circle cx="228.09" cy="219.78" r="0.75" fill="#d42a45"/>
<circle cx="267.92" cy="183.44" r="0.75" fill="#d42a45"/>
<circle cx="254.43" cy="198.87" r="0.75" fill="#d42a45"/>
<circle cx="276.73" cy="180.04" r="0.75" fill="#d42a45"/>
<circle cx="239.29" cy="210.85" r="0.75" fill="#d42a45"/>
<circle cx="239.67" cy="206.39" r="0.75" fill="#d42a45"/>
<circle cx="257.36" cy="196.09" r="0.75" fill="#d42a45"/>
<circle cx="261.42" cy="193.39" r="0.75" fill="#d42a45"/>
<circle cx="238.12" cy="212.27" r="0.75" fill="#d42a45"/>
<circle cx="287.73" cy="171.67" r="0.75" fill="#d42a45"/>
<circle cx="243.47" cy="207.66" r="0.75" fill="#d42a45"/>
<circle cx="277.23" cy="180.11" r="0.75" fill="#d42a45"/>
<circle cx="295.18" cy="165.54" r="0.75" fill="#d42a45"/>
<circle cx="280.53" cy="173.34" r="0.75" fill="#d42a45"/>
<circle cx="305.23" cy="157.23" r="0.75" fill="#d42a45"/>
<circle cx="241.87" cy="209.14" r="0.75" fill="#d42a45"/>
<circle cx="209.15" cy="231.30" r="0.75" fill="#d42a45"/>
<circle cx="273.41" cy="183.08" r="0.75" fill="#d42a45"/>
<circle cx="237.25" cy="212.49" r="0.75" fill="#d42a45"/>
<circle cx="213.11" cy="231.94" r="0.75" fill="#d42a45"/>
<circle cx="263.32" cy="191.71" r="0.75" fill="#d42a45"/>
<circle cx="289.46" cy="170.34" r="0.75" fill="#d42a45"/>
<circle cx="236.00" cy="213.58" r="0.75" fill="#d42a45"/>
<circle cx="211.60" cy="233.90" r="0.75" fill="#d42a45"/>
<circle cx="231.73" cy="216.86" r="0.75" fill="#d42a45"/>
<circle cx="285.16" cy="173.38" r="0.75" fill="#d42a45"/>
<circle cx="253.79" cy="199.36" r="0.75" fill="#d42a45"/>
<circle cx="298.35" cy="162.52" r="0.75" fill="#d42a45"/>
<circle cx="293.59" cy="166.61" r="0.75" fill="#d42a45"/>
<circle cx="306.08" cy="156.19" r="0.75" fill="#d42a45"/>
<circle cx="276.54" cy="180.74" r="0.75" fill="#d42a45"/>
<circle cx="299.25" cy="162.38" r="0.75" fill="#d42a45"/>
<circle cx="301.27" cy="160.09" r="0.75" fill="#d42a45"/>
<circle cx="263.52" cy="186.95" r="0.75" fill="#d42a45"/>
<circle cx="226.83" cy="221.19" r="0.75" fill="#d42a45"/>
<circle cx="301.83" cy="160.43" r="0.75" fill="#d42a45"/>
<circle cx="303.72" cy="158.66" r="0.75" fill="#d42a45"/>
<circle cx="262.65" cy="191.92" r="0.75" fill="#d42a45"/>
<circle cx="266.85" cy="184.22" r="0.75" fill="#d42a45"/>
<circle cx="270.44" cy="181.86" r="0.75" fill="#d42a45"/>
<circle cx="284.89" cy="170.14" r="0.75" fill="#d42a45"/>
<circle cx="223.63" cy="224.06" r="0.75" fill="#d42a45"/>
<circle cx="250.10" cy="202.56" r="0.75" fill="#d42a45"/>
<circle cx="289.28" cy="170.56" r="0.75" fill="#d42a45"/>
<circle cx="237.11" cy="213.00" r="0.75" fill="#d42a45"/>
<circle cx="233.02" cy="216.16" r="0.75" fill="#d42a45"/>
<circle cx="303.46" cy="158.75" r="0.75" fill="#d42a45"/>
<circle cx="300.98" cy="157.05" r="0.75" fill="#d42a45"/>
<circle cx="238.08" cy="207.75" r="0.75" fill="#d42a45"/>
<circle cx="270.45" cy="185.34" r="0.75" fill="#d42a45"/>
<circle cx="275.14" cy="181.38" r="0.75" fill="#d42a45"/>
<circle cx="288.97" cy="166.30" r="0.75" fill="#d42a45"/>
<circle cx="305.59" cy="156.59" r="0.75" fill="#d42a45"/>
<circle cx="278.52" cy="174.62" r="0.75" fill="#d42a45"/>
<circle cx="244.63" cy="202.87" r="0.75" fill="#d42a45"/>
<circle cx="286.75" cy="171.87" r="0.75" fill="#d42a45"/>
<circle cx="256.34" cy="193.46" r="0.75" fill="#d42a45"/>
<circle cx="224.98" cy="222.62" r="0.75" fill="#d42a45"/>
<circle cx="283.02" cy="175.34" r="0.75" fill="#d42a45"/>
<circle cx="238.53" cy="211.31" r="0.75" fill="#d42a45"/>
<circle cx="231.95" cy="217.44" r="0.75" fill="#d42a45"/>
<circle cx="231.52" cy="213.53" r="0.75" fill="#d42a45"/>
<circle cx="276.61" cy="176.52" r="0.75" fill="#d42a45"/>
<circle cx="208.69" cy="231.82" r="0.75" fill="#d42a45"/>
<circle cx="247.76" cy="204.42" r="0.75" fill="#d42a45"/>
<circle cx="256.25" cy="197.45" r="0.75" fill="#d42a45"/>
<circle cx="256.19" cy="192.91" r="0.75" fill="#d42a45"/>
<circle cx="231.69" cy="212.94" r="0.75" fill="#d42a45"/>
<circle cx="259.37" cy="190.64" r="0.75" fill="#d42a45"/>
<circle cx="284.55" cy="170.21" r="0.75" fill="#d42a45"/>
<circle cx="246.72" cy="205.17" r="0.75" fill="#d42a45"/>
<circle cx="270.89" cy="185.57" r="0.75" fill="#d42a45"/>
<circle cx="266.51" cy="185.25" r="0.75" fill="#d42a45"/>
<circle cx="285.36" cy="169.64" r="0.75" fill="#d42a45"/>
<circle cx="273.88" cy="178.37" r="0.75" fill="#d42a45"/>
<circle cx="227.06" cy="220.53" r="0.75" fill="#d42a45"/>
<circle cx="222.33" cy="221.12" r="0.75" fill="#d42a45"/>
<circle cx="286.53" cy="172.57" r="0.75" fill="#d42a45"/>
<circle cx="249.04" cy="203.26" r="0.75" fill="#d42a45"/>
<circle cx="248.98" cy="199.13" r="0.75" fill="#d42a45"/>
<circle cx="243.98" cy="203.36" r="0.75" fill="#d42a45"/>
<circle cx="221.72" cy="225.08" r="0.75" fill="#d42a45"/>
<circle cx="245.69" cy="205.92" r="0.75" fill="#d42a45"/>
<circle cx="219.47" cy="227.35" r="0.75" fill="#d42a45"/>
<circle cx="260.75" cy="189.36" r="0.75" fill="#d42a45"/>
<circle cx="275.07" cy="182.04" r="0.75" fill="#d42a45"/>
<circle cx="271.39" cy="184.40" r="0.75" fill="#d42a45"/>
<circle cx="306.00" cy="156.15" r="0.75" fill="#d42a45"/>
<circle cx="231.13" cy="217.35" r="0.75" fill="#d42a45"/>
<circle cx="235.93" cy="213.92" r="0.75" fill="#d42a45"/>
<circle cx="295.98" cy="160.79" r="0.75" fill="#d42a45"/>
<circle cx="229.81" cy="214.66" r="0.75" fill="#d42a45"/>
<circle cx="292.33" cy="164.06" r="0.75" fill="#d42a45"/>
<circle cx="284.53" cy="173.92" r="0.75" fill="#d42a45"/>
<circle cx="287.69" cy="171.61" r="0.75" fill="#d42a45"/>
<circle cx="215.45" cy="230.12" r="0.75" fill="#d42a45"/>
<circle cx="299.66" cy="162.08" r="0.75" fill="#d42a45"/>
<circle cx="293.82" cy="162.26" r="0.75" fill="#d42a45"/>
<circle cx="209.22" cy="232.96" r="0.95" fill="#2b70cc"/>
<circle cx="210.12" cy="233.11" r="0.95" fill="#2b70cc"/>
<circle cx="210.44" cy="232.55" r="0.95" fill="#2b70cc"/>
<circle cx="210.95" cy="232.23" r="0.95" fill="#2b70cc"/>
<circle cx="211.16" cy="231.54" r="0.95" fill="#2b70cc"/>
<circle cx="211.38" cy="230.86" r="0.95" fill="#2b70cc"/>
<circle cx="212.03" cy="230.71" r="0.95" fill="#2b70cc"/>
<circle cx="212.95" cy="230.88" r="0.95" fill="#2b70cc"/>
<circle cx="213.29" cy="230.36" r="0.95" fill="#2b70cc"/>
<circle cx="213.34" cy="229.47" r="0.95" fill="#2b70cc"/>
<circle cx="214.02" cy="229.35" r="0.95" fill="#2b70cc"/>
<circle cx="214.40" cy="228.87" r="0.95" fill="#2b70cc"/>
<circle cx="215.08" cy="228.75" r="0.95" fill="#2b70cc"/>
<circle cx="215.83" cy="228.72" r="0.95" fill="#2b70cc"/>
<circle cx="215.91" cy="227.86" r="0.95" fill="#2b70cc"/>
<circle cx="216.54" cy="227.69" r="0.95" fill="#2b70cc"/>
<circle cx="216.91" cy="227.20" r="0.95" fill="#2b70cc"/>
<circle cx="217.33" cy="226.76" r="0.95" fill="#2b70cc"/>
<circle cx="217.70" cy="226.27" r="0.95" fill="#2b70cc"/>
<circle cx="219.02" cy="225.53" r="0.50" fill="#d42a45"/>
<circle cx="220.23" cy="224.80" r="0.95" fill="#2b70cc"/>
<circle cx="220.45" cy="224.12" r="0.95" fill="#2b70cc"/>
<circle cx="220.93" cy="223.76" r="0.95" fill="#2b70cc"/>
<circle cx="221.53" cy="223.55" r="0.95" fill="#2b70cc"/>
<circle cx="221.94" cy="223.10" r="0.95" fill="#2b70cc"/>
<circle cx="222.29" cy="222.58" r="0.95" fill="#2b70cc"/>
<circle cx="222.82" cy="222.28" r="0.95" fill="#2b70cc"/>
<circle cx="223.63" cy="222.32" r="0.95" fill="#2b70cc"/>
<circle cx="223.80" cy="221.59" r="0.95" fill="#2b70cc"/>
<circle cx="224.39" cy="221.35" r="0.95" fill="#2b70cc"/>
<circle cx="224.91" cy="221.05" r="0.95" fill="#2b70cc"/>
<circle cx="225.21" cy="220.46" r="0.95" fill="#2b70cc"/>
<circle cx="225.98" cy="220.46" r="0.95" fill="#2b70cc"/>
<circle cx="226.21" cy="219.79" r="0.95" fill="#2b70cc"/>
<circle cx="226.76" cy="219.52" r="0.95" fill="#2b70cc"/>
<circle cx="227.03" cy="218.90" r="0.95" fill="#2b70cc"/>
<circle cx="227.68" cy="218.74" r="0.95" fill="#2b70cc"/>
<circle cx="228.02" cy="218.21" r="0.95" fill="#2b70cc"/>
<circle cx="228.59" cy="217.97" r="0.95" fill="#2b70cc"/>
<circle cx="228.86" cy="217.34" r="0.95" fill="#2b70cc"/>
<circle cx="229.32" cy="216.97" r="0.95" fill="#2b70cc"/>
<circle cx="229.87" cy="216.69" r="0.95" fill="#2b70cc"/>
<circle cx="230.78" cy="215.94" r="0.50" fill="#d42a45"/>
<circle cx="231.68" cy="215.22" r="0.95" fill="#2b70cc"/>
<circle cx="232.33" cy="215.07" r="0.95" fill="#2b70cc"/>
<circle cx="232.25" cy="214.03" r="0.95" fill="#2b70cc"/>
<circle cx="232.84" cy="213.80" r="0.95" fill="#2b70cc"/>
<circle cx="233.67" cy="213.87" r="0.95" fill="#2b70cc"/>
<circle cx="234.07" cy="213.41" r="0.95" fill="#2b70cc"/>
<circle cx="234.56" cy="213.07" r="0.95" fill="#2b70cc"/>
<circle cx="234.95" cy="212.59" r="0.95" fill="#2b70cc"/>
<circle cx="235.46" cy="212.27" r="0.95" fill="#2b70cc"/>
<circle cx="235.95" cy="211.92" r="0.95" fill="#2b70cc"/>
<circle cx="236.49" cy="211.63" r="0.95" fill="#2b70cc"/>
<circle cx="236.60" cy="210.82" r="0.95" fill="#2b70cc"/>
<circle cx="237.14" cy="210.53" r="0.95" fill="#2b70cc"/>
<circle cx="237.91" cy="210.53" r="0.95" fill="#2b70cc"/>
<circle cx="238.38" cy="210.15" r="0.95" fill="#2b70cc"/>
<circle cx="238.51" cy="209.36" r="0.95" fill="#2b70cc"/>
<circle cx="239.41" cy="209.51" r="0.95" fill="#2b70cc"/>
<circle cx="239.68" cy="208.90" r="0.95" fill="#2b70cc"/>
<circle cx="240.20" cy="208.59" r="0.95" fill="#2b70cc"/>
<circle cx="240.49" cy="207.99" r="0.95" fill="#2b70cc"/>
<circle cx="240.85" cy="207.49" r="0.95" fill="#2b70cc"/>
<circle cx="241.46" cy="207.28" r="0.95" fill="#2b70cc"/>
<circle cx="241.91" cy="206.88" r="0.95" fill="#2b70cc"/>
<circle cx="242.20" cy="206.29" r="0.95" fill="#2b70cc"/>
<circle cx="242.86" cy="206.15" r="0.95" fill="#2b70cc"/>
<circle cx="243.82" cy="205.31" r="0.50" fill="#f2b2bd"/>
<circle cx="244.66" cy="204.60" r="0.95" fill="#2b70cc"/>
<circle cx="245.02" cy="204.09" r="0.95" fill="#2b70cc"/>
<circle cx="245.72" cy="204.00" r="0.95" fill="#2b70cc"/>
<circle cx="246.27" cy="203.72" r="0.95" fill="#2b70cc"/>
<circle cx="246.38" cy="202.90" r="0.95" fill="#2b70cc"/>
<circle cx="247.04" cy="202.77" r="0.95" fill="#2b70cc"/>
<circle cx="247.54" cy="202.43" r="0.95" fill="#2b70cc"/>
<circle cx="248.96" cy="201.12" r="0.92" fill="#d42a45"/>
<circle cx="250.43" cy="200.05" r="0.95" fill="#2b70cc"/>
<circle cx="251.02" cy="199.82" r="0.95" fill="#2b70cc"/>
<circle cx="251.35" cy="199.28" r="0.95" fill="#2b70cc"/>
<circle cx="251.63" cy="198.67" r="0.95" fill="#2b70cc"/>
<circle cx="252.31" cy="198.55" r="0.95" fill="#2b70cc"/>
<circle cx="252.58" cy="197.94" r="0.95" fill="#2b70cc"/>
<circle cx="252.93" cy="197.42" r="0.95" fill="#2b70cc"/>
<circle cx="254.64" cy="196.49" r="0.96" fill="#d42a45"/>
<circle cx="256.12" cy="195.36" r="0.95" fill="#2b70cc"/>
<circle cx="256.43" cy="194.80" r="0.95" fill="#2b70cc"/>
<circle cx="256.83" cy="194.33" r="0.95" fill="#2b70cc"/>
<circle cx="257.58" cy="194.31" r="0.95" fill="#2b70cc"/>
<circle cx="257.79" cy="193.61" r="0.95" fill="#2b70cc"/>
<circle cx="258.45" cy="193.48" r="0.95" fill="#2b70cc"/>
<circle cx="259.78" cy="192.30" r="0.53" fill="#d42a45"/>
<circle cx="260.88" cy="191.39" r="0.95" fill="#2b70cc"/>
<circle cx="261.47" cy="191.16" r="0.95" fill="#2b70cc"/>
<circle cx="261.72" cy="190.51" r="0.95" fill="#2b70cc"/>
<circle cx="263.37" cy="189.37" r="0.64" fill="#d42a45"/>
<circle cx="264.49" cy="188.31" r="0.95" fill="#2b70cc"/>
<circle cx="264.95" cy="187.92" r="0.95" fill="#2b70cc"/>
<circle cx="265.52" cy="187.68" r="0.95" fill="#2b70cc"/>
<circle cx="265.78" cy="187.04" r="0.95" fill="#2b70cc"/>
<circle cx="266.42" cy="186.88" r="0.95" fill="#2b70cc"/>
<circle cx="266.94" cy="186.57" r="0.95" fill="#2b70cc"/>
<circle cx="268.30" cy="185.35" r="0.74" fill="#f2b2bd"/>
<circle cx="269.64" cy="184.41" r="0.95" fill="#2b70cc"/>
<circle cx="270.15" cy="184.08" r="0.95" fill="#2b70cc"/>
<circle cx="270.39" cy="183.43" r="0.95" fill="#2b70cc"/>
<circle cx="270.88" cy="183.07" r="0.95" fill="#2b70cc"/>
<circle cx="271.51" cy="182.90" r="0.95" fill="#2b70cc"/>
<circle cx="271.80" cy="182.31" r="0.95" fill="#2b70cc"/>
<circle cx="272.62" cy="182.36" r="0.95" fill="#2b70cc"/>
<circle cx="272.86" cy="181.70" r="0.95" fill="#2b70cc"/>
<circle cx="273.71" cy="181.80" r="0.95" fill="#2b70cc"/>
<circle cx="273.67" cy="180.80" r="0.95" fill="#2b70cc"/>
<circle cx="274.32" cy="180.65" r="0.95" fill="#2b70cc"/>
<circle cx="274.77" cy="180.25" r="0.95" fill="#2b70cc"/>
<circle cx="275.18" cy="179.81" r="0.95" fill="#2b70cc"/>
<circle cx="275.68" cy="179.47" r="0.95" fill="#2b70cc"/>
<circle cx="276.57" cy="178.60" r="0.50" fill="#d42a45"/>
<circle cx="277.45" cy="177.88" r="0.95" fill="#2b70cc"/>
<circle cx="277.72" cy="177.26" r="0.95" fill="#2b70cc"/>
<circle cx="278.32" cy="177.06" r="0.95" fill="#2b70cc"/>
<circle cx="278.86" cy="176.76" r="0.95" fill="#2b70cc"/>
<circle cx="279.45" cy="176.55" r="0.95" fill="#2b70cc"/>
<circle cx="279.68" cy="175.87" r="0.95" fill="#2b70cc"/>
<circle cx="280.42" cy="175.83" r="0.95" fill="#2b70cc"/>
<circle cx="280.59" cy="175.09" r="0.95" fill="#2b70cc"/>
<circle cx="281.32" cy="175.04" r="0.95" fill="#2b70cc"/>
<circle cx="281.68" cy="174.53" r="0.95" fill="#2b70cc"/>
<circle cx="282.47" cy="174.54" r="0.95" fill="#2b70cc"/>
<circle cx="282.67" cy="173.85" r="0.95" fill="#2b70cc"/>
<circle cx="283.23" cy="173.58" r="0.95" fill="#2b70cc"/>
<circle cx="283.45" cy="172.90" r="0.95" fill="#2b70cc"/>
<circle cx="284.54" cy="172.10" r="0.50" fill="#f2b2bd"/>
<circle cx="285.42" cy="171.16" r="0.95" fill="#2b70cc"/>
<circle cx="285.99" cy="170.91" r="0.95" fill="#2b70cc"/>
<circle cx="286.17" cy="170.18" r="0.95" fill="#2b70cc"/>
<circle cx="286.88" cy="170.10" r="0.95" fill="#2b70cc"/>
<circle cx="287.29" cy="169.66" r="0.95" fill="#2b70cc"/>
<circle cx="288.07" cy="169.67" r="0.95" fill="#2b70cc"/>
<circle cx="288.32" cy="169.02" r="0.95" fill="#2b70cc"/>
<circle cx="288.79" cy="168.65" r="0.95" fill="#2b70cc"/>
<circle cx="289.25" cy="168.26" r="0.95" fill="#2b70cc"/>
<circle cx="289.40" cy="167.50" r="0.95" fill="#2b70cc"/>
<circle cx="290.01" cy="167.30" r="0.95" fill="#2b70cc"/>
<circle cx="290.83" cy="167.35" r="0.95" fill="#2b70cc"/>
<circle cx="291.19" cy="166.85" r="0.95" fill="#2b70cc"/>
<circle cx="291.35" cy="166.09" r="0.95" fill="#2b70cc"/>
<circle cx="292.07" cy="166.02" r="0.95" fill="#2b70cc"/>
<circle cx="292.43" cy="165.51" r="0.95" fill="#2b70cc"/>
<circle cx="293.02" cy="165.30" r="0.95" fill="#2b70cc"/>
<circle cx="293.44" cy="164.85" r="0.95" fill="#2b70cc"/>
<circle cx="293.88" cy="164.44" r="0.95" fill="#2b70cc"/>
<circle cx="294.14" cy="163.81" r="0.95" fill="#2b70cc"/>
<circle cx="294.76" cy="163.63" r="0.95" fill="#2b70cc"/>
<circle cx="295.14" cy="163.15" r="0.95" fill="#2b70cc"/>
<circle cx="295.70" cy="162.88" r="0.95" fill="#2b70cc"/>
<circle cx="296.35" cy="162.73" r="0.95" fill="#2b70cc"/>
<circle cx="296.73" cy="162.25" r="0.95" fill="#2b70cc"/>
<circle cx="297.79" cy="161.29" r="0.50" fill="#d42a45"/>
<circle cx="298.59" cy="160.53" r="0.95" fill="#2b70cc"/>
<circle cx="299.25" cy="160.39" r="0.95" fill="#2b70cc"/>
<circle cx="299.75" cy="160.05" r="0.95" fill="#2b70cc"/>
<circle cx="299.68" cy="159.02" r="0.95" fill="#2b70cc"/>
<circle cx="300.33" cy="158.86" r="0.95" fill="#2b70cc"/>
<circle cx="301.01" cy="158.75" r="0.95" fill="#2b70cc"/>
<circle cx="301.90" cy="158.89" r="0.95" fill="#2b70cc"/>
<circle cx="301.77" cy="157.79" r="0.95" fill="#2b70cc"/>
<circle cx="302.32" cy="157.51" r="0.95" fill="#2b70cc"/>
<circle cx="302.84" cy="157.20" r="0.95" fill="#2b70cc"/>
<circle cx="303.41" cy="156.95" r="0.95" fill="#2b70cc"/>
<circle cx="303.52" cy="156.13" r="0.95" fill="#2b70cc"/>
<circle cx="304.11" cy="155.90" r="0.95" fill="#2b70cc"/>
<circle cx="304.59" cy="155.55" r="0.95" fill="#2b70cc"/>
<circle cx="306.00" cy="154.60" r="0.95" fill="#2b70cc"/>
<rect x="204.9" y="150.8" width="105.40" height="85.70" fill="none" stroke="#8a8a8a" stroke-width="0.9"/>
<line x1="203.20000000000002" y1="233.30" x2="204.9" y2="233.30" stroke="#666" stroke-width="0.7"/>
<text x="202.0" y="237.49" text-anchor="end" style="font-family:'DejaVu Sans',sans-serif;stroke:#111;stroke-width:0.45px;paint-order:stroke;font-size:9.7px" fill="#111">0.0</text>
<line x1="209.50" y1="236.5" x2="209.50" y2="238.2" stroke="#666" stroke-width="0.7"/>
<text x="209.10" y="247.77" text-anchor="middle" style="font-family:'DejaVu Sans',sans-serif;stroke:#111;stroke-width:0.45px;paint-order:stroke;font-size:9.7px" fill="#111">0.0</text>
<line x1="203.20000000000002" y1="217.56" x2="204.9" y2="217.56" stroke="#666" stroke-width="0.7"/>
<text x="202.0" y="221.89" text-anchor="end" style="font-family:'DejaVu Sans',sans-serif;stroke:#111;stroke-width:0.45px;paint-order:stroke;font-size:9.7px" fill="#111">0.2</text>
<line x1="228.80" y1="236.5" x2="228.80" y2="238.2" stroke="#666" stroke-width="0.7"/>
<text x="228.40" y="247.77" text-anchor="middle" style="font-family:'DejaVu Sans',sans-serif;stroke:#111;stroke-width:0.45px;paint-order:stroke;font-size:9.7px" fill="#111">0.2</text>
<line x1="203.20000000000002" y1="201.82" x2="204.9" y2="201.82" stroke="#666" stroke-width="0.7"/>
<text x="202.0" y="206.29" text-anchor="end" style="font-family:'DejaVu Sans',sans-serif;stroke:#111;stroke-width:0.45px;paint-order:stroke;font-size:9.7px" fill="#111">0.4</text>
<line x1="248.10" y1="236.5" x2="248.10" y2="238.2" stroke="#666" stroke-width="0.7"/>
<text x="247.70" y="247.77" text-anchor="middle" style="font-family:'DejaVu Sans',sans-serif;stroke:#111;stroke-width:0.45px;paint-order:stroke;font-size:9.7px" fill="#111">0.4</text>
<line x1="203.20000000000002" y1="186.08" x2="204.9" y2="186.08" stroke="#666" stroke-width="0.7"/>
<text x="202.0" y="190.69" text-anchor="end" style="font-family:'DejaVu Sans',sans-serif;stroke:#111;stroke-width:0.45px;paint-order:stroke;font-size:9.7px" fill="#111">0.6</text>
<line x1="267.40" y1="236.5" x2="267.40" y2="238.2" stroke="#666" stroke-width="0.7"/>
<text x="267.00" y="247.77" text-anchor="middle" style="font-family:'DejaVu Sans',sans-serif;stroke:#111;stroke-width:0.45px;paint-order:stroke;font-size:9.7px" fill="#111">0.6</text>
<line x1="203.20000000000002" y1="170.34" x2="204.9" y2="170.34" stroke="#666" stroke-width="0.7"/>
<text x="202.0" y="175.09" text-anchor="end" style="font-family:'DejaVu Sans',sans-serif;stroke:#111;stroke-width:0.45px;paint-order:stroke;font-size:9.7px" fill="#111">0.8</text>
<line x1="286.70" y1="236.5" x2="286.70" y2="238.2" stroke="#666" stroke-width="0.7"/>
<text x="286.30" y="247.77" text-anchor="middle" style="font-family:'DejaVu Sans',sans-serif;stroke:#111;stroke-width:0.45px;paint-order:stroke;font-size:9.7px" fill="#111">0.8</text>
<line x1="203.20000000000002" y1="154.60" x2="204.9" y2="154.60" stroke="#666" stroke-width="0.7"/>
<text x="202.0" y="159.49" text-anchor="end" style="font-family:'DejaVu Sans',sans-serif;stroke:#111;stroke-width:0.45px;paint-order:stroke;font-size:9.7px" fill="#111">1.0</text>
<line x1="306.00" y1="236.5" x2="306.00" y2="238.2" stroke="#666" stroke-width="0.7"/>
<text x="305.60" y="247.77" text-anchor="middle" style="font-family:'DejaVu Sans',sans-serif;stroke:#111;stroke-width:0.45px;paint-order:stroke;font-size:9.7px" fill="#111">1.0</text>
<text x="257.60" y="258.83" text-anchor="middle" style="font-family:'DejaVu Sans',sans-serif;stroke:#111;stroke-width:0.45px;paint-order:stroke;font-size:9.7px;font-style:italic" fill="#111">γ</text>
<text transform="translate(181.90,193.65) rotate(-90)" text-anchor="middle" style="font-family:'DejaVu Sans',sans-serif;stroke:#111;stroke-width:0.45px;paint-order:stroke;font-size:9.7px" fill="#111">J</text>
<defs><linearGradient id="gd" x1="0" y1="0" x2="0" y2="1"><stop offset="0.000" stop-color="#494687"/><stop offset="0.025" stop-color="#445999"/><stop offset="0.050" stop-color="#3f6eab"/><stop offset="0.075" stop-color="#3880b9"/><stop offset="0.100" stop-color="#3990ba"/><stop offset="0.125" stop-color="#459eb4"/><stop offset="0.150" stop-color="#52abae"/><stop offset="0.175" stop-color="#5eb9a9"/><stop offset="0.200" stop-color="#6ec5a5"/><stop offset="0.225" stop-color="#7ecca5"/><stop offset="0.250" stop-color="#8fd2a4"/><stop offset="0.275" stop-color="#a2d9a4"/><stop offset="0.300" stop-color="#b1dfa3"/><stop offset="0.325" stop-color="#bfe5a0"/><stop offset="0.350" stop-color="#cfec9d"/><stop offset="0.375" stop-color="#ddf19a"/><stop offset="0.400" stop-color="#e8f69b"/><stop offset="0.425" stop-color="#eff9a6"/><stop offset="0.450" stop-color="#f5fbaf"/><stop offset="0.475" stop-color="#fbfdb8"/><stop offset="0.500" stop-color="#fffdbc"/><stop offset="0.525" stop-color="#fff5ae"/><stop offset="0.550" stop-color="#feeda1"/><stop offset="0.575" stop-color="#fee695"/><stop offset="0.600" stop-color="#fedc88"/><stop offset="0.625" stop-color="#fed07e"/><stop offset="0.650" stop-color="#fdc574"/><stop offset="0.675" stop-color="#fdb768"/><stop offset="0.700" stop-color="#fcaa5f"/><stop offset="0.725" stop-color="#fa9b58"/><stop offset="0.750" stop-color="#f88c51"/><stop offset="0.775" stop-color="#f67a49"/><stop offset="0.800" stop-color="#f36b43"/><stop offset="0.825" stop-color="#eb6046"/><stop offset="0.850" stop-color="#e3534a"/><stop offset="0.875" stop-color="#dc484c"/><stop offset="0.900" stop-color="#d43d4f"/><stop offset="0.925" stop-color="#c52c4b"/><stop offset="0.950" stop-color="#b81e48"/><stop offset="0.975" stop-color="#ab0f45"/><stop offset="1.000" stop-color="#9e0142"/></linearGradient></defs>
<rect x="317.0" y="150.9" width="4.30" height="85.80" fill="url(#gd)" stroke="#333" stroke-width="0.7"/>
<line x1="321.3" y1="236.70" x2="323.3" y2="236.70" stroke="#666" stroke-width="0.7"/>
<text x="324.10" y="239.79" style="font-family:'DejaVu Sans',sans-serif;stroke:#111;stroke-width:0.45px;paint-order:stroke;font-size:9.7px" fill="#111">0.00</text>
<line x1="321.3" y1="214.92" x2="323.3" y2="214.92" stroke="#666" stroke-width="0.7"/>
<text x="324.10" y="218.02" style="font-family:'DejaVu Sans',sans-serif;stroke:#111;stroke-width:0.45px;paint-order:stroke;font-size:9.7px" fill="#111">0.25</text>
<line x1="321.3" y1="193.15" x2="323.3" y2="193.15" stroke="#666" stroke-width="0.7"/>
<text x="324.10" y="196.24" style="font-family:'DejaVu Sans',sans-serif;stroke:#111;stroke-width:0.45px;paint-order:stroke;font-size:9.7px" fill="#111">0.50</text>
<line x1="321.3" y1="171.37" x2="323.3" y2="171.37" stroke="#666" stroke-width="0.7"/>
<text x="324.10" y="174.46" style="font-family:'DejaVu Sans',sans-serif;stroke:#111;stroke-width:0.45px;paint-order:stroke;font-size:9.7px" fill="#111">0.75</text></svg>
</body></html>
